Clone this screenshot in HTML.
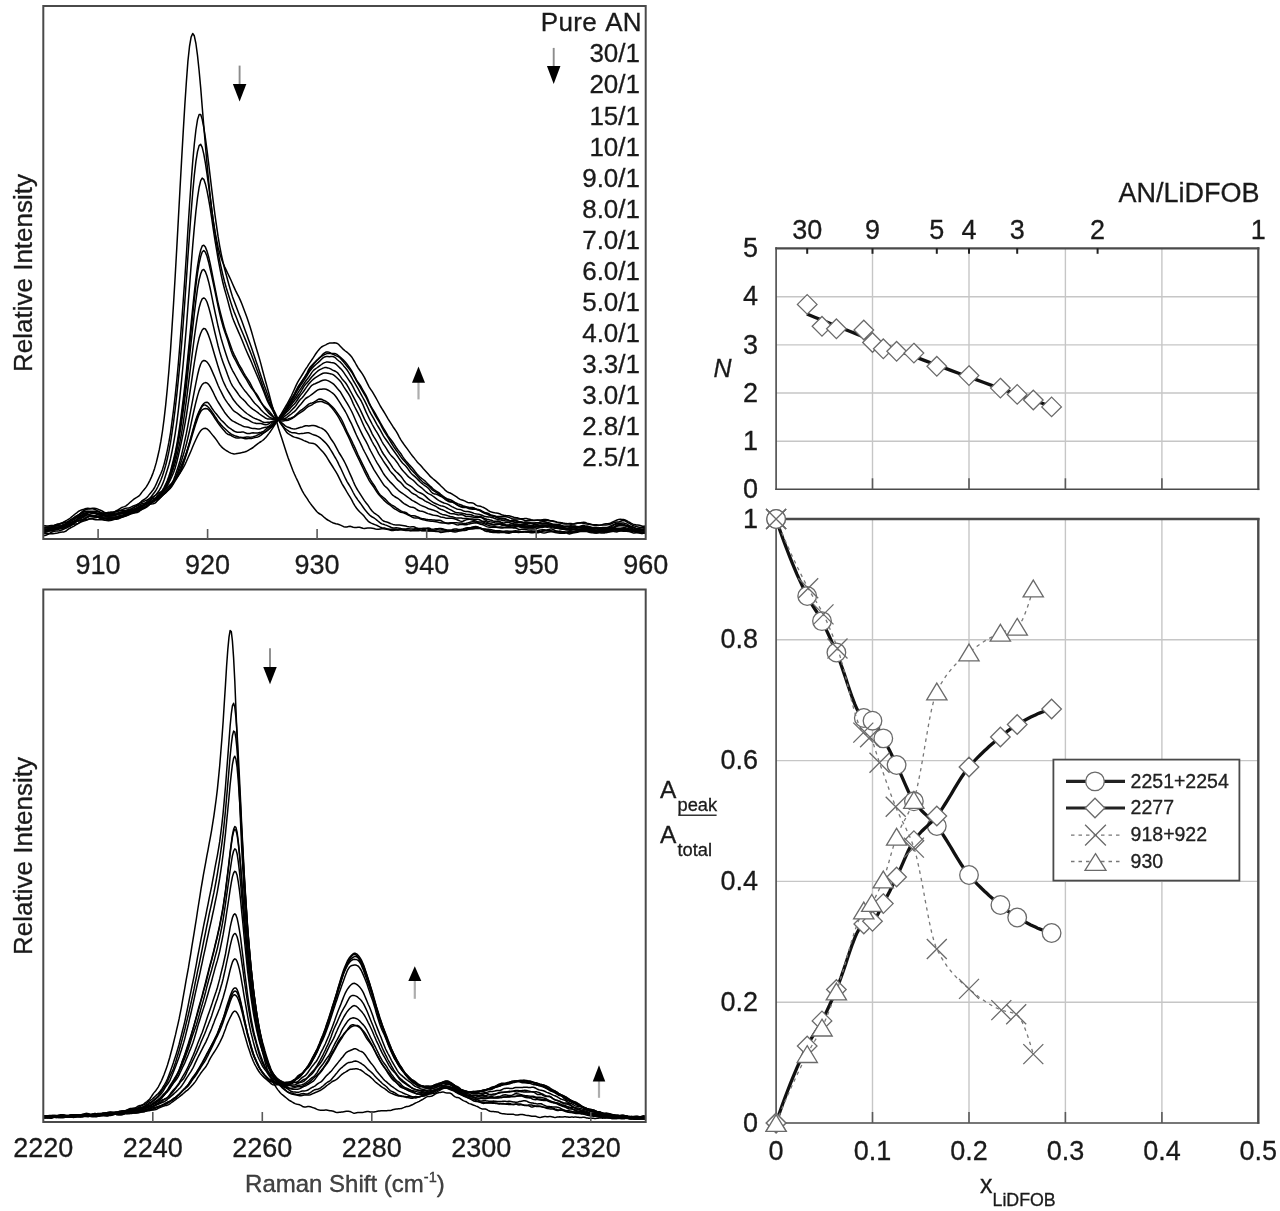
<!DOCTYPE html>
<html lang="en"><head><meta charset="utf-8"><title>Raman spectra of AN/LiDFOB mixtures</title>
<style>html,body{margin:0;padding:0;background:#fff}text{stroke:#1a1a1a;stroke-width:0.3px}svg{display:block}</style></head>
<body>
<svg width="1280" height="1211" viewBox="0 0 1280 1211" font-family="Liberation Sans, Arial, sans-serif">
<rect width="1280" height="1211" fill="#fff"/>
<g id="tl">
<g fill="none" stroke="#000" stroke-width="1.5" stroke-linejoin="round">
<path d="M43.3,531.2 L44.9,530.8 L46.5,530.3 L48.1,529.5 L49.7,528.9 L51.2,528.4 L52.8,528.2 L54.4,528.1 L56.0,528.0 L57.6,527.7 L59.2,527.1 L60.8,526.0 L62.4,524.9 L64.0,524.2 L65.6,523.6 L67.1,522.6 L68.7,521.2 L70.3,519.9 L71.9,518.8 L73.5,517.9 L75.1,516.9 L76.7,515.9 L78.3,514.8 L79.9,513.9 L81.4,513.0 L83.0,512.3 L84.6,511.8 L86.2,511.4 L87.8,511.2 L89.4,511.5 L91.0,511.7 L92.6,512.0 L94.2,512.2 L95.8,512.7 L97.3,513.3 L98.9,513.8 L100.5,513.8 L102.1,513.6 L103.7,513.6 L105.3,513.8 L106.9,513.8 L108.5,513.5 L110.1,513.3 L111.6,513.0 L113.2,512.4 L114.8,511.6 L116.4,510.6 L118.0,509.8 L119.6,508.8 L121.2,507.8 L122.8,507.1 L124.4,506.6 L126.0,505.9 L127.5,504.7 L129.1,503.2 L130.7,501.8 L132.3,500.5 L133.9,499.2 L135.5,498.1 L137.1,497.2 L138.7,496.2 L140.3,494.5 L141.8,492.4 L143.4,490.4 L145.0,488.6 L146.6,486.4 L148.2,483.7 L149.8,480.6 L151.4,477.1 L153.0,473.1 L154.6,468.4 L156.2,462.9 L157.7,456.8 L159.3,449.7 L160.9,441.2 L162.5,431.0 L164.1,418.8 L165.7,404.8 L167.3,388.8 L168.9,370.8 L170.5,350.4 L172.0,327.6 L173.6,302.8 L175.2,276.0 L176.8,247.6 L178.4,218.4 L180.0,189.0 L181.6,160.1 L183.2,132.1 L184.8,105.5 L186.4,81.5 L187.9,61.4 L189.5,46.5 L191.1,37.1 L192.7,33.5 L194.3,35.8 L195.9,43.5 L197.5,55.3 L199.1,70.5 L200.7,87.9 L202.2,106.8 L203.8,126.1 L205.4,145.2 L207.0,163.6 L208.6,180.8 L210.2,196.3 L211.8,209.9 L213.4,221.5 L215.0,231.4 L216.6,239.9 L218.1,247.2 L219.7,253.3 L221.3,258.4 L222.9,262.7 L224.5,266.5 L226.1,269.9 L227.7,273.3 L229.3,276.6 L230.9,280.0 L232.4,283.5 L234.0,287.1 L235.6,290.6 L237.2,293.8 L238.8,296.9 L240.4,300.4 L242.0,304.3 L243.6,308.5 L245.2,312.8 L246.8,317.0 L248.3,321.4 L249.9,326.2 L251.5,331.5 L253.1,337.1 L254.7,342.8 L256.3,348.2 L257.9,353.5 L259.5,358.9 L261.1,364.6 L262.6,370.5 L264.2,376.4 L265.8,382.2 L267.4,387.9 L269.0,393.7 L270.6,399.9 L272.2,405.9 L273.8,411.5 L275.4,417.1 L277.0,422.8 L278.5,428.3 L280.1,433.3 L281.7,438.1 L283.3,442.9 L284.9,448.0 L286.5,453.0 L288.1,457.8 L289.7,462.1 L291.3,466.2 L292.8,470.2 L294.4,474.0 L296.0,477.5 L297.6,480.8 L299.2,484.4 L300.8,487.9 L302.4,491.1 L304.0,493.8 L305.6,496.3 L307.2,498.7 L308.7,501.1 L310.3,503.4 L311.9,505.5 L313.5,507.5 L315.1,509.5 L316.7,511.5 L318.3,513.0 L319.9,514.0 L321.5,514.9 L323.0,516.2 L324.6,517.7 L326.2,519.0 L327.8,520.0 L329.4,520.9 L331.0,521.9 L332.6,522.7 L334.2,523.2 L335.8,523.7 L337.4,524.1 L338.9,524.5 L340.5,525.1 L342.1,525.9 L343.7,526.7 L345.3,527.1 L346.9,526.9 L348.5,526.5 L350.1,526.3 L351.7,526.7 L353.2,527.2 L354.8,527.5 L356.4,527.4 L358.0,527.2 L359.6,527.2 L361.2,527.7 L362.8,528.3 L364.4,528.5 L366.0,528.3 L367.6,528.1 L369.1,528.1 L370.7,528.1 L372.3,528.3 L373.9,528.5 L375.5,529.0 L377.1,529.3 L378.7,529.3 L380.3,529.0 L381.9,528.8 L383.4,528.8 L385.0,529.1 L386.6,529.3 L388.2,529.6 L389.8,530.0 L391.4,530.4 L393.0,530.4 L394.6,530.3 L396.2,530.1 L397.8,530.0 L399.3,529.8 L400.9,529.7 L402.5,529.9 L404.1,530.3 L405.7,530.4 L407.3,530.5 L408.9,530.6 L410.5,530.6 L412.1,530.2 L413.7,529.6 L415.2,529.1 L416.8,528.8 L418.4,529.1 L420.0,529.9 L421.6,530.7 L423.2,530.7 L424.8,530.4 L426.4,530.5 L428.0,530.9 L429.5,531.1 L431.1,531.0 L432.7,531.0 L434.3,531.2 L435.9,531.4 L437.5,531.4 L439.1,531.1 L440.7,530.9 L442.3,531.0 L443.9,531.1 L445.4,531.1 L447.0,531.0 L448.6,530.9 L450.2,530.9 L451.8,531.4 L453.4,531.8 L455.0,532.0 L456.6,531.8 L458.2,531.3 L459.7,530.8 L461.3,530.3 L462.9,530.2 L464.5,530.2 L466.1,529.8 L467.7,529.2 L469.3,528.9 L470.9,528.9 L472.5,528.9 L474.1,528.7 L475.6,528.6 L477.2,528.6 L478.8,528.4 L480.4,528.3 L482.0,529.0 L483.6,530.0 L485.2,531.0 L486.8,531.4 L488.4,531.5 L489.9,531.5 L491.5,531.5 L493.1,531.6 L494.7,531.8 L496.3,532.2 L497.9,532.5 L499.5,532.4 L501.1,532.0 L502.7,531.8 L504.3,532.1 L505.8,532.4 L507.4,532.5 L509.0,532.1 L510.6,531.7 L512.2,531.7 L513.8,531.9 L515.4,532.2 L517.0,532.1 L518.6,532.0 L520.1,531.9 L521.7,531.7 L523.3,531.6 L524.9,531.6 L526.5,531.9 L528.1,532.1 L529.7,532.4 L531.3,532.7 L532.9,532.7 L534.5,532.5 L536.0,532.2 L537.6,532.1 L539.2,532.1 L540.8,532.3 L542.4,532.7 L544.0,532.9 L545.6,532.7 L547.2,532.2 L548.8,532.0 L550.3,531.8 L551.9,531.8 L553.5,532.0 L555.1,532.4 L556.7,532.8 L558.3,533.1 L559.9,533.3 L561.5,533.3 L563.1,533.3 L564.7,533.2 L566.2,532.7 L567.8,532.0 L569.4,531.8 L571.0,532.2 L572.6,532.5 L574.2,532.0 L575.8,531.1 L577.4,530.5 L579.0,530.3 L580.5,530.3 L582.1,530.3 L583.7,530.3 L585.3,530.4 L586.9,530.6 L588.5,530.9 L590.1,531.3 L591.7,531.9 L593.3,532.6 L594.9,533.1 L596.4,533.0 L598.0,532.5 L599.6,532.0 L601.2,531.8 L602.8,531.7 L604.4,531.9 L606.0,532.4 L607.6,532.4 L609.2,531.9 L610.7,531.3 L612.3,531.1 L613.9,531.4 L615.5,531.8 L617.1,531.9 L618.7,531.3 L620.3,530.5 L621.9,530.2 L623.5,530.4 L625.1,530.6 L626.6,530.7 L628.2,531.0 L629.8,531.6 L631.4,532.3 L633.0,532.9 L634.6,532.9 L636.2,532.8 L637.8,532.7 L639.4,532.7 L640.9,532.6 L642.5,532.3 L644.1,532.2 L645.7,532.4"/>
<path d="M43.3,533.4 L44.9,533.4 L46.5,533.6 L48.1,533.6 L49.7,533.1 L51.2,532.4 L52.8,531.7 L54.4,531.2 L56.0,531.1 L57.6,531.0 L59.2,530.8 L60.8,530.4 L62.4,529.8 L64.0,529.0 L65.6,528.3 L67.1,527.7 L68.7,526.9 L70.3,526.0 L71.9,525.0 L73.5,523.8 L75.1,522.6 L76.7,521.6 L78.3,520.6 L79.9,519.5 L81.4,518.2 L83.0,516.9 L84.6,515.8 L86.2,515.1 L87.8,514.6 L89.4,514.2 L91.0,513.8 L92.6,513.4 L94.2,513.2 L95.8,513.1 L97.3,513.4 L98.9,513.8 L100.5,514.4 L102.1,514.7 L103.7,514.9 L105.3,515.1 L106.9,515.5 L108.5,515.9 L110.1,516.1 L111.6,515.8 L113.2,515.5 L114.8,515.2 L116.4,514.9 L118.0,514.4 L119.6,514.0 L121.2,513.7 L122.8,513.3 L124.4,512.3 L126.0,511.3 L127.5,510.5 L129.1,509.9 L130.7,509.2 L132.3,508.3 L133.9,507.4 L135.5,506.4 L137.1,505.4 L138.7,504.1 L140.3,502.5 L141.8,501.0 L143.4,500.0 L145.0,499.0 L146.6,497.7 L148.2,495.9 L149.8,493.9 L151.4,492.0 L153.0,490.0 L154.6,487.5 L156.2,484.2 L157.7,480.6 L159.3,477.0 L160.9,473.5 L162.5,469.4 L164.1,464.1 L165.7,457.6 L167.3,450.3 L168.9,442.2 L170.5,432.8 L172.0,421.7 L173.6,409.4 L175.2,395.7 L176.8,380.2 L178.4,362.8 L180.0,343.5 L181.6,322.9 L183.2,301.3 L184.8,278.7 L186.4,254.8 L187.9,230.1 L189.5,205.5 L191.1,182.5 L192.7,161.9 L194.3,144.2 L195.9,130.0 L197.5,119.8 L199.1,114.6 L200.7,114.5 L202.2,119.3 L203.8,127.6 L205.4,138.2 L207.0,150.1 L208.6,163.0 L210.2,176.5 L211.8,189.9 L213.4,202.8 L215.0,215.0 L216.6,226.3 L218.1,236.7 L219.7,246.1 L221.3,254.3 L222.9,261.6 L224.5,268.2 L226.1,274.3 L227.7,280.3 L229.3,286.0 L230.9,291.5 L232.4,296.4 L234.0,300.8 L235.6,305.1 L237.2,309.3 L238.8,313.4 L240.4,317.4 L242.0,321.6 L243.6,326.0 L245.2,330.5 L246.8,334.8 L248.3,339.0 L249.9,343.3 L251.5,347.8 L253.1,352.5 L254.7,357.2 L256.3,361.9 L257.9,366.6 L259.5,371.4 L261.1,376.2 L262.6,380.8 L264.2,385.3 L265.8,389.6 L267.4,393.9 L269.0,398.3 L270.6,402.6 L272.2,406.6 L273.8,410.1 L275.4,413.4 L277.0,416.8 L278.5,420.1 L280.1,422.9 L281.7,425.1 L283.3,427.4 L284.9,429.8 L286.5,432.1 L288.1,433.7 L289.7,434.6 L291.3,435.6 L292.8,436.5 L294.4,437.1 L296.0,437.6 L297.6,438.0 L299.2,438.5 L300.8,439.1 L302.4,439.8 L304.0,440.6 L305.6,441.2 L307.2,441.9 L308.7,442.7 L310.3,443.1 L311.9,443.3 L313.5,443.5 L315.1,444.1 L316.7,445.4 L318.3,447.0 L319.9,448.8 L321.5,450.5 L323.0,452.1 L324.6,454.0 L326.2,456.2 L327.8,458.8 L329.4,461.5 L331.0,464.0 L332.6,466.5 L334.2,469.1 L335.8,471.6 L337.4,474.3 L338.9,477.3 L340.5,480.6 L342.1,483.8 L343.7,486.5 L345.3,489.2 L346.9,492.0 L348.5,494.7 L350.1,497.2 L351.7,499.8 L353.2,502.8 L354.8,505.6 L356.4,508.0 L358.0,509.9 L359.6,511.8 L361.2,513.3 L362.8,514.8 L364.4,516.6 L366.0,518.7 L367.6,520.6 L369.1,522.0 L370.7,522.9 L372.3,523.6 L373.9,524.3 L375.5,524.9 L377.1,525.5 L378.7,526.3 L380.3,527.2 L381.9,527.8 L383.4,528.0 L385.0,528.1 L386.6,528.6 L388.2,529.1 L389.8,529.3 L391.4,529.3 L393.0,529.2 L394.6,529.2 L396.2,529.6 L397.8,530.0 L399.3,529.8 L400.9,529.5 L402.5,529.5 L404.1,529.6 L405.7,529.7 L407.3,529.9 L408.9,530.3 L410.5,530.7 L412.1,530.7 L413.7,530.7 L415.2,530.8 L416.8,530.8 L418.4,530.7 L420.0,530.4 L421.6,530.3 L423.2,530.4 L424.8,530.7 L426.4,530.8 L428.0,530.8 L429.5,530.7 L431.1,530.7 L432.7,530.9 L434.3,531.0 L435.9,531.0 L437.5,531.3 L439.1,531.9 L440.7,532.5 L442.3,532.3 L443.9,532.0 L445.4,531.8 L447.0,531.6 L448.6,531.4 L450.2,531.1 L451.8,531.1 L453.4,531.1 L455.0,530.7 L456.6,530.4 L458.2,530.4 L459.7,530.7 L461.3,530.7 L462.9,530.6 L464.5,530.5 L466.1,530.2 L467.7,529.6 L469.3,529.0 L470.9,528.3 L472.5,527.8 L474.1,527.8 L475.6,527.9 L477.2,528.0 L478.8,528.0 L480.4,528.3 L482.0,528.9 L483.6,529.3 L485.2,529.5 L486.8,530.0 L488.4,531.1 L489.9,532.0 L491.5,532.3 L493.1,532.4 L494.7,532.5 L496.3,532.6 L497.9,532.4 L499.5,532.3 L501.1,532.4 L502.7,532.6 L504.3,532.5 L505.8,532.7 L507.4,533.0 L509.0,533.2 L510.6,532.8 L512.2,532.2 L513.8,531.9 L515.4,532.0 L517.0,532.3 L518.6,532.5 L520.1,532.3 L521.7,532.0 L523.3,531.8 L524.9,531.8 L526.5,531.9 L528.1,531.9 L529.7,531.7 L531.3,531.6 L532.9,531.7 L534.5,532.1 L536.0,532.6 L537.6,532.8 L539.2,532.4 L540.8,531.6 L542.4,530.7 L544.0,530.3 L545.6,530.4 L547.2,530.6 L548.8,530.7 L550.3,530.7 L551.9,530.9 L553.5,531.2 L555.1,531.6 L556.7,531.9 L558.3,532.0 L559.9,532.1 L561.5,532.0 L563.1,531.8 L564.7,532.0 L566.2,532.7 L567.8,533.6 L569.4,533.9 L571.0,533.6 L572.6,533.0 L574.2,532.7 L575.8,532.4 L577.4,532.2 L579.0,531.8 L580.5,531.5 L582.1,531.4 L583.7,531.4 L585.3,531.3 L586.9,531.5 L588.5,532.1 L590.1,532.6 L591.7,532.8 L593.3,532.7 L594.9,532.8 L596.4,532.8 L598.0,532.6 L599.6,532.7 L601.2,532.9 L602.8,533.0 L604.4,532.9 L606.0,532.6 L607.6,532.0 L609.2,531.5 L610.7,531.1 L612.3,530.4 L613.9,529.6 L615.5,529.0 L617.1,528.9 L618.7,529.1 L620.3,529.1 L621.9,528.9 L623.5,528.7 L625.1,528.8 L626.6,529.2 L628.2,529.7 L629.8,530.0 L631.4,530.2 L633.0,530.4 L634.6,530.8 L636.2,531.4 L637.8,532.0 L639.4,532.8 L640.9,533.4 L642.5,533.4 L644.1,533.0 L645.7,532.6"/>
<path d="M43.3,535.6 L44.9,535.5 L46.5,535.0 L48.1,534.2 L49.7,533.8 L51.2,533.7 L52.8,533.7 L54.4,533.5 L56.0,533.2 L57.6,532.9 L59.2,532.5 L60.8,532.2 L62.4,532.0 L64.0,531.9 L65.6,531.3 L67.1,530.1 L68.7,528.9 L70.3,528.0 L71.9,527.2 L73.5,526.3 L75.1,525.3 L76.7,524.3 L78.3,523.3 L79.9,522.2 L81.4,521.1 L83.0,520.2 L84.6,519.7 L86.2,519.6 L87.8,519.5 L89.4,519.0 L91.0,518.8 L92.6,519.0 L94.2,519.5 L95.8,519.7 L97.3,519.7 L98.9,519.7 L100.5,519.8 L102.1,519.8 L103.7,519.8 L105.3,520.2 L106.9,520.6 L108.5,520.8 L110.1,520.6 L111.6,520.2 L113.2,519.7 L114.8,519.3 L116.4,519.2 L118.0,519.0 L119.6,518.3 L121.2,517.3 L122.8,516.5 L124.4,516.1 L126.0,515.2 L127.5,514.1 L129.1,512.9 L130.7,512.2 L132.3,511.7 L133.9,511.2 L135.5,510.5 L137.1,509.4 L138.7,508.1 L140.3,506.9 L141.8,506.1 L143.4,505.2 L145.0,503.7 L146.6,502.0 L148.2,500.3 L149.8,498.5 L151.4,496.4 L153.0,494.3 L154.6,492.2 L156.2,489.9 L157.7,487.0 L159.3,483.7 L160.9,480.0 L162.5,475.8 L164.1,470.8 L165.7,465.2 L167.3,458.8 L168.9,451.4 L170.5,442.8 L172.0,432.9 L173.6,421.6 L175.2,408.9 L176.8,394.6 L178.4,379.1 L180.0,362.4 L181.6,344.1 L183.2,323.7 L184.8,301.9 L186.4,279.3 L187.9,256.7 L189.5,234.3 L191.1,212.7 L192.7,192.7 L194.3,175.4 L195.9,161.6 L197.5,151.6 L199.1,145.6 L200.7,144.3 L202.2,147.4 L203.8,154.1 L205.4,163.2 L207.0,173.8 L208.6,185.3 L210.2,197.5 L211.8,210.0 L213.4,222.1 L215.0,233.1 L216.6,243.3 L218.1,252.4 L219.7,260.6 L221.3,268.1 L222.9,275.1 L224.5,281.5 L226.1,287.3 L227.7,292.5 L229.3,297.5 L230.9,302.6 L232.4,307.3 L234.0,311.6 L235.6,315.5 L237.2,319.6 L238.8,323.9 L240.4,327.8 L242.0,331.5 L243.6,335.3 L245.2,339.1 L246.8,343.0 L248.3,346.9 L249.9,350.9 L251.5,355.0 L253.1,359.2 L254.7,363.6 L256.3,367.9 L257.9,372.2 L259.5,376.7 L261.1,381.3 L262.6,385.7 L264.2,390.0 L265.8,394.2 L267.4,398.2 L269.0,401.8 L270.6,405.1 L272.2,408.3 L273.8,411.9 L275.4,415.1 L277.0,417.6 L278.5,419.5 L280.1,421.8 L281.7,424.3 L283.3,426.6 L284.9,428.3 L286.5,429.6 L288.1,430.7 L289.7,431.8 L291.3,432.4 L292.8,432.7 L294.4,432.8 L296.0,433.1 L297.6,433.5 L299.2,433.7 L300.8,433.6 L302.4,433.4 L304.0,433.2 L305.6,432.9 L307.2,432.7 L308.7,432.8 L310.3,433.4 L311.9,434.1 L313.5,434.7 L315.1,435.2 L316.7,435.8 L318.3,436.6 L319.9,437.6 L321.5,439.0 L323.0,440.4 L324.6,441.9 L326.2,443.5 L327.8,445.5 L329.4,447.8 L331.0,450.3 L332.6,453.0 L334.2,455.8 L335.8,458.5 L337.4,461.4 L338.9,464.6 L340.5,467.8 L342.1,471.3 L343.7,474.7 L345.3,478.2 L346.9,481.3 L348.5,484.0 L350.1,486.6 L351.7,489.5 L353.2,492.5 L354.8,495.3 L356.4,497.8 L358.0,500.1 L359.6,502.2 L361.2,504.4 L362.8,506.7 L364.4,509.0 L366.0,511.1 L367.6,512.9 L369.1,514.6 L370.7,516.0 L372.3,517.0 L373.9,517.9 L375.5,519.0 L377.1,520.3 L378.7,521.7 L380.3,523.0 L381.9,523.9 L383.4,524.3 L385.0,524.9 L386.6,525.4 L388.2,526.1 L389.8,526.8 L391.4,527.5 L393.0,528.0 L394.6,528.0 L396.2,527.8 L397.8,527.9 L399.3,528.2 L400.9,528.6 L402.5,528.9 L404.1,529.1 L405.7,528.9 L407.3,528.7 L408.9,528.8 L410.5,529.0 L412.1,529.1 L413.7,528.9 L415.2,528.8 L416.8,529.1 L418.4,529.8 L420.0,530.3 L421.6,530.2 L423.2,529.5 L424.8,529.3 L426.4,529.5 L428.0,529.7 L429.5,529.7 L431.1,529.8 L432.7,530.1 L434.3,530.2 L435.9,529.8 L437.5,529.3 L439.1,529.1 L440.7,529.1 L442.3,529.4 L443.9,529.8 L445.4,530.3 L447.0,530.9 L448.6,531.1 L450.2,531.0 L451.8,530.7 L453.4,530.7 L455.0,530.6 L456.6,530.3 L458.2,529.9 L459.7,529.8 L461.3,529.8 L462.9,529.5 L464.5,529.0 L466.1,528.6 L467.7,528.6 L469.3,528.6 L470.9,528.4 L472.5,528.2 L474.1,528.0 L475.6,527.7 L477.2,527.5 L478.8,527.6 L480.4,528.1 L482.0,528.7 L483.6,529.0 L485.2,529.3 L486.8,529.8 L488.4,530.4 L489.9,530.8 L491.5,531.3 L493.1,531.8 L494.7,531.8 L496.3,531.6 L497.9,531.7 L499.5,532.1 L501.1,532.0 L502.7,531.6 L504.3,531.2 L505.8,531.0 L507.4,531.0 L509.0,531.2 L510.6,531.3 L512.2,531.2 L513.8,530.9 L515.4,530.8 L517.0,530.9 L518.6,531.1 L520.1,531.4 L521.7,531.7 L523.3,531.9 L524.9,531.8 L526.5,531.7 L528.1,531.5 L529.7,531.4 L531.3,531.3 L532.9,531.3 L534.5,531.3 L536.0,531.1 L537.6,530.8 L539.2,530.3 L540.8,530.0 L542.4,529.8 L544.0,529.8 L545.6,529.9 L547.2,529.8 L548.8,529.4 L550.3,529.0 L551.9,529.1 L553.5,529.6 L555.1,530.5 L556.7,531.1 L558.3,531.2 L559.9,531.1 L561.5,531.4 L563.1,531.9 L564.7,532.1 L566.2,532.2 L567.8,532.5 L569.4,532.8 L571.0,532.5 L572.6,531.9 L574.2,531.3 L575.8,530.8 L577.4,530.2 L579.0,529.7 L580.5,529.5 L582.1,529.5 L583.7,529.8 L585.3,530.3 L586.9,530.6 L588.5,530.6 L590.1,530.6 L591.7,531.0 L593.3,531.5 L594.9,531.7 L596.4,531.4 L598.0,531.0 L599.6,530.9 L601.2,531.3 L602.8,531.6 L604.4,531.7 L606.0,531.5 L607.6,531.5 L609.2,531.7 L610.7,531.7 L612.3,531.5 L613.9,531.0 L615.5,530.9 L617.1,531.0 L618.7,531.1 L620.3,531.1 L621.9,531.1 L623.5,531.2 L625.1,531.3 L626.6,531.3 L628.2,531.4 L629.8,531.5 L631.4,531.3 L633.0,531.2 L634.6,531.2 L636.2,531.4 L637.8,531.7 L639.4,532.1 L640.9,532.3 L642.5,532.4 L644.1,532.4 L645.7,532.6"/>
<path d="M43.3,529.4 L44.9,529.6 L46.5,529.7 L48.1,529.4 L49.7,528.8 L51.2,527.9 L52.8,527.3 L54.4,527.1 L56.0,527.2 L57.6,527.2 L59.2,526.7 L60.8,526.1 L62.4,525.7 L64.0,525.1 L65.6,524.1 L67.1,522.9 L68.7,521.9 L70.3,521.1 L71.9,520.3 L73.5,519.4 L75.1,518.3 L76.7,517.1 L78.3,515.7 L79.9,514.2 L81.4,512.9 L83.0,512.1 L84.6,511.8 L86.2,511.6 L87.8,511.4 L89.4,511.4 L91.0,511.8 L92.6,512.4 L94.2,513.2 L95.8,513.8 L97.3,514.5 L98.9,515.0 L100.5,515.0 L102.1,515.1 L103.7,515.5 L105.3,516.1 L106.9,516.7 L108.5,517.2 L110.1,517.4 L111.6,517.3 L113.2,517.2 L114.8,517.1 L116.4,516.7 L118.0,516.1 L119.6,515.8 L121.2,515.5 L122.8,515.1 L124.4,514.4 L126.0,513.7 L127.5,513.1 L129.1,512.7 L130.7,512.1 L132.3,511.4 L133.9,510.8 L135.5,510.4 L137.1,509.8 L138.7,508.9 L140.3,507.8 L141.8,506.6 L143.4,505.6 L145.0,504.8 L146.6,503.8 L148.2,502.5 L149.8,500.8 L151.4,499.0 L153.0,497.4 L154.6,496.0 L156.2,494.5 L157.7,492.5 L159.3,490.2 L160.9,487.5 L162.5,484.2 L164.1,480.0 L165.7,475.1 L167.3,470.1 L168.9,464.8 L170.5,458.7 L172.0,451.5 L173.6,443.1 L175.2,433.6 L176.8,422.6 L178.4,409.9 L180.0,395.7 L181.6,380.1 L183.2,363.5 L184.8,345.5 L186.4,326.6 L187.9,306.8 L189.5,286.5 L191.1,265.9 L192.7,245.9 L194.3,227.6 L195.9,211.4 L197.5,197.8 L199.1,187.5 L200.7,180.7 L202.2,178.1 L203.8,179.3 L205.4,183.9 L207.0,190.7 L208.6,199.0 L210.2,208.4 L211.8,218.9 L213.4,229.9 L215.0,240.5 L216.6,250.0 L218.1,258.8 L219.7,267.3 L221.3,275.5 L222.9,282.8 L224.5,289.0 L226.1,294.6 L227.7,300.4 L229.3,306.5 L230.9,312.3 L232.4,317.3 L234.0,321.4 L235.6,325.2 L237.2,328.9 L238.8,332.6 L240.4,336.3 L242.0,340.0 L243.6,344.0 L245.2,348.0 L246.8,351.7 L248.3,355.1 L249.9,358.6 L251.5,362.3 L253.1,366.2 L254.7,370.0 L256.3,373.7 L257.9,377.5 L259.5,381.3 L261.1,385.0 L262.6,388.8 L264.2,392.8 L265.8,396.9 L267.4,400.9 L269.0,404.1 L270.6,406.9 L272.2,409.7 L273.8,412.6 L275.4,415.4 L277.0,417.8 L278.5,419.9 L280.1,421.5 L281.7,422.7 L283.3,424.1 L284.9,425.6 L286.5,426.6 L288.1,427.2 L289.7,427.8 L291.3,428.5 L292.8,428.8 L294.4,428.9 L296.0,428.7 L297.6,428.3 L299.2,427.7 L300.8,427.3 L302.4,426.9 L304.0,426.3 L305.6,425.7 L307.2,425.7 L308.7,425.9 L310.3,425.7 L311.9,425.6 L313.5,425.5 L315.1,425.8 L316.7,426.3 L318.3,427.0 L319.9,427.6 L321.5,428.1 L323.0,429.0 L324.6,430.1 L326.2,431.6 L327.8,433.7 L329.4,436.4 L331.0,439.0 L332.6,441.3 L334.2,443.7 L335.8,446.6 L337.4,449.7 L338.9,452.5 L340.5,455.0 L342.1,457.6 L343.7,460.4 L345.3,463.5 L346.9,466.9 L348.5,470.5 L350.1,474.1 L351.7,477.6 L353.2,481.3 L354.8,484.9 L356.4,488.0 L358.0,490.7 L359.6,493.2 L361.2,495.7 L362.8,498.2 L364.4,500.6 L366.0,502.7 L367.6,504.7 L369.1,506.9 L370.7,509.3 L372.3,511.3 L373.9,512.8 L375.5,513.9 L377.1,515.0 L378.7,516.2 L380.3,517.9 L381.9,519.7 L383.4,521.0 L385.0,521.5 L386.6,521.9 L388.2,522.5 L389.8,523.2 L391.4,523.9 L393.0,524.4 L394.6,524.8 L396.2,525.1 L397.8,525.1 L399.3,525.1 L400.9,525.2 L402.5,525.4 L404.1,525.7 L405.7,526.1 L407.3,526.5 L408.9,526.8 L410.5,526.9 L412.1,526.8 L413.7,526.8 L415.2,527.3 L416.8,528.1 L418.4,528.5 L420.0,528.6 L421.6,528.4 L423.2,528.3 L424.8,528.3 L426.4,528.2 L428.0,528.0 L429.5,528.3 L431.1,528.9 L432.7,529.2 L434.3,529.0 L435.9,528.7 L437.5,528.7 L439.1,528.6 L440.7,528.5 L442.3,528.8 L443.9,529.2 L445.4,529.6 L447.0,529.9 L448.6,530.1 L450.2,530.1 L451.8,529.7 L453.4,529.2 L455.0,528.9 L456.6,529.1 L458.2,529.4 L459.7,529.5 L461.3,529.3 L462.9,529.0 L464.5,528.5 L466.1,528.1 L467.7,527.8 L469.3,527.7 L470.9,527.5 L472.5,527.1 L474.1,526.7 L475.6,526.5 L477.2,526.7 L478.8,527.4 L480.4,528.3 L482.0,529.0 L483.6,529.3 L485.2,529.2 L486.8,529.2 L488.4,529.3 L489.9,529.5 L491.5,529.8 L493.1,530.2 L494.7,530.6 L496.3,530.8 L497.9,530.8 L499.5,530.7 L501.1,531.0 L502.7,531.4 L504.3,531.9 L505.8,532.1 L507.4,532.0 L509.0,531.9 L510.6,531.8 L512.2,531.9 L513.8,531.9 L515.4,531.9 L517.0,531.9 L518.6,532.1 L520.1,532.1 L521.7,532.0 L523.3,531.8 L524.9,531.6 L526.5,531.3 L528.1,531.1 L529.7,531.0 L531.3,531.0 L532.9,531.2 L534.5,531.3 L536.0,531.2 L537.6,531.3 L539.2,531.6 L540.8,531.7 L542.4,531.3 L544.0,530.9 L545.6,530.8 L547.2,530.7 L548.8,530.6 L550.3,530.8 L551.9,531.3 L553.5,531.6 L555.1,531.6 L556.7,531.5 L558.3,531.8 L559.9,532.0 L561.5,531.9 L563.1,531.9 L564.7,532.1 L566.2,532.2 L567.8,532.1 L569.4,531.8 L571.0,531.8 L572.6,531.9 L574.2,531.9 L575.8,531.7 L577.4,531.4 L579.0,531.2 L580.5,531.0 L582.1,530.6 L583.7,530.4 L585.3,530.4 L586.9,530.9 L588.5,531.4 L590.1,531.6 L591.7,531.6 L593.3,531.8 L594.9,532.2 L596.4,532.7 L598.0,532.6 L599.6,532.2 L601.2,531.9 L602.8,531.9 L604.4,531.9 L606.0,531.6 L607.6,530.9 L609.2,530.1 L610.7,529.3 L612.3,528.8 L613.9,528.1 L615.5,527.1 L617.1,526.1 L618.7,525.7 L620.3,525.7 L621.9,525.7 L623.5,525.6 L625.1,525.7 L626.6,526.0 L628.2,526.6 L629.8,527.6 L631.4,528.7 L633.0,529.8 L634.6,530.8 L636.2,531.5 L637.8,532.1 L639.4,532.5 L640.9,532.8 L642.5,532.9 L644.1,532.8 L645.7,532.7"/>
<path d="M43.3,532.4 L44.9,532.2 L46.5,532.0 L48.1,531.5 L49.7,530.8 L51.2,530.2 L52.8,530.0 L54.4,529.8 L56.0,529.5 L57.6,529.4 L59.2,529.1 L60.8,528.7 L62.4,528.2 L64.0,527.6 L65.6,527.0 L67.1,526.4 L68.7,525.7 L70.3,524.5 L71.9,523.0 L73.5,521.7 L75.1,520.7 L76.7,519.8 L78.3,518.8 L79.9,517.9 L81.4,517.1 L83.0,516.5 L84.6,515.9 L86.2,515.2 L87.8,514.8 L89.4,514.9 L91.0,515.5 L92.6,516.1 L94.2,516.4 L95.8,516.4 L97.3,516.8 L98.9,517.6 L100.5,518.5 L102.1,519.3 L103.7,519.9 L105.3,520.2 L106.9,520.2 L108.5,520.0 L110.1,519.6 L111.6,519.2 L113.2,519.0 L114.8,518.8 L116.4,518.3 L118.0,518.0 L119.6,517.8 L121.2,517.5 L122.8,517.0 L124.4,516.5 L126.0,516.1 L127.5,515.4 L129.1,514.6 L130.7,514.0 L132.3,513.6 L133.9,513.1 L135.5,512.2 L137.1,511.3 L138.7,510.7 L140.3,510.2 L141.8,509.5 L143.4,508.9 L145.0,508.0 L146.6,507.1 L148.2,505.8 L149.8,504.1 L151.4,502.3 L153.0,500.7 L154.6,499.4 L156.2,498.3 L157.7,496.9 L159.3,495.0 L160.9,492.7 L162.5,490.2 L164.1,487.3 L165.7,484.2 L167.3,480.5 L168.9,476.2 L170.5,471.2 L172.0,465.5 L173.6,459.3 L175.2,452.5 L176.8,444.5 L178.4,435.0 L180.0,424.1 L181.6,412.2 L183.2,399.6 L184.8,385.9 L186.4,371.4 L187.9,356.0 L189.5,340.0 L191.1,323.8 L192.7,308.0 L194.3,292.9 L195.9,278.9 L197.5,266.6 L199.1,256.8 L200.7,249.9 L202.2,246.0 L203.8,245.2 L205.4,247.1 L207.0,251.1 L208.6,256.7 L210.2,263.7 L211.8,271.6 L213.4,279.8 L215.0,287.9 L216.6,295.9 L218.1,303.3 L219.7,309.9 L221.3,316.1 L222.9,322.3 L224.5,328.1 L226.1,333.1 L227.7,337.5 L229.3,342.0 L230.9,346.6 L232.4,350.8 L234.0,354.4 L235.6,357.6 L237.2,360.9 L238.8,364.1 L240.4,366.8 L242.0,369.5 L243.6,372.5 L245.2,375.3 L246.8,377.8 L248.3,380.1 L249.9,382.7 L251.5,385.8 L253.1,389.0 L254.7,391.6 L256.3,393.7 L257.9,396.1 L259.5,399.1 L261.1,402.1 L262.6,404.5 L264.2,406.3 L265.8,408.0 L267.4,409.5 L269.0,411.1 L270.6,413.0 L272.2,415.0 L273.8,417.0 L275.4,418.3 L277.0,419.1 L278.5,419.8 L280.1,420.6 L281.7,421.1 L283.3,421.0 L284.9,420.6 L286.5,420.5 L288.1,420.3 L289.7,419.6 L291.3,418.8 L292.8,418.0 L294.4,416.9 L296.0,415.6 L297.6,414.3 L299.2,413.3 L300.8,412.3 L302.4,411.4 L304.0,410.2 L305.6,408.7 L307.2,407.3 L308.7,406.2 L310.3,405.6 L311.9,404.8 L313.5,403.7 L315.1,402.8 L316.7,402.1 L318.3,401.7 L319.9,401.4 L321.5,401.5 L323.0,402.0 L324.6,402.7 L326.2,403.3 L327.8,404.0 L329.4,405.2 L331.0,406.9 L332.6,408.9 L334.2,410.9 L335.8,413.1 L337.4,415.4 L338.9,418.0 L340.5,420.9 L342.1,423.9 L343.7,427.0 L345.3,430.3 L346.9,433.6 L348.5,437.0 L350.1,440.5 L351.7,444.1 L353.2,447.7 L354.8,451.0 L356.4,454.3 L358.0,457.7 L359.6,461.0 L361.2,464.3 L362.8,467.7 L364.4,471.2 L366.0,474.4 L367.6,477.5 L369.1,480.3 L370.7,482.8 L372.3,485.0 L373.9,487.3 L375.5,489.9 L377.1,492.4 L378.7,494.5 L380.3,496.2 L381.9,497.9 L383.4,499.6 L385.0,501.2 L386.6,502.6 L388.2,503.8 L389.8,505.0 L391.4,506.2 L393.0,507.6 L394.6,508.8 L396.2,509.7 L397.8,510.7 L399.3,511.5 L400.9,512.2 L402.5,512.6 L404.1,513.0 L405.7,513.7 L407.3,514.5 L408.9,515.3 L410.5,516.2 L412.1,517.1 L413.7,517.8 L415.2,518.0 L416.8,517.9 L418.4,518.1 L420.0,518.7 L421.6,519.3 L423.2,519.8 L424.8,520.1 L426.4,520.5 L428.0,520.8 L429.5,521.0 L431.1,521.2 L432.7,521.3 L434.3,521.5 L435.9,521.8 L437.5,522.1 L439.1,522.4 L440.7,522.7 L442.3,523.0 L443.9,523.0 L445.4,523.1 L447.0,523.5 L448.6,523.7 L450.2,523.5 L451.8,523.1 L453.4,523.4 L455.0,524.1 L456.6,524.8 L458.2,524.9 L459.7,524.6 L461.3,524.4 L462.9,524.6 L464.5,524.8 L466.1,524.7 L467.7,524.4 L469.3,523.9 L470.9,523.5 L472.5,523.2 L474.1,522.9 L475.6,522.8 L477.2,523.0 L478.8,523.6 L480.4,524.2 L482.0,524.5 L483.6,525.0 L485.2,525.8 L486.8,526.6 L488.4,527.1 L489.9,527.2 L491.5,527.2 L493.1,527.2 L494.7,527.2 L496.3,527.3 L497.9,527.5 L499.5,527.8 L501.1,528.0 L502.7,527.9 L504.3,527.8 L505.8,527.8 L507.4,527.7 L509.0,527.7 L510.6,527.7 L512.2,527.8 L513.8,527.9 L515.4,528.1 L517.0,528.6 L518.6,529.2 L520.1,529.4 L521.7,529.2 L523.3,529.3 L524.9,529.3 L526.5,529.2 L528.1,528.9 L529.7,528.9 L531.3,529.0 L532.9,529.1 L534.5,529.1 L536.0,528.7 L537.6,528.2 L539.2,527.7 L540.8,527.5 L542.4,527.4 L544.0,527.1 L545.6,527.1 L547.2,527.2 L548.8,527.1 L550.3,526.8 L551.9,526.7 L553.5,527.0 L555.1,527.6 L556.7,528.1 L558.3,528.3 L559.9,528.5 L561.5,528.7 L563.1,529.2 L564.7,529.6 L566.2,529.6 L567.8,529.3 L569.4,529.2 L571.0,529.4 L572.6,529.5 L574.2,529.4 L575.8,529.3 L577.4,529.4 L579.0,529.7 L580.5,529.8 L582.1,529.8 L583.7,529.7 L585.3,529.5 L586.9,529.5 L588.5,529.7 L590.1,530.0 L591.7,530.3 L593.3,530.4 L594.9,530.3 L596.4,530.0 L598.0,530.1 L599.6,530.5 L601.2,530.5 L602.8,529.9 L604.4,529.4 L606.0,529.2 L607.6,529.2 L609.2,529.1 L610.7,529.0 L612.3,529.0 L613.9,529.1 L615.5,529.3 L617.1,529.4 L618.7,529.5 L620.3,529.6 L621.9,529.7 L623.5,529.5 L625.1,529.4 L626.6,529.7 L628.2,530.1 L629.8,530.0 L631.4,529.9 L633.0,530.0 L634.6,530.5 L636.2,531.0 L637.8,531.2 L639.4,531.0 L640.9,530.5 L642.5,530.0 L644.1,530.0 L645.7,530.4"/>
<path d="M43.3,529.5 L44.9,529.3 L46.5,529.0 L48.1,529.0 L49.7,529.2 L51.2,529.0 L52.8,528.3 L54.4,527.6 L56.0,527.6 L57.6,528.0 L59.2,528.1 L60.8,527.8 L62.4,527.0 L64.0,526.2 L65.6,525.6 L67.1,525.0 L68.7,524.3 L70.3,523.8 L71.9,523.3 L73.5,522.5 L75.1,521.3 L76.7,520.2 L78.3,519.2 L79.9,518.4 L81.4,517.7 L83.0,517.3 L84.6,517.1 L86.2,517.0 L87.8,516.7 L89.4,516.3 L91.0,515.8 L92.6,515.4 L94.2,515.5 L95.8,515.7 L97.3,516.1 L98.9,516.6 L100.5,517.2 L102.1,517.8 L103.7,518.3 L105.3,518.4 L106.9,518.5 L108.5,518.6 L110.1,518.7 L111.6,518.6 L113.2,518.2 L114.8,517.6 L116.4,516.9 L118.0,516.5 L119.6,516.5 L121.2,516.6 L122.8,516.3 L124.4,515.6 L126.0,514.8 L127.5,514.1 L129.1,513.4 L130.7,512.8 L132.3,512.2 L133.9,511.7 L135.5,511.2 L137.1,510.6 L138.7,509.7 L140.3,508.9 L141.8,508.4 L143.4,507.9 L145.0,507.3 L146.6,506.5 L148.2,505.4 L149.8,504.0 L151.4,502.9 L153.0,502.0 L154.6,500.8 L156.2,499.2 L157.7,497.5 L159.3,496.0 L160.9,494.3 L162.5,492.0 L164.1,489.0 L165.7,485.7 L167.3,482.3 L168.9,478.2 L170.5,473.2 L172.0,467.5 L173.6,461.6 L175.2,455.2 L176.8,447.5 L178.4,438.4 L180.0,428.3 L181.6,417.4 L183.2,405.3 L184.8,392.1 L186.4,377.7 L187.9,362.5 L189.5,346.7 L191.1,330.7 L192.7,314.8 L194.3,299.6 L195.9,285.6 L197.5,273.5 L199.1,263.7 L200.7,256.5 L202.2,252.0 L203.8,250.5 L205.4,252.2 L207.0,256.3 L208.6,262.2 L210.2,269.0 L211.8,276.3 L213.4,283.8 L215.0,291.4 L216.6,299.0 L218.1,306.4 L219.7,313.5 L221.3,320.0 L222.9,325.9 L224.5,330.9 L226.1,335.5 L227.7,340.1 L229.3,345.2 L230.9,350.2 L232.4,354.3 L234.0,357.6 L235.6,360.5 L237.2,363.6 L238.8,366.7 L240.4,369.7 L242.0,372.4 L243.6,375.0 L245.2,377.5 L246.8,380.1 L248.3,382.9 L249.9,385.6 L251.5,388.0 L253.1,390.1 L254.7,392.4 L256.3,395.1 L257.9,397.8 L259.5,400.3 L261.1,402.6 L262.6,404.9 L264.2,407.3 L265.8,409.5 L267.4,411.5 L269.0,413.4 L270.6,414.9 L272.2,416.3 L273.8,417.5 L275.4,418.3 L277.0,418.9 L278.5,419.4 L280.1,419.8 L281.7,419.8 L283.3,419.4 L284.9,419.2 L286.5,419.2 L288.1,419.0 L289.7,418.5 L291.3,418.0 L292.8,417.3 L294.4,416.3 L296.0,414.8 L297.6,413.2 L299.2,411.7 L300.8,410.4 L302.4,409.3 L304.0,408.1 L305.6,406.7 L307.2,405.3 L308.7,404.1 L310.3,403.3 L311.9,402.9 L313.5,402.4 L315.1,401.5 L316.7,400.3 L318.3,399.3 L319.9,398.9 L321.5,399.3 L323.0,400.0 L324.6,400.7 L326.2,401.5 L327.8,402.6 L329.4,404.1 L331.0,405.6 L332.6,407.1 L334.2,408.7 L335.8,410.9 L337.4,413.2 L338.9,415.4 L340.5,417.7 L342.1,420.5 L343.7,424.0 L345.3,427.8 L346.9,431.4 L348.5,434.6 L350.1,437.7 L351.7,440.8 L353.2,444.1 L354.8,447.4 L356.4,451.0 L358.0,454.7 L359.6,458.1 L361.2,461.4 L362.8,464.6 L364.4,467.9 L366.0,471.1 L367.6,474.2 L369.1,477.3 L370.7,480.2 L372.3,482.7 L373.9,485.0 L375.5,487.5 L377.1,490.3 L378.7,493.0 L380.3,495.0 L381.9,496.3 L383.4,497.5 L385.0,498.9 L386.6,500.5 L388.2,502.2 L389.8,503.7 L391.4,504.8 L393.0,505.6 L394.6,506.6 L396.2,507.8 L397.8,508.9 L399.3,509.9 L400.9,510.9 L402.5,511.7 L404.1,512.1 L405.7,512.5 L407.3,513.5 L408.9,514.8 L410.5,515.5 L412.1,515.7 L413.7,515.7 L415.2,516.0 L416.8,516.6 L418.4,517.3 L420.0,518.0 L421.6,518.4 L423.2,518.7 L424.8,519.0 L426.4,519.4 L428.0,519.6 L429.5,519.7 L431.1,519.7 L432.7,519.9 L434.3,520.0 L435.9,520.2 L437.5,520.3 L439.1,520.3 L440.7,520.5 L442.3,521.3 L443.9,522.3 L445.4,523.0 L447.0,523.1 L448.6,522.9 L450.2,522.8 L451.8,522.7 L453.4,522.7 L455.0,522.7 L456.6,522.8 L458.2,523.0 L459.7,523.1 L461.3,523.1 L462.9,523.3 L464.5,523.4 L466.1,523.3 L467.7,522.9 L469.3,522.5 L470.9,522.1 L472.5,521.8 L474.1,521.7 L475.6,521.9 L477.2,522.4 L478.8,522.9 L480.4,523.0 L482.0,523.1 L483.6,523.4 L485.2,524.1 L486.8,524.7 L488.4,525.2 L489.9,525.7 L491.5,526.1 L493.1,526.3 L494.7,526.6 L496.3,526.9 L497.9,527.2 L499.5,527.1 L501.1,527.0 L502.7,527.2 L504.3,527.2 L505.8,527.1 L507.4,526.9 L509.0,526.8 L510.6,527.1 L512.2,527.3 L513.8,527.5 L515.4,527.2 L517.0,526.7 L518.6,526.4 L520.1,526.5 L521.7,527.1 L523.3,527.8 L524.9,528.1 L526.5,528.1 L528.1,527.9 L529.7,527.7 L531.3,527.5 L532.9,527.3 L534.5,527.1 L536.0,527.1 L537.6,527.1 L539.2,527.0 L540.8,526.6 L542.4,526.1 L544.0,525.7 L545.6,525.6 L547.2,525.8 L548.8,525.9 L550.3,525.9 L551.9,526.0 L553.5,526.5 L555.1,527.1 L556.7,527.6 L558.3,528.1 L559.9,528.7 L561.5,529.0 L563.1,529.0 L564.7,529.2 L566.2,529.4 L567.8,529.4 L569.4,528.9 L571.0,528.3 L572.6,527.8 L574.2,527.7 L575.8,527.9 L577.4,527.8 L579.0,527.3 L580.5,526.8 L582.1,526.5 L583.7,526.6 L585.3,527.1 L586.9,528.0 L588.5,529.0 L590.1,529.4 L591.7,529.2 L593.3,528.4 L594.9,527.7 L596.4,527.5 L598.0,528.1 L599.6,528.9 L601.2,529.5 L602.8,529.7 L604.4,529.7 L606.0,529.7 L607.6,529.7 L609.2,529.5 L610.7,529.0 L612.3,528.7 L613.9,529.0 L615.5,529.6 L617.1,529.8 L618.7,529.4 L620.3,529.0 L621.9,528.9 L623.5,529.0 L625.1,529.1 L626.6,529.2 L628.2,529.3 L629.8,529.4 L631.4,529.5 L633.0,529.4 L634.6,529.3 L636.2,529.2 L637.8,529.3 L639.4,529.5 L640.9,529.5 L642.5,529.3 L644.1,529.1 L645.7,529.0"/>
<path d="M43.3,530.9 L44.9,530.9 L46.5,530.6 L48.1,530.6 L49.7,530.8 L51.2,530.9 L52.8,530.5 L54.4,529.8 L56.0,529.0 L57.6,528.5 L59.2,528.3 L60.8,528.5 L62.4,528.4 L64.0,527.8 L65.6,527.2 L67.1,526.7 L68.7,526.3 L70.3,525.6 L71.9,524.8 L73.5,524.2 L75.1,523.9 L76.7,523.8 L78.3,523.4 L79.9,522.6 L81.4,521.8 L83.0,521.2 L84.6,520.8 L86.2,520.3 L87.8,519.5 L89.4,518.8 L91.0,518.4 L92.6,518.2 L94.2,518.1 L95.8,517.8 L97.3,517.3 L98.9,517.1 L100.5,517.1 L102.1,517.5 L103.7,517.9 L105.3,518.1 L106.9,518.3 L108.5,518.6 L110.1,519.0 L111.6,519.2 L113.2,519.1 L114.8,518.7 L116.4,518.2 L118.0,517.7 L119.6,517.5 L121.2,517.1 L122.8,516.4 L124.4,515.6 L126.0,514.8 L127.5,514.1 L129.1,513.6 L130.7,513.0 L132.3,512.3 L133.9,511.9 L135.5,511.6 L137.1,511.0 L138.7,510.0 L140.3,508.9 L141.8,508.1 L143.4,507.5 L145.0,506.9 L146.6,506.1 L148.2,505.3 L149.8,504.3 L151.4,503.1 L153.0,501.9 L154.6,500.7 L156.2,499.5 L157.7,498.0 L159.3,496.3 L160.9,494.3 L162.5,492.1 L164.1,489.8 L165.7,487.2 L167.3,483.9 L168.9,480.1 L170.5,475.7 L172.0,470.7 L173.6,464.7 L175.2,457.8 L176.8,450.3 L178.4,442.0 L180.0,432.7 L181.6,422.2 L183.2,410.8 L184.8,399.0 L186.4,386.1 L187.9,372.0 L189.5,357.2 L191.1,342.5 L192.7,328.2 L194.3,314.0 L195.9,300.6 L197.5,288.9 L199.1,280.0 L200.7,273.7 L202.2,270.1 L203.8,269.5 L205.4,271.8 L207.0,276.0 L208.6,281.7 L210.2,288.5 L211.8,296.4 L213.4,304.3 L215.0,312.0 L216.6,319.3 L218.1,326.3 L219.7,332.9 L221.3,339.0 L222.9,344.4 L224.5,349.5 L226.1,354.5 L227.7,359.2 L229.3,363.4 L230.9,367.1 L232.4,370.3 L234.0,373.2 L235.6,376.0 L237.2,378.9 L238.8,381.8 L240.4,384.5 L242.0,386.9 L243.6,389.1 L245.2,391.2 L246.8,393.1 L248.3,395.0 L249.9,396.9 L251.5,399.1 L253.1,401.3 L254.7,403.2 L256.3,404.8 L257.9,406.3 L259.5,408.0 L261.1,409.9 L262.6,411.5 L264.2,413.0 L265.8,414.3 L267.4,415.7 L269.0,416.8 L270.6,417.7 L272.2,418.3 L273.8,418.7 L275.4,419.0 L277.0,419.0 L278.5,419.0 L280.1,418.9 L281.7,419.1 L283.3,419.0 L284.9,418.5 L286.5,417.6 L288.1,416.4 L289.7,415.2 L291.3,414.0 L292.8,412.7 L294.4,411.6 L296.0,410.0 L297.6,408.0 L299.2,406.0 L300.8,404.3 L302.4,402.3 L304.0,400.2 L305.6,398.5 L307.2,397.5 L308.7,396.6 L310.3,395.5 L311.9,394.3 L313.5,393.1 L315.1,391.8 L316.7,390.6 L318.3,389.7 L319.9,389.3 L321.5,389.2 L323.0,389.0 L324.6,389.0 L326.2,389.3 L327.8,390.0 L329.4,390.9 L331.0,392.0 L332.6,393.1 L334.2,394.5 L335.8,396.5 L337.4,398.8 L338.9,401.1 L340.5,403.6 L342.1,406.3 L343.7,408.9 L345.3,411.5 L346.9,414.5 L348.5,417.9 L350.1,421.1 L351.7,424.2 L353.2,427.6 L354.8,431.4 L356.4,435.0 L358.0,438.3 L359.6,441.5 L361.2,444.9 L362.8,448.3 L364.4,451.5 L366.0,454.5 L367.6,457.6 L369.1,460.6 L370.7,463.7 L372.3,466.6 L373.9,469.6 L375.5,472.2 L377.1,474.7 L378.7,477.1 L380.3,479.6 L381.9,482.1 L383.4,484.4 L385.0,486.2 L386.6,487.6 L388.2,489.3 L389.8,491.4 L391.4,493.7 L393.0,495.4 L394.6,496.5 L396.2,497.5 L397.8,498.4 L399.3,499.5 L400.9,500.9 L402.5,502.4 L404.1,503.6 L405.7,504.5 L407.3,505.4 L408.9,506.4 L410.5,507.0 L412.1,507.3 L413.7,507.6 L415.2,508.3 L416.8,509.5 L418.4,510.5 L420.0,511.0 L421.6,511.2 L423.2,511.6 L424.8,512.2 L426.4,513.0 L428.0,513.6 L429.5,514.0 L431.1,514.5 L432.7,515.0 L434.3,515.3 L435.9,515.4 L437.5,515.8 L439.1,516.4 L440.7,517.0 L442.3,517.2 L443.9,517.4 L445.4,518.0 L447.0,518.3 L448.6,518.3 L450.2,518.3 L451.8,518.3 L453.4,518.6 L455.0,519.0 L456.6,519.5 L458.2,520.2 L459.7,520.9 L461.3,521.4 L462.9,521.2 L464.5,520.5 L466.1,519.9 L467.7,519.4 L469.3,519.2 L470.9,519.1 L472.5,519.1 L474.1,519.2 L475.6,519.2 L477.2,519.3 L478.8,519.5 L480.4,520.2 L482.0,521.2 L483.6,522.2 L485.2,522.9 L486.8,523.3 L488.4,523.5 L489.9,523.7 L491.5,524.2 L493.1,524.8 L494.7,525.0 L496.3,524.7 L497.9,524.4 L499.5,524.2 L501.1,524.3 L502.7,524.7 L504.3,525.1 L505.8,525.4 L507.4,525.5 L509.0,525.5 L510.6,525.6 L512.2,525.5 L513.8,525.5 L515.4,525.6 L517.0,525.9 L518.6,526.2 L520.1,526.6 L521.7,526.8 L523.3,526.8 L524.9,526.5 L526.5,526.2 L528.1,525.9 L529.7,526.0 L531.3,526.2 L532.9,526.4 L534.5,526.3 L536.0,526.1 L537.6,525.9 L539.2,525.7 L540.8,525.4 L542.4,525.1 L544.0,524.9 L545.6,525.0 L547.2,525.0 L548.8,524.7 L550.3,524.3 L551.9,524.4 L553.5,525.1 L555.1,525.8 L556.7,526.2 L558.3,526.5 L559.9,527.0 L561.5,527.5 L563.1,527.7 L564.7,527.9 L566.2,528.1 L567.8,528.2 L569.4,527.8 L571.0,527.2 L572.6,526.9 L574.2,526.8 L575.8,527.0 L577.4,527.2 L579.0,527.4 L580.5,527.4 L582.1,527.2 L583.7,526.8 L585.3,526.4 L586.9,526.3 L588.5,526.5 L590.1,527.0 L591.7,527.3 L593.3,527.4 L594.9,527.5 L596.4,527.7 L598.0,528.0 L599.6,528.2 L601.2,528.2 L602.8,528.1 L604.4,527.9 L606.0,527.8 L607.6,527.8 L609.2,527.8 L610.7,527.5 L612.3,527.3 L613.9,527.0 L615.5,526.5 L617.1,525.9 L618.7,525.5 L620.3,525.2 L621.9,524.9 L623.5,524.9 L625.1,525.3 L626.6,525.7 L628.2,526.2 L629.8,526.5 L631.4,526.8 L633.0,527.2 L634.6,527.9 L636.2,528.5 L637.8,528.7 L639.4,528.8 L640.9,529.1 L642.5,529.4 L644.1,529.3 L645.7,529.0"/>
<path d="M43.3,529.0 L44.9,529.4 L46.5,529.5 L48.1,529.2 L49.7,528.8 L51.2,528.5 L52.8,528.3 L54.4,528.2 L56.0,528.6 L57.6,528.7 L59.2,528.2 L60.8,527.2 L62.4,526.4 L64.0,525.8 L65.6,525.4 L67.1,525.1 L68.7,524.9 L70.3,524.6 L71.9,523.9 L73.5,522.8 L75.1,521.9 L76.7,521.3 L78.3,521.0 L79.9,520.7 L81.4,520.1 L83.0,519.5 L84.6,518.9 L86.2,518.1 L87.8,517.0 L89.4,516.2 L91.0,516.2 L92.6,516.6 L94.2,517.0 L95.8,516.9 L97.3,516.7 L98.9,516.4 L100.5,516.4 L102.1,516.7 L103.7,517.0 L105.3,517.1 L106.9,517.1 L108.5,517.1 L110.1,517.1 L111.6,517.1 L113.2,517.1 L114.8,517.0 L116.4,516.9 L118.0,516.7 L119.6,516.4 L121.2,516.0 L122.8,515.3 L124.4,514.4 L126.0,513.5 L127.5,512.7 L129.1,512.2 L130.7,511.8 L132.3,511.4 L133.9,510.8 L135.5,510.1 L137.1,509.4 L138.7,509.0 L140.3,508.7 L141.8,508.4 L143.4,507.8 L145.0,506.8 L146.6,505.6 L148.2,504.5 L149.8,503.5 L151.4,502.3 L153.0,501.1 L154.6,499.9 L156.2,498.8 L157.7,497.5 L159.3,495.9 L160.9,494.0 L162.5,492.0 L164.1,489.6 L165.7,487.1 L167.3,484.3 L168.9,480.9 L170.5,477.0 L172.0,472.6 L173.6,468.0 L175.2,462.7 L176.8,456.3 L178.4,449.3 L180.0,441.6 L181.6,433.0 L183.2,423.1 L184.8,412.0 L186.4,400.4 L187.9,388.2 L189.5,375.6 L191.1,362.8 L192.7,350.1 L194.3,337.8 L195.9,326.3 L197.5,316.1 L199.1,307.9 L200.7,302.2 L202.2,298.9 L203.8,297.9 L205.4,299.0 L207.0,302.0 L208.6,306.9 L210.2,312.7 L211.8,319.3 L213.4,326.2 L215.0,333.0 L216.6,339.7 L218.1,346.0 L219.7,351.9 L221.3,357.2 L222.9,361.9 L224.5,366.3 L226.1,370.6 L227.7,375.1 L229.3,379.3 L230.9,383.0 L232.4,385.9 L234.0,388.1 L235.6,390.3 L237.2,392.5 L238.8,394.9 L240.4,397.0 L242.0,398.5 L243.6,399.9 L245.2,401.6 L246.8,403.5 L248.3,405.2 L249.9,406.7 L251.5,408.1 L253.1,409.4 L254.7,410.4 L256.3,411.5 L257.9,412.7 L259.5,414.0 L261.1,415.1 L262.6,416.1 L264.2,417.2 L265.8,418.3 L267.4,418.9 L269.0,419.1 L270.6,419.1 L272.2,419.3 L273.8,419.5 L275.4,419.8 L277.0,419.9 L278.5,419.8 L280.1,419.4 L281.7,418.6 L283.3,417.4 L284.9,416.1 L286.5,415.0 L288.1,413.7 L289.7,412.2 L291.3,410.5 L292.8,408.9 L294.4,407.4 L296.0,405.5 L297.6,403.1 L299.2,400.8 L300.8,399.1 L302.4,397.4 L304.0,395.5 L305.6,393.3 L307.2,391.3 L308.7,389.2 L310.3,387.1 L311.9,385.3 L313.5,384.3 L315.1,383.7 L316.7,383.0 L318.3,382.3 L319.9,381.5 L321.5,380.8 L323.0,380.2 L324.6,379.9 L326.2,380.1 L327.8,380.6 L329.4,381.4 L331.0,382.4 L332.6,383.4 L334.2,384.7 L335.8,386.6 L337.4,388.5 L338.9,390.2 L340.5,392.1 L342.1,394.8 L343.7,397.6 L345.3,400.3 L346.9,402.9 L348.5,405.7 L350.1,408.5 L351.7,411.5 L353.2,414.8 L354.8,418.5 L356.4,422.2 L358.0,425.7 L359.6,429.0 L361.2,432.4 L362.8,435.7 L364.4,438.6 L366.0,441.4 L367.6,444.5 L369.1,447.8 L370.7,451.0 L372.3,454.0 L373.9,457.0 L375.5,460.0 L377.1,462.8 L378.7,465.3 L380.3,468.0 L381.9,470.8 L383.4,473.5 L385.0,475.7 L386.6,477.7 L388.2,479.8 L389.8,481.6 L391.4,483.1 L393.0,484.7 L394.6,486.5 L396.2,488.2 L397.8,489.8 L399.3,491.2 L400.9,492.3 L402.5,493.4 L404.1,494.5 L405.7,495.7 L407.3,496.8 L408.9,498.0 L410.5,499.2 L412.1,500.4 L413.7,501.2 L415.2,502.0 L416.8,502.9 L418.4,503.9 L420.0,504.8 L421.6,505.6 L423.2,506.3 L424.8,506.9 L426.4,507.7 L428.0,508.5 L429.5,509.1 L431.1,509.5 L432.7,509.9 L434.3,510.5 L435.9,511.1 L437.5,511.8 L439.1,512.9 L440.7,513.8 L442.3,514.4 L443.9,514.7 L445.4,515.0 L447.0,515.4 L448.6,516.1 L450.2,516.5 L451.8,516.8 L453.4,517.1 L455.0,517.6 L456.6,518.1 L458.2,518.1 L459.7,518.0 L461.3,518.1 L462.9,518.4 L464.5,518.6 L466.1,518.6 L467.7,518.7 L469.3,519.1 L470.9,519.6 L472.5,520.1 L474.1,520.4 L475.6,520.9 L477.2,521.5 L478.8,521.9 L480.4,522.1 L482.0,521.7 L483.6,521.2 L485.2,521.3 L486.8,522.1 L488.4,523.2 L489.9,523.8 L491.5,524.1 L493.1,524.4 L494.7,524.4 L496.3,524.2 L497.9,524.0 L499.5,524.3 L501.1,524.9 L502.7,525.2 L504.3,525.3 L505.8,525.5 L507.4,525.9 L509.0,526.4 L510.6,526.7 L512.2,526.9 L513.8,526.8 L515.4,526.3 L517.0,526.0 L518.6,526.3 L520.1,527.0 L521.7,527.4 L523.3,527.3 L524.9,527.1 L526.5,527.2 L528.1,527.2 L529.7,527.3 L531.3,527.7 L532.9,527.9 L534.5,527.6 L536.0,526.9 L537.6,526.4 L539.2,526.5 L540.8,526.8 L542.4,526.8 L544.0,526.5 L545.6,526.1 L547.2,526.1 L548.8,526.4 L550.3,527.1 L551.9,527.8 L553.5,528.1 L555.1,528.2 L556.7,528.3 L558.3,528.5 L559.9,528.6 L561.5,528.5 L563.1,528.7 L564.7,529.2 L566.2,529.7 L567.8,530.0 L569.4,530.2 L571.0,530.2 L572.6,529.9 L574.2,529.5 L575.8,529.4 L577.4,529.4 L579.0,529.3 L580.5,529.1 L582.1,528.7 L583.7,528.4 L585.3,528.2 L586.9,528.7 L588.5,529.5 L590.1,530.3 L591.7,530.7 L593.3,530.9 L594.9,531.2 L596.4,531.4 L598.0,531.3 L599.6,531.0 L601.2,530.7 L602.8,530.7 L604.4,530.8 L606.0,530.9 L607.6,531.1 L609.2,531.1 L610.7,530.9 L612.3,530.4 L613.9,529.9 L615.5,529.5 L617.1,529.4 L618.7,529.5 L620.3,529.9 L621.9,530.1 L623.5,530.2 L625.1,530.0 L626.6,529.7 L628.2,529.7 L629.8,530.0 L631.4,530.6 L633.0,531.3 L634.6,531.9 L636.2,532.3 L637.8,532.5 L639.4,532.5 L640.9,532.4 L642.5,532.5 L644.1,532.6 L645.7,532.5"/>
<path d="M43.3,527.7 L44.9,527.6 L46.5,527.3 L48.1,527.1 L49.7,526.9 L51.2,526.8 L52.8,526.3 L54.4,525.5 L56.0,524.8 L57.6,524.3 L59.2,524.1 L60.8,523.9 L62.4,523.4 L64.0,522.8 L65.6,522.6 L67.1,522.3 L68.7,521.8 L70.3,521.1 L71.9,520.2 L73.5,519.1 L75.1,517.9 L76.7,517.2 L78.3,517.0 L79.9,516.8 L81.4,516.0 L83.0,514.9 L84.6,513.7 L86.2,512.9 L87.8,512.6 L89.4,512.3 L91.0,512.3 L92.6,512.7 L94.2,513.1 L95.8,513.4 L97.3,513.2 L98.9,513.0 L100.5,513.2 L102.1,513.9 L103.7,514.8 L105.3,515.2 L106.9,515.2 L108.5,515.2 L110.1,515.4 L111.6,515.3 L113.2,515.0 L114.8,514.6 L116.4,514.0 L118.0,513.4 L119.6,512.7 L121.2,512.4 L122.8,512.3 L124.4,512.1 L126.0,511.8 L127.5,511.5 L129.1,511.0 L130.7,510.3 L132.3,509.9 L133.9,509.7 L135.5,509.2 L137.1,508.0 L138.7,506.8 L140.3,506.1 L141.8,505.9 L143.4,505.5 L145.0,504.7 L146.6,503.6 L148.2,502.7 L149.8,502.0 L151.4,501.3 L153.0,500.3 L154.6,499.0 L156.2,497.3 L157.7,495.6 L159.3,494.2 L160.9,493.0 L162.5,491.9 L164.1,490.7 L165.7,488.7 L167.3,485.9 L168.9,482.6 L170.5,479.4 L172.0,476.2 L173.6,472.5 L175.2,467.9 L176.8,462.1 L178.4,455.5 L180.0,448.4 L181.6,441.0 L183.2,433.3 L184.8,424.9 L186.4,415.5 L187.9,405.5 L189.5,395.3 L191.1,384.6 L192.7,373.7 L194.3,363.0 L195.9,353.3 L197.5,344.9 L199.1,338.1 L200.7,333.2 L202.2,330.0 L203.8,328.4 L205.4,329.0 L207.0,331.6 L208.6,335.4 L210.2,340.0 L211.8,345.3 L213.4,350.8 L215.0,356.2 L216.6,361.5 L218.1,366.6 L219.7,371.6 L221.3,376.2 L222.9,380.5 L224.5,384.2 L226.1,387.5 L227.7,390.3 L229.3,393.0 L230.9,395.6 L232.4,398.2 L234.0,400.5 L235.6,402.5 L237.2,404.4 L238.8,406.1 L240.4,407.7 L242.0,409.3 L243.6,410.8 L245.2,412.2 L246.8,413.5 L248.3,414.5 L249.9,415.6 L251.5,416.7 L253.1,417.6 L254.7,418.4 L256.3,419.0 L257.9,419.6 L259.5,420.3 L261.1,421.0 L262.6,422.0 L264.2,422.5 L265.8,422.5 L267.4,422.3 L269.0,422.2 L270.6,422.0 L272.2,421.5 L273.8,421.2 L275.4,421.0 L277.0,420.6 L278.5,419.9 L280.1,418.9 L281.7,417.4 L283.3,415.6 L284.9,413.9 L286.5,412.3 L288.1,410.7 L289.7,409.0 L291.3,407.1 L292.8,405.5 L294.4,404.0 L296.0,402.1 L297.6,399.5 L299.2,397.0 L300.8,394.9 L302.4,392.9 L304.0,390.7 L305.6,388.4 L307.2,386.1 L308.7,384.0 L310.3,382.2 L311.9,380.5 L313.5,379.1 L315.1,377.9 L316.7,376.8 L318.3,375.8 L319.9,374.9 L321.5,374.0 L323.0,373.3 L324.6,372.9 L326.2,372.9 L327.8,373.2 L329.4,373.6 L331.0,373.9 L332.6,374.4 L334.2,375.4 L335.8,376.8 L337.4,378.3 L338.9,379.7 L340.5,381.4 L342.1,383.9 L343.7,386.6 L345.3,389.1 L346.9,391.5 L348.5,393.9 L350.1,396.7 L351.7,400.0 L353.2,403.6 L354.8,407.0 L356.4,410.1 L358.0,413.2 L359.6,416.3 L361.2,419.8 L362.8,423.5 L364.4,427.0 L366.0,430.1 L367.6,432.8 L369.1,435.7 L370.7,438.9 L372.3,442.0 L373.9,444.8 L375.5,447.4 L377.1,450.5 L378.7,453.6 L380.3,456.2 L381.9,458.6 L383.4,461.1 L385.0,463.5 L386.6,465.7 L388.2,468.0 L389.8,470.6 L391.4,472.6 L393.0,474.2 L394.6,476.0 L396.2,478.3 L397.8,480.2 L399.3,481.4 L400.9,482.7 L402.5,484.5 L404.1,486.5 L405.7,487.9 L407.3,489.0 L408.9,490.1 L410.5,491.7 L412.1,493.2 L413.7,494.0 L415.2,494.6 L416.8,495.7 L418.4,497.1 L420.0,498.0 L421.6,498.7 L423.2,499.6 L424.8,500.8 L426.4,501.7 L428.0,502.4 L429.5,503.2 L431.1,504.1 L432.7,504.9 L434.3,505.6 L435.9,506.4 L437.5,507.5 L439.1,508.5 L440.7,509.2 L442.3,509.7 L443.9,510.4 L445.4,511.2 L447.0,512.0 L448.6,512.8 L450.2,513.5 L451.8,513.7 L453.4,513.8 L455.0,514.1 L456.6,514.6 L458.2,514.9 L459.7,514.8 L461.3,514.5 L462.9,514.9 L464.5,515.8 L466.1,516.5 L467.7,516.6 L469.3,516.6 L470.9,516.7 L472.5,516.9 L474.1,517.2 L475.6,517.3 L477.2,517.2 L478.8,517.2 L480.4,517.3 L482.0,517.8 L483.6,518.8 L485.2,519.9 L486.8,520.9 L488.4,521.6 L489.9,521.8 L491.5,521.9 L493.1,522.2 L494.7,522.7 L496.3,523.0 L497.9,523.1 L499.5,523.1 L501.1,523.3 L502.7,523.7 L504.3,524.3 L505.8,524.8 L507.4,525.1 L509.0,524.7 L510.6,524.1 L512.2,524.0 L513.8,524.2 L515.4,524.4 L517.0,524.8 L518.6,525.3 L520.1,525.7 L521.7,525.7 L523.3,525.7 L524.9,525.8 L526.5,526.0 L528.1,526.2 L529.7,526.6 L531.3,527.1 L532.9,527.2 L534.5,526.8 L536.0,526.2 L537.6,525.9 L539.2,525.8 L540.8,525.7 L542.4,525.7 L544.0,526.0 L545.6,526.2 L547.2,525.9 L548.8,525.3 L550.3,525.1 L551.9,525.9 L553.5,526.9 L555.1,527.7 L556.7,527.8 L558.3,527.7 L559.9,527.8 L561.5,528.3 L563.1,528.6 L564.7,528.9 L566.2,529.2 L567.8,529.4 L569.4,529.0 L571.0,528.3 L572.6,528.0 L574.2,528.1 L575.8,528.3 L577.4,528.0 L579.0,527.7 L580.5,527.6 L582.1,527.7 L583.7,527.8 L585.3,527.7 L586.9,527.8 L588.5,528.1 L590.1,528.5 L591.7,528.8 L593.3,529.2 L594.9,530.0 L596.4,530.8 L598.0,531.3 L599.6,531.3 L601.2,530.9 L602.8,530.3 L604.4,530.0 L606.0,530.3 L607.6,530.6 L609.2,530.6 L610.7,530.2 L612.3,529.7 L613.9,529.0 L615.5,528.5 L617.1,528.3 L618.7,528.2 L620.3,528.2 L621.9,528.0 L623.5,527.8 L625.1,527.8 L626.6,528.1 L628.2,528.6 L629.8,529.0 L631.4,529.6 L633.0,530.6 L634.6,531.3 L636.2,531.5 L637.8,531.5 L639.4,531.9 L640.9,532.4 L642.5,532.7 L644.1,532.6 L645.7,532.8"/>
<path d="M43.3,532.0 L44.9,531.7 L46.5,531.5 L48.1,531.1 L49.7,530.5 L51.2,529.9 L52.8,529.7 L54.4,529.7 L56.0,529.4 L57.6,528.9 L59.2,528.2 L60.8,527.7 L62.4,527.3 L64.0,526.4 L65.6,524.8 L67.1,523.1 L68.7,521.8 L70.3,520.8 L71.9,519.7 L73.5,518.3 L75.1,517.0 L76.7,516.0 L78.3,515.3 L79.9,514.7 L81.4,514.1 L83.0,513.6 L84.6,513.5 L86.2,513.8 L87.8,514.4 L89.4,515.0 L91.0,515.6 L92.6,515.8 L94.2,515.8 L95.8,516.2 L97.3,516.9 L98.9,517.7 L100.5,518.1 L102.1,518.2 L103.7,518.4 L105.3,518.9 L106.9,519.4 L108.5,519.5 L110.1,519.1 L111.6,518.8 L113.2,518.8 L114.8,518.8 L116.4,518.5 L118.0,517.9 L119.6,517.4 L121.2,517.1 L122.8,516.7 L124.4,516.1 L126.0,515.6 L127.5,515.2 L129.1,514.5 L130.7,513.5 L132.3,512.8 L133.9,512.6 L135.5,512.7 L137.1,512.5 L138.7,511.8 L140.3,510.5 L141.8,509.2 L143.4,508.1 L145.0,507.2 L146.6,506.3 L148.2,505.2 L149.8,504.3 L151.4,503.9 L153.0,503.8 L154.6,503.3 L156.2,502.1 L157.7,500.5 L159.3,498.9 L160.9,497.2 L162.5,495.5 L164.1,494.2 L165.7,492.8 L167.3,490.8 L168.9,488.3 L170.5,485.8 L172.0,483.1 L173.6,479.7 L175.2,475.5 L176.8,470.8 L178.4,465.9 L180.0,460.7 L181.6,454.7 L183.2,447.9 L184.8,440.7 L186.4,433.2 L187.9,425.3 L189.5,416.9 L191.1,408.4 L192.7,399.9 L194.3,391.4 L195.9,383.1 L197.5,375.3 L199.1,368.7 L200.7,364.0 L202.2,361.4 L203.8,360.5 L205.4,360.8 L207.0,362.0 L208.6,364.1 L210.2,366.9 L211.8,370.4 L213.4,374.1 L215.0,377.8 L216.6,381.7 L218.1,385.5 L219.7,389.0 L221.3,392.2 L222.9,395.3 L224.5,398.3 L226.1,400.9 L227.7,403.1 L229.3,405.2 L230.9,407.4 L232.4,409.4 L234.0,411.1 L235.6,412.2 L237.2,413.1 L238.8,414.3 L240.4,415.6 L242.0,416.9 L243.6,417.8 L245.2,418.5 L246.8,419.2 L248.3,419.9 L249.9,420.8 L251.5,421.9 L253.1,422.6 L254.7,423.1 L256.3,423.5 L257.9,423.5 L259.5,423.4 L261.1,423.5 L262.6,424.0 L264.2,424.5 L265.8,424.7 L267.4,424.5 L269.0,423.6 L270.6,422.5 L272.2,421.7 L273.8,421.3 L275.4,420.9 L277.0,420.1 L278.5,419.0 L280.1,417.9 L281.7,416.9 L283.3,415.5 L284.9,413.5 L286.5,411.1 L288.1,408.9 L289.7,406.9 L291.3,404.8 L292.8,402.8 L294.4,400.8 L296.0,398.8 L297.6,396.5 L299.2,394.3 L300.8,391.9 L302.4,389.0 L304.0,386.3 L305.6,384.2 L307.2,382.6 L308.7,380.9 L310.3,378.8 L311.9,376.7 L313.5,375.1 L315.1,373.5 L316.7,372.0 L318.3,370.7 L319.9,369.7 L321.5,368.9 L323.0,368.1 L324.6,367.6 L326.2,367.6 L327.8,367.9 L329.4,368.4 L331.0,369.2 L332.6,370.1 L334.2,370.8 L335.8,371.5 L337.4,372.6 L338.9,374.4 L340.5,376.6 L342.1,378.9 L343.7,380.7 L345.3,382.5 L346.9,384.8 L348.5,387.7 L350.1,390.7 L351.7,393.5 L353.2,396.4 L354.8,399.4 L356.4,402.3 L358.0,405.3 L359.6,408.5 L361.2,411.9 L362.8,415.4 L364.4,418.9 L366.0,422.0 L367.6,424.6 L369.1,427.4 L370.7,430.7 L372.3,434.1 L373.9,436.9 L375.5,439.4 L377.1,442.1 L378.7,445.2 L380.3,448.4 L381.9,451.5 L383.4,454.0 L385.0,456.3 L386.6,458.6 L388.2,460.9 L389.8,463.2 L391.4,465.7 L393.0,468.1 L394.6,470.1 L396.2,471.7 L397.8,473.1 L399.3,474.6 L400.9,476.2 L402.5,478.4 L404.1,480.8 L405.7,482.8 L407.3,484.2 L408.9,485.1 L410.5,486.0 L412.1,487.2 L413.7,488.5 L415.2,489.9 L416.8,491.1 L418.4,492.1 L420.0,492.8 L421.6,493.5 L423.2,494.4 L424.8,495.6 L426.4,497.1 L428.0,498.6 L429.5,499.9 L431.1,501.0 L432.7,502.1 L434.3,503.0 L435.9,503.7 L437.5,504.4 L439.1,505.1 L440.7,505.7 L442.3,506.0 L443.9,506.4 L445.4,507.1 L447.0,508.0 L448.6,508.9 L450.2,509.6 L451.8,510.4 L453.4,511.3 L455.0,512.2 L456.6,512.7 L458.2,512.8 L459.7,512.9 L461.3,513.1 L462.9,513.4 L464.5,513.8 L466.1,514.2 L467.7,514.5 L469.3,514.6 L470.9,514.7 L472.5,515.3 L474.1,515.9 L475.6,516.3 L477.2,516.3 L478.8,516.4 L480.4,516.5 L482.0,517.2 L483.6,518.0 L485.2,518.8 L486.8,519.3 L488.4,519.6 L489.9,519.9 L491.5,520.3 L493.1,520.9 L494.7,521.2 L496.3,521.2 L497.9,521.1 L499.5,521.5 L501.1,522.2 L502.7,522.8 L504.3,522.9 L505.8,522.6 L507.4,522.3 L509.0,522.5 L510.6,522.9 L512.2,523.5 L513.8,523.8 L515.4,523.9 L517.0,524.0 L518.6,524.2 L520.1,524.3 L521.7,524.2 L523.3,524.1 L524.9,524.2 L526.5,524.6 L528.1,525.0 L529.7,525.3 L531.3,525.5 L532.9,525.6 L534.5,525.9 L536.0,526.2 L537.6,526.2 L539.2,525.7 L540.8,525.3 L542.4,525.3 L544.0,525.5 L545.6,525.7 L547.2,525.6 L548.8,525.5 L550.3,525.4 L551.9,525.5 L553.5,526.1 L555.1,527.0 L556.7,527.4 L558.3,527.4 L559.9,527.4 L561.5,527.3 L563.1,527.5 L564.7,528.0 L566.2,528.4 L567.8,528.5 L569.4,528.2 L571.0,528.0 L572.6,527.8 L574.2,527.7 L575.8,527.7 L577.4,527.4 L579.0,527.0 L580.5,526.6 L582.1,526.6 L583.7,527.0 L585.3,527.4 L586.9,527.3 L588.5,527.1 L590.1,527.3 L591.7,528.0 L593.3,528.5 L594.9,528.4 L596.4,528.3 L598.0,528.6 L599.6,529.0 L601.2,529.2 L602.8,529.2 L604.4,529.4 L606.0,529.4 L607.6,528.9 L609.2,528.3 L610.7,528.0 L612.3,527.8 L613.9,527.1 L615.5,526.0 L617.1,525.0 L618.7,524.7 L620.3,524.7 L621.9,525.0 L623.5,525.4 L625.1,525.9 L626.6,526.4 L628.2,527.0 L629.8,527.4 L631.4,528.0 L633.0,528.9 L634.6,529.5 L636.2,529.9 L637.8,530.2 L639.4,530.5 L640.9,530.6 L642.5,530.5 L644.1,530.7 L645.7,531.3"/>
<path d="M43.3,528.4 L44.9,527.9 L46.5,527.6 L48.1,527.4 L49.7,527.2 L51.2,527.1 L52.8,526.9 L54.4,526.5 L56.0,525.9 L57.6,525.6 L59.2,525.8 L60.8,526.0 L62.4,526.1 L64.0,525.9 L65.6,525.6 L67.1,524.9 L68.7,524.0 L70.3,523.1 L71.9,522.5 L73.5,522.2 L75.1,521.9 L76.7,521.4 L78.3,520.8 L79.9,520.2 L81.4,519.7 L83.0,519.1 L84.6,518.5 L86.2,517.7 L87.8,517.0 L89.4,516.6 L91.0,516.5 L92.6,516.4 L94.2,516.2 L95.8,516.2 L97.3,516.2 L98.9,516.0 L100.5,515.7 L102.1,515.5 L103.7,515.6 L105.3,516.0 L106.9,516.4 L108.5,516.5 L110.1,516.1 L111.6,515.8 L113.2,515.5 L114.8,515.2 L116.4,514.7 L118.0,514.3 L119.6,514.1 L121.2,513.9 L122.8,513.4 L124.4,512.6 L126.0,512.2 L127.5,512.3 L129.1,512.2 L130.7,511.5 L132.3,510.3 L133.9,509.4 L135.5,508.7 L137.1,508.2 L138.7,507.8 L140.3,507.4 L141.8,506.9 L143.4,506.0 L145.0,504.9 L146.6,503.9 L148.2,503.0 L149.8,502.2 L151.4,501.5 L153.0,500.9 L154.6,500.2 L156.2,499.5 L157.7,498.9 L159.3,498.2 L160.9,497.0 L162.5,495.3 L164.1,493.5 L165.7,491.9 L167.3,490.3 L168.9,488.8 L170.5,487.1 L172.0,484.8 L173.6,481.9 L175.2,478.4 L176.8,474.4 L178.4,469.9 L180.0,465.1 L181.6,460.4 L183.2,455.3 L184.8,449.9 L186.4,444.0 L187.9,437.8 L189.5,431.0 L191.1,423.6 L192.7,416.1 L194.3,409.0 L195.9,402.2 L197.5,396.1 L199.1,390.9 L200.7,387.1 L202.2,384.5 L203.8,383.1 L205.4,382.6 L207.0,383.0 L208.6,384.4 L210.2,386.7 L211.8,389.6 L213.4,392.7 L215.0,396.1 L216.6,399.3 L218.1,402.0 L219.7,404.5 L221.3,407.1 L222.9,409.7 L224.5,412.2 L226.1,414.3 L227.7,416.2 L229.3,418.0 L230.9,419.7 L232.4,420.9 L234.0,421.7 L235.6,422.5 L237.2,423.3 L238.8,424.2 L240.4,424.9 L242.0,425.7 L243.6,426.4 L245.2,426.8 L246.8,426.9 L248.3,427.2 L249.9,427.8 L251.5,428.3 L253.1,428.5 L254.7,428.6 L256.3,428.8 L257.9,429.0 L259.5,428.9 L261.1,428.5 L262.6,427.9 L264.2,427.5 L265.8,427.2 L267.4,426.9 L269.0,426.1 L270.6,424.8 L272.2,423.3 L273.8,421.9 L275.4,420.8 L277.0,419.9 L278.5,418.8 L280.1,417.4 L281.7,415.7 L283.3,413.8 L284.9,411.5 L286.5,409.2 L288.1,407.2 L289.7,405.1 L291.3,402.8 L292.8,400.6 L294.4,398.5 L296.0,396.0 L297.6,393.3 L299.2,390.9 L300.8,388.6 L302.4,386.2 L304.0,383.6 L305.6,381.3 L307.2,379.2 L308.7,377.2 L310.3,374.9 L311.9,372.4 L313.5,370.4 L315.1,369.1 L316.7,368.0 L318.3,366.8 L319.9,365.6 L321.5,364.5 L323.0,363.4 L324.6,362.6 L326.2,362.1 L327.8,362.1 L329.4,362.3 L331.0,362.6 L332.6,362.7 L334.2,363.1 L335.8,364.0 L337.4,365.5 L338.9,367.0 L340.5,368.6 L342.1,370.3 L343.7,372.4 L345.3,374.8 L346.9,377.2 L348.5,379.6 L350.1,382.0 L351.7,384.3 L353.2,387.1 L354.8,390.3 L356.4,393.4 L358.0,396.0 L359.6,398.4 L361.2,401.0 L362.8,404.3 L364.4,408.1 L366.0,411.9 L367.6,415.3 L369.1,418.4 L370.7,421.4 L372.3,424.5 L373.9,427.4 L375.5,430.2 L377.1,432.7 L378.7,435.4 L380.3,438.4 L381.9,441.5 L383.4,444.1 L385.0,446.4 L386.6,448.9 L388.2,451.5 L389.8,453.9 L391.4,455.9 L393.0,457.4 L394.6,459.1 L396.2,461.2 L397.8,463.4 L399.3,465.8 L400.9,468.2 L402.5,470.2 L404.1,472.0 L405.7,473.7 L407.3,475.6 L408.9,477.1 L410.5,478.4 L412.1,479.5 L413.7,480.7 L415.2,482.2 L416.8,484.0 L418.4,485.5 L420.0,486.7 L421.6,487.8 L423.2,489.2 L424.8,490.8 L426.4,492.2 L428.0,493.3 L429.5,494.1 L431.1,494.9 L432.7,496.0 L434.3,497.1 L435.9,498.3 L437.5,499.6 L439.1,500.7 L440.7,501.5 L442.3,502.3 L443.9,503.0 L445.4,503.4 L447.0,503.9 L448.6,504.7 L450.2,505.7 L451.8,506.6 L453.4,507.3 L455.0,508.1 L456.6,508.9 L458.2,509.2 L459.7,509.4 L461.3,509.9 L462.9,510.7 L464.5,511.2 L466.1,511.5 L467.7,511.6 L469.3,511.8 L470.9,512.2 L472.5,512.7 L474.1,513.4 L475.6,513.8 L477.2,514.1 L478.8,514.3 L480.4,514.7 L482.0,515.3 L483.6,516.0 L485.2,516.6 L486.8,516.8 L488.4,517.0 L489.9,517.1 L491.5,517.4 L493.1,517.8 L494.7,518.5 L496.3,519.0 L497.9,519.4 L499.5,519.8 L501.1,520.1 L502.7,520.5 L504.3,520.7 L505.8,520.9 L507.4,520.9 L509.0,521.0 L510.6,521.2 L512.2,521.6 L513.8,522.0 L515.4,522.4 L517.0,522.4 L518.6,522.2 L520.1,522.1 L521.7,522.4 L523.3,522.9 L524.9,523.2 L526.5,523.3 L528.1,523.4 L529.7,523.5 L531.3,523.6 L532.9,524.0 L534.5,524.5 L536.0,524.7 L537.6,524.3 L539.2,523.9 L540.8,523.6 L542.4,523.7 L544.0,523.7 L545.6,523.7 L547.2,523.7 L548.8,523.9 L550.3,524.2 L551.9,524.8 L553.5,525.1 L555.1,525.0 L556.7,524.6 L558.3,524.5 L559.9,524.8 L561.5,525.4 L563.1,526.0 L564.7,526.3 L566.2,526.3 L567.8,526.2 L569.4,526.0 L571.0,525.7 L572.6,525.9 L574.2,526.3 L575.8,526.8 L577.4,527.1 L579.0,527.4 L580.5,527.5 L582.1,527.3 L583.7,527.1 L585.3,527.1 L586.9,527.3 L588.5,527.6 L590.1,528.0 L591.7,528.2 L593.3,528.3 L594.9,528.3 L596.4,528.1 L598.0,527.9 L599.6,527.8 L601.2,527.7 L602.8,527.6 L604.4,527.6 L606.0,527.6 L607.6,527.3 L609.2,526.7 L610.7,525.9 L612.3,525.1 L613.9,524.4 L615.5,523.7 L617.1,523.3 L618.7,523.2 L620.3,523.5 L621.9,524.0 L623.5,524.5 L625.1,525.0 L626.6,525.4 L628.2,525.7 L629.8,526.2 L631.4,526.6 L633.0,527.2 L634.6,527.9 L636.2,528.6 L637.8,529.1 L639.4,529.4 L640.9,529.4 L642.5,529.3 L644.1,529.1 L645.7,528.9"/>
<path d="M43.3,530.0 L44.9,529.8 L46.5,529.3 L48.1,528.7 L49.7,528.3 L51.2,528.1 L52.8,528.0 L54.4,527.6 L56.0,527.1 L57.6,526.9 L59.2,527.1 L60.8,527.2 L62.4,526.8 L64.0,525.7 L65.6,524.7 L67.1,524.0 L68.7,523.6 L70.3,522.9 L71.9,522.0 L73.5,521.3 L75.1,520.5 L76.7,519.3 L78.3,517.9 L79.9,516.8 L81.4,515.9 L83.0,515.3 L84.6,514.6 L86.2,513.8 L87.8,513.0 L89.4,512.4 L91.0,512.2 L92.6,512.5 L94.2,512.9 L95.8,513.3 L97.3,513.5 L98.9,513.7 L100.5,513.8 L102.1,514.2 L103.7,514.6 L105.3,514.9 L106.9,515.0 L108.5,514.8 L110.1,514.6 L111.6,514.4 L113.2,514.4 L114.8,514.5 L116.4,514.4 L118.0,514.0 L119.6,513.5 L121.2,513.1 L122.8,513.0 L124.4,513.2 L126.0,513.3 L127.5,512.7 L129.1,511.6 L130.7,510.6 L132.3,509.8 L133.9,509.5 L135.5,509.1 L137.1,508.6 L138.7,507.9 L140.3,507.0 L141.8,506.2 L143.4,505.4 L145.0,504.7 L146.6,503.9 L148.2,503.1 L149.8,502.5 L151.4,502.0 L153.0,501.5 L154.6,501.0 L156.2,500.1 L157.7,499.1 L159.3,498.0 L160.9,496.8 L162.5,495.4 L164.1,494.0 L165.7,492.6 L167.3,491.1 L168.9,489.6 L170.5,488.1 L172.0,486.2 L173.6,483.6 L175.2,480.9 L176.8,478.3 L178.4,475.7 L180.0,472.4 L181.6,468.1 L183.2,463.2 L184.8,458.0 L186.4,453.1 L187.9,448.2 L189.5,442.8 L191.1,436.9 L192.7,430.8 L194.3,424.9 L195.9,419.5 L197.5,415.0 L199.1,411.3 L200.7,408.1 L202.2,405.4 L203.8,403.5 L205.4,402.4 L207.0,402.2 L208.6,403.2 L210.2,405.4 L211.8,408.0 L213.4,410.4 L215.0,412.4 L216.6,414.2 L218.1,416.2 L219.7,418.3 L221.3,420.2 L222.9,421.6 L224.5,423.2 L226.1,425.0 L227.7,426.6 L229.3,427.8 L230.9,428.8 L232.4,430.0 L234.0,431.0 L235.6,431.8 L237.2,432.2 L238.8,432.3 L240.4,432.2 L242.0,432.0 L243.6,432.1 L245.2,432.7 L246.8,433.4 L248.3,433.6 L249.9,433.4 L251.5,433.0 L253.1,432.8 L254.7,432.9 L256.3,433.0 L257.9,432.9 L259.5,432.6 L261.1,432.3 L262.6,431.8 L264.2,430.9 L265.8,429.4 L267.4,428.0 L269.0,427.0 L270.6,426.2 L272.2,425.3 L273.8,423.8 L275.4,422.2 L277.0,420.8 L278.5,419.4 L280.1,417.5 L281.7,415.1 L283.3,412.9 L284.9,410.9 L286.5,408.9 L288.1,406.7 L289.7,404.4 L291.3,401.9 L292.8,399.0 L294.4,395.8 L296.0,392.7 L297.6,390.0 L299.2,387.6 L300.8,385.2 L302.4,382.8 L304.0,380.4 L305.6,377.8 L307.2,375.3 L308.7,372.7 L310.3,370.4 L311.9,368.5 L313.5,366.8 L315.1,365.2 L316.7,363.8 L318.3,362.4 L319.9,360.9 L321.5,359.3 L323.0,357.9 L324.6,356.9 L326.2,356.6 L327.8,356.6 L329.4,356.7 L331.0,356.6 L332.6,356.6 L334.2,357.0 L335.8,358.2 L337.4,359.7 L338.9,361.0 L340.5,362.2 L342.1,363.9 L343.7,365.9 L345.3,367.8 L346.9,369.8 L348.5,372.1 L350.1,374.8 L351.7,377.7 L353.2,380.5 L354.8,383.2 L356.4,385.8 L358.0,388.6 L359.6,391.6 L361.2,394.6 L362.8,397.5 L364.4,400.4 L366.0,403.7 L367.6,407.0 L369.1,410.3 L370.7,413.3 L372.3,416.1 L373.9,418.8 L375.5,421.8 L377.1,424.8 L378.7,427.5 L380.3,430.2 L381.9,433.1 L383.4,435.8 L385.0,438.3 L386.6,440.5 L388.2,442.8 L389.8,445.1 L391.4,447.5 L393.0,449.8 L394.6,452.0 L396.2,454.2 L397.8,456.5 L399.3,458.8 L400.9,461.1 L402.5,463.0 L404.1,464.5 L405.7,466.0 L407.3,467.9 L408.9,470.3 L410.5,472.5 L412.1,474.2 L413.7,475.6 L415.2,476.9 L416.8,478.5 L418.4,480.1 L420.0,481.7 L421.6,483.2 L423.2,484.5 L424.8,485.7 L426.4,486.7 L428.0,487.9 L429.5,489.6 L431.1,491.7 L432.7,493.2 L434.3,493.9 L435.9,494.1 L437.5,494.7 L439.1,495.5 L440.7,496.3 L442.3,497.2 L443.9,498.3 L445.4,499.6 L447.0,500.7 L448.6,501.5 L450.2,501.9 L451.8,502.1 L453.4,502.6 L455.0,503.5 L456.6,504.6 L458.2,505.6 L459.7,506.1 L461.3,506.4 L462.9,506.6 L464.5,506.7 L466.1,507.0 L467.7,507.6 L469.3,508.2 L470.9,508.3 L472.5,508.2 L474.1,508.5 L475.6,509.1 L477.2,509.5 L478.8,509.6 L480.4,510.1 L482.0,511.1 L483.6,512.0 L485.2,512.7 L486.8,513.4 L488.4,514.4 L489.9,515.2 L491.5,515.5 L493.1,515.6 L494.7,515.9 L496.3,516.4 L497.9,516.6 L499.5,516.6 L501.1,516.5 L502.7,516.6 L504.3,516.6 L505.8,516.8 L507.4,517.1 L509.0,517.5 L510.6,518.1 L512.2,518.8 L513.8,519.1 L515.4,519.1 L517.0,519.0 L518.6,518.9 L520.1,518.9 L521.7,519.2 L523.3,519.9 L524.9,520.7 L526.5,520.8 L528.1,520.4 L529.7,520.3 L531.3,520.4 L532.9,520.6 L534.5,520.5 L536.0,520.2 L537.6,520.1 L539.2,520.4 L540.8,520.8 L542.4,520.8 L544.0,520.4 L545.6,520.3 L547.2,520.6 L548.8,520.8 L550.3,520.9 L551.9,520.8 L553.5,520.9 L555.1,521.4 L556.7,522.2 L558.3,522.6 L559.9,522.6 L561.5,522.8 L563.1,523.1 L564.7,523.3 L566.2,523.4 L567.8,523.7 L569.4,524.0 L571.0,524.2 L572.6,524.0 L574.2,523.7 L575.8,523.3 L577.4,523.1 L579.0,522.9 L580.5,522.9 L582.1,523.1 L583.7,523.4 L585.3,523.7 L586.9,523.9 L588.5,524.2 L590.1,524.4 L591.7,524.8 L593.3,524.8 L594.9,524.7 L596.4,524.7 L598.0,525.0 L599.6,525.3 L601.2,525.1 L602.8,524.5 L604.4,523.9 L606.0,523.7 L607.6,523.7 L609.2,523.6 L610.7,523.0 L612.3,522.2 L613.9,521.4 L615.5,520.7 L617.1,520.0 L618.7,519.4 L620.3,519.2 L621.9,519.4 L623.5,519.6 L625.1,520.0 L626.6,520.6 L628.2,521.6 L629.8,522.5 L631.4,523.4 L633.0,524.1 L634.6,524.6 L636.2,525.0 L637.8,525.1 L639.4,525.3 L640.9,525.8 L642.5,526.3 L644.1,526.2 L645.7,525.9"/>
<path d="M43.3,525.9 L44.9,525.8 L46.5,526.1 L48.1,526.1 L49.7,525.8 L51.2,525.6 L52.8,525.4 L54.4,525.2 L56.0,524.7 L57.6,524.3 L59.2,523.9 L60.8,523.2 L62.4,522.7 L64.0,522.3 L65.6,522.2 L67.1,522.0 L68.7,521.4 L70.3,520.8 L71.9,520.3 L73.5,519.6 L75.1,518.6 L76.7,517.3 L78.3,516.2 L79.9,515.6 L81.4,515.1 L83.0,514.5 L84.6,513.6 L86.2,512.8 L87.8,512.1 L89.4,511.6 L91.0,511.2 L92.6,511.2 L94.2,511.2 L95.8,511.2 L97.3,511.4 L98.9,511.9 L100.5,512.6 L102.1,513.0 L103.7,513.1 L105.3,513.1 L106.9,513.3 L108.5,513.6 L110.1,513.8 L111.6,513.6 L113.2,513.1 L114.8,512.2 L116.4,511.2 L118.0,510.4 L119.6,510.3 L121.2,510.5 L122.8,510.6 L124.4,510.5 L126.0,510.2 L127.5,509.8 L129.1,509.3 L130.7,509.0 L132.3,508.4 L133.9,507.5 L135.5,506.7 L137.1,506.0 L138.7,505.3 L140.3,504.5 L141.8,503.8 L143.4,503.4 L145.0,503.0 L146.6,502.6 L148.2,501.8 L149.8,500.6 L151.4,499.5 L153.0,498.7 L154.6,498.2 L156.2,497.7 L157.7,496.9 L159.3,495.7 L160.9,494.5 L162.5,493.5 L164.1,492.3 L165.7,490.8 L167.3,489.3 L168.9,487.9 L170.5,486.2 L172.0,484.2 L173.6,481.8 L175.2,479.4 L176.8,476.5 L178.4,472.8 L180.0,468.8 L181.6,464.9 L183.2,461.1 L184.8,457.2 L186.4,452.8 L187.9,447.9 L189.5,442.6 L191.1,437.1 L192.7,431.6 L194.3,426.3 L195.9,421.1 L197.5,416.5 L199.1,412.4 L200.7,408.9 L202.2,406.3 L203.8,405.0 L205.4,405.1 L207.0,406.0 L208.6,407.5 L210.2,409.4 L211.8,411.6 L213.4,414.0 L215.0,416.5 L216.6,418.8 L218.1,421.1 L219.7,423.1 L221.3,425.0 L222.9,426.7 L224.5,428.3 L226.1,429.7 L227.7,431.2 L229.3,432.7 L230.9,433.9 L232.4,434.7 L234.0,435.4 L235.6,436.1 L237.2,436.5 L238.8,436.9 L240.4,437.2 L242.0,437.5 L243.6,437.6 L245.2,437.3 L246.8,437.1 L248.3,437.1 L249.9,437.2 L251.5,437.1 L253.1,436.7 L254.7,436.2 L256.3,435.6 L257.9,434.8 L259.5,434.0 L261.1,433.4 L262.6,433.0 L264.2,432.5 L265.8,431.6 L267.4,430.5 L269.0,429.0 L270.6,427.1 L272.2,425.0 L273.8,423.6 L275.4,422.4 L277.0,420.8 L278.5,418.6 L280.1,416.3 L281.7,414.4 L283.3,412.6 L284.9,410.6 L286.5,408.0 L288.1,404.9 L289.7,402.0 L291.3,399.5 L292.8,397.1 L294.4,394.7 L296.0,392.1 L297.6,389.4 L299.2,386.5 L300.8,383.6 L302.4,380.7 L304.0,378.1 L305.6,375.8 L307.2,373.6 L308.7,371.2 L310.3,368.9 L311.9,366.6 L313.5,364.5 L315.1,362.6 L316.7,360.8 L318.3,359.2 L319.9,357.6 L321.5,356.4 L323.0,355.4 L324.6,354.6 L326.2,353.9 L327.8,353.4 L329.4,353.4 L331.0,353.6 L332.6,354.1 L334.2,354.8 L335.8,355.6 L337.4,356.2 L338.9,357.0 L340.5,358.4 L342.1,360.2 L343.7,362.1 L345.3,364.1 L346.9,366.0 L348.5,368.0 L350.1,370.0 L351.7,372.2 L353.2,374.9 L354.8,377.7 L356.4,380.6 L358.0,383.4 L359.6,386.2 L361.2,389.0 L362.8,391.7 L364.4,394.4 L366.0,397.2 L367.6,400.4 L369.1,403.7 L370.7,406.7 L372.3,409.7 L373.9,412.8 L375.5,415.8 L377.1,418.6 L378.7,421.2 L380.3,424.0 L381.9,427.1 L383.4,430.0 L385.0,432.7 L386.6,435.1 L388.2,437.6 L389.8,440.3 L391.4,443.0 L393.0,445.6 L394.6,448.1 L396.2,450.3 L397.8,452.4 L399.3,454.6 L400.9,456.9 L402.5,459.0 L404.1,460.8 L405.7,462.6 L407.3,464.5 L408.9,466.5 L410.5,468.7 L412.1,470.6 L413.7,472.3 L415.2,473.8 L416.8,475.5 L418.4,477.4 L420.0,479.2 L421.6,480.8 L423.2,482.3 L424.8,483.4 L426.4,484.3 L428.0,485.3 L429.5,486.8 L431.1,488.6 L432.7,490.2 L434.3,491.2 L435.9,492.1 L437.5,493.2 L439.1,494.4 L440.7,495.5 L442.3,496.4 L443.9,497.2 L445.4,498.2 L447.0,499.4 L448.6,500.6 L450.2,501.3 L451.8,501.7 L453.4,502.4 L455.0,503.3 L456.6,504.3 L458.2,505.3 L459.7,506.3 L461.3,507.1 L462.9,507.4 L464.5,507.4 L466.1,507.6 L467.7,508.1 L469.3,508.7 L470.9,509.1 L472.5,509.2 L474.1,509.2 L475.6,509.2 L477.2,509.6 L478.8,510.1 L480.4,510.8 L482.0,511.8 L483.6,512.8 L485.2,513.6 L486.8,514.1 L488.4,514.7 L489.9,515.3 L491.5,515.8 L493.1,516.2 L494.7,516.6 L496.3,517.2 L497.9,517.8 L499.5,518.4 L501.1,518.9 L502.7,519.0 L504.3,519.0 L505.8,519.4 L507.4,519.9 L509.0,520.4 L510.6,520.9 L512.2,521.4 L513.8,521.8 L515.4,521.9 L517.0,521.8 L518.6,521.8 L520.1,521.9 L521.7,522.1 L523.3,522.5 L524.9,522.8 L526.5,523.1 L528.1,523.1 L529.7,523.1 L531.3,523.2 L532.9,523.3 L534.5,523.2 L536.0,522.9 L537.6,522.7 L539.2,522.5 L540.8,522.1 L542.4,521.6 L544.0,521.6 L545.6,522.0 L547.2,522.4 L548.8,522.7 L550.3,523.1 L551.9,523.9 L553.5,524.9 L555.1,525.6 L556.7,525.8 L558.3,525.8 L559.9,525.9 L561.5,526.3 L563.1,526.6 L564.7,526.7 L566.2,526.4 L567.8,526.2 L569.4,526.3 L571.0,526.5 L572.6,526.7 L574.2,526.9 L575.8,527.2 L577.4,527.6 L579.0,527.8 L580.5,527.8 L582.1,527.8 L583.7,528.1 L585.3,528.3 L586.9,528.6 L588.5,529.0 L590.1,529.3 L591.7,529.5 L593.3,529.7 L594.9,530.1 L596.4,530.0 L598.0,529.8 L599.6,529.6 L601.2,529.6 L602.8,529.6 L604.4,529.6 L606.0,529.5 L607.6,529.3 L609.2,529.1 L610.7,528.8 L612.3,528.8 L613.9,529.4 L615.5,530.2 L617.1,530.7 L618.7,530.6 L620.3,530.4 L621.9,530.5 L623.5,530.7 L625.1,530.7 L626.6,530.5 L628.2,530.3 L629.8,530.2 L631.4,530.1 L633.0,530.1 L634.6,530.4 L636.2,530.9 L637.8,531.3 L639.4,531.6 L640.9,531.9 L642.5,532.0 L644.1,531.8 L645.7,531.5"/>
<path d="M43.3,529.5 L44.9,529.7 L46.5,529.8 L48.1,529.5 L49.7,528.9 L51.2,528.6 L52.8,528.4 L54.4,528.2 L56.0,527.9 L57.6,527.7 L59.2,527.5 L60.8,527.2 L62.4,526.8 L64.0,526.1 L65.6,525.2 L67.1,524.0 L68.7,522.8 L70.3,521.5 L71.9,520.3 L73.5,519.3 L75.1,518.4 L76.7,517.3 L78.3,515.9 L79.9,514.1 L81.4,512.4 L83.0,511.0 L84.6,510.2 L86.2,509.5 L87.8,509.1 L89.4,508.9 L91.0,508.6 L92.6,508.3 L94.2,508.2 L95.8,508.4 L97.3,508.9 L98.9,509.6 L100.5,510.3 L102.1,511.0 L103.7,512.0 L105.3,512.7 L106.9,512.7 L108.5,512.4 L110.1,512.5 L111.6,512.9 L113.2,513.2 L114.8,513.2 L116.4,513.1 L118.0,512.9 L119.6,512.5 L121.2,511.9 L122.8,511.6 L124.4,511.6 L126.0,511.5 L127.5,511.1 L129.1,510.4 L130.7,509.9 L132.3,509.6 L133.9,509.1 L135.5,508.4 L137.1,507.6 L138.7,506.8 L140.3,506.0 L141.8,505.2 L143.4,504.6 L145.0,504.0 L146.6,503.6 L148.2,503.0 L149.8,502.2 L151.4,501.3 L153.0,500.5 L154.6,499.6 L156.2,498.6 L157.7,497.5 L159.3,496.7 L160.9,495.8 L162.5,494.6 L164.1,493.5 L165.7,492.3 L167.3,490.8 L168.9,489.0 L170.5,486.9 L172.0,484.8 L173.6,482.4 L175.2,479.9 L176.8,477.4 L178.4,474.9 L180.0,472.2 L181.6,468.6 L183.2,464.1 L184.8,459.4 L186.4,454.5 L187.9,449.5 L189.5,444.5 L191.1,439.2 L192.7,433.9 L194.3,428.5 L195.9,423.4 L197.5,418.7 L199.1,414.6 L200.7,411.6 L202.2,409.8 L203.8,408.9 L205.4,408.5 L207.0,408.7 L208.6,409.7 L210.2,411.4 L211.8,413.5 L213.4,415.9 L215.0,418.5 L216.6,420.8 L218.1,423.0 L219.7,425.2 L221.3,427.3 L222.9,429.2 L224.5,431.1 L226.1,433.0 L227.7,434.2 L229.3,434.7 L230.9,435.3 L232.4,436.3 L234.0,437.1 L235.6,437.7 L237.2,438.1 L238.8,438.1 L240.4,437.7 L242.0,437.7 L243.6,438.3 L245.2,438.8 L246.8,438.8 L248.3,438.6 L249.9,438.5 L251.5,438.5 L253.1,438.1 L254.7,437.6 L256.3,437.3 L257.9,436.9 L259.5,436.2 L261.1,435.1 L262.6,433.9 L264.2,432.7 L265.8,431.5 L267.4,430.4 L269.0,429.2 L270.6,428.0 L272.2,426.7 L273.8,425.1 L275.4,423.0 L277.0,420.8 L278.5,418.6 L280.1,416.3 L281.7,414.1 L283.3,412.1 L284.9,410.1 L286.5,407.5 L288.1,404.5 L289.7,401.6 L291.3,399.1 L292.8,396.7 L294.4,393.8 L296.0,390.6 L297.6,387.5 L299.2,385.0 L300.8,382.7 L302.4,380.5 L304.0,378.2 L305.6,375.6 L307.2,372.5 L308.7,369.4 L310.3,367.0 L311.9,365.2 L313.5,363.6 L315.1,361.9 L316.7,360.2 L318.3,358.8 L319.9,357.3 L321.5,355.7 L323.0,354.1 L324.6,352.8 L326.2,352.0 L327.8,351.9 L329.4,352.4 L331.0,353.2 L332.6,353.6 L334.2,353.6 L335.8,353.8 L337.4,354.7 L338.9,356.0 L340.5,357.4 L342.1,358.8 L343.7,360.4 L345.3,362.0 L346.9,363.9 L348.5,366.1 L350.1,368.4 L351.7,370.9 L353.2,373.7 L354.8,376.9 L356.4,379.9 L358.0,382.3 L359.6,384.5 L361.2,387.0 L362.8,389.9 L364.4,392.6 L366.0,395.4 L367.6,398.8 L369.1,402.5 L370.7,405.9 L372.3,408.7 L373.9,411.2 L375.5,413.9 L377.1,416.8 L378.7,419.7 L380.3,422.7 L381.9,425.4 L383.4,428.0 L385.0,430.7 L386.6,433.4 L388.2,436.1 L389.8,438.3 L391.4,440.3 L393.0,442.5 L394.6,444.9 L396.2,447.5 L397.8,449.7 L399.3,451.6 L400.9,453.7 L402.5,456.3 L404.1,458.7 L405.7,460.7 L407.3,462.5 L408.9,464.3 L410.5,466.0 L412.1,467.8 L413.7,469.7 L415.2,471.8 L416.8,473.7 L418.4,475.5 L420.0,477.1 L421.6,478.4 L423.2,479.5 L424.8,480.8 L426.4,482.5 L428.0,484.1 L429.5,485.5 L431.1,486.9 L432.7,488.5 L434.3,489.9 L435.9,490.9 L437.5,491.8 L439.1,492.9 L440.7,494.3 L442.3,495.6 L443.9,496.8 L445.4,497.8 L447.0,498.7 L448.6,499.2 L450.2,499.7 L451.8,500.5 L453.4,501.5 L455.0,502.5 L456.6,503.2 L458.2,503.9 L459.7,504.4 L461.3,505.0 L462.9,505.6 L464.5,506.1 L466.1,506.6 L467.7,507.1 L469.3,507.4 L470.9,507.4 L472.5,507.5 L474.1,508.0 L475.6,508.9 L477.2,509.6 L478.8,510.1 L480.4,510.7 L482.0,511.5 L483.6,512.4 L485.2,512.9 L486.8,513.0 L488.4,513.4 L489.9,514.4 L491.5,515.3 L493.1,515.8 L494.7,516.2 L496.3,517.0 L497.9,517.8 L499.5,518.0 L501.1,518.0 L502.7,518.2 L504.3,518.5 L505.8,519.0 L507.4,519.6 L509.0,520.5 L510.6,520.7 L512.2,520.2 L513.8,519.9 L515.4,520.2 L517.0,520.8 L518.6,521.4 L520.1,522.1 L521.7,522.5 L523.3,522.4 L524.9,522.1 L526.5,522.1 L528.1,522.3 L529.7,522.6 L531.3,522.9 L532.9,523.1 L534.5,522.9 L536.0,522.7 L537.6,522.7 L539.2,522.9 L540.8,523.1 L542.4,523.2 L544.0,523.0 L545.6,523.0 L547.2,523.5 L548.8,524.1 L550.3,524.5 L551.9,524.4 L553.5,524.3 L555.1,524.3 L556.7,524.5 L558.3,525.2 L559.9,525.8 L561.5,526.2 L563.1,526.3 L564.7,526.4 L566.2,526.5 L567.8,526.8 L569.4,527.0 L571.0,526.9 L572.6,526.4 L574.2,526.0 L575.8,526.1 L577.4,526.6 L579.0,526.8 L580.5,526.2 L582.1,525.6 L583.7,525.5 L585.3,525.9 L586.9,526.2 L588.5,526.6 L590.1,527.1 L591.7,527.7 L593.3,527.9 L594.9,527.9 L596.4,528.0 L598.0,528.4 L599.6,528.7 L601.2,528.7 L602.8,528.7 L604.4,528.7 L606.0,528.6 L607.6,528.3 L609.2,527.6 L610.7,526.9 L612.3,526.1 L613.9,525.2 L615.5,524.4 L617.1,523.9 L618.7,523.5 L620.3,523.2 L621.9,523.0 L623.5,523.1 L625.1,523.4 L626.6,523.9 L628.2,524.8 L629.8,525.9 L631.4,526.8 L633.0,527.5 L634.6,528.0 L636.2,528.8 L637.8,529.8 L639.4,530.4 L640.9,530.7 L642.5,530.7 L644.1,530.7 L645.7,531.0"/>
<path d="M43.3,528.2 L44.9,527.8 L46.5,527.5 L48.1,527.4 L49.7,527.3 L51.2,527.1 L52.8,526.7 L54.4,526.2 L56.0,525.4 L57.6,524.7 L59.2,524.1 L60.8,523.6 L62.4,522.9 L64.0,521.9 L65.6,521.0 L67.1,520.2 L68.7,519.2 L70.3,518.0 L71.9,516.7 L73.5,515.3 L75.1,514.0 L76.7,512.8 L78.3,511.5 L79.9,510.6 L81.4,510.0 L83.0,509.6 L84.6,509.0 L86.2,508.4 L87.8,508.3 L89.4,508.5 L91.0,508.7 L92.6,508.8 L94.2,509.2 L95.8,509.8 L97.3,510.7 L98.9,511.5 L100.5,512.4 L102.1,513.2 L103.7,513.5 L105.3,513.2 L106.9,512.8 L108.5,512.4 L110.1,512.3 L111.6,512.1 L113.2,511.9 L114.8,511.8 L116.4,511.7 L118.0,511.4 L119.6,510.8 L121.2,510.2 L122.8,509.4 L124.4,508.7 L126.0,508.2 L127.5,508.1 L129.1,507.9 L130.7,507.3 L132.3,506.4 L133.9,505.7 L135.5,505.1 L137.1,504.5 L138.7,503.7 L140.3,502.9 L141.8,502.2 L143.4,501.6 L145.0,500.9 L146.6,500.2 L148.2,499.3 L149.8,498.4 L151.4,497.5 L153.0,496.7 L154.6,495.8 L156.2,494.8 L157.7,493.7 L159.3,492.6 L160.9,491.8 L162.5,491.1 L164.1,490.3 L165.7,489.2 L167.3,487.7 L168.9,486.0 L170.5,484.4 L172.0,482.8 L173.6,481.0 L175.2,479.0 L176.8,477.1 L178.4,475.4 L180.0,473.2 L181.6,470.6 L183.2,467.9 L184.8,464.9 L186.4,461.5 L187.9,458.0 L189.5,454.4 L191.1,450.7 L192.7,446.8 L194.3,443.0 L195.9,439.5 L197.5,436.1 L199.1,433.1 L200.7,430.8 L202.2,429.3 L203.8,428.4 L205.4,428.3 L207.0,428.9 L208.6,430.3 L210.2,432.1 L211.8,434.1 L213.4,436.1 L215.0,438.0 L216.6,440.1 L218.1,442.4 L219.7,444.7 L221.3,446.6 L222.9,448.1 L224.5,449.4 L226.1,450.5 L227.7,451.4 L229.3,452.3 L230.9,453.1 L232.4,453.6 L234.0,453.9 L235.6,453.8 L237.2,453.5 L238.8,453.2 L240.4,452.9 L242.0,452.6 L243.6,452.2 L245.2,451.8 L246.8,451.2 L248.3,450.3 L249.9,449.4 L251.5,448.5 L253.1,447.5 L254.7,446.2 L256.3,444.9 L257.9,443.7 L259.5,442.5 L261.1,441.5 L262.6,440.5 L264.2,439.1 L265.8,437.4 L267.4,435.5 L269.0,433.4 L270.6,431.2 L272.2,428.8 L273.8,426.4 L275.4,423.9 L277.0,421.3 L278.5,418.6 L280.1,415.8 L281.7,413.1 L283.3,410.4 L284.9,407.7 L286.5,405.0 L288.1,402.1 L289.7,399.1 L291.3,396.0 L292.8,392.7 L294.4,389.2 L296.0,385.6 L297.6,382.4 L299.2,379.7 L300.8,377.1 L302.4,374.5 L304.0,371.8 L305.6,369.2 L307.2,366.8 L308.7,364.4 L310.3,362.1 L311.9,359.8 L313.5,357.4 L315.1,354.8 L316.7,352.5 L318.3,350.4 L319.9,348.5 L321.5,347.0 L323.0,346.1 L324.6,345.4 L326.2,344.6 L327.8,343.7 L329.4,343.1 L331.0,343.0 L332.6,342.9 L334.2,342.8 L335.8,343.0 L337.4,343.5 L338.9,344.7 L340.5,346.4 L342.1,348.1 L343.7,349.7 L345.3,351.0 L346.9,352.2 L348.5,353.5 L350.1,355.1 L351.7,356.9 L353.2,359.3 L354.8,362.0 L356.4,365.0 L358.0,367.7 L359.6,370.0 L361.2,372.2 L362.8,374.6 L364.4,377.4 L366.0,380.7 L367.6,383.9 L369.1,386.8 L370.7,389.3 L372.3,391.7 L373.9,394.4 L375.5,397.2 L377.1,400.0 L378.7,403.0 L380.3,406.0 L381.9,408.6 L383.4,411.0 L385.0,413.6 L386.6,416.3 L388.2,419.1 L389.8,421.7 L391.4,424.2 L393.0,426.7 L394.6,429.0 L396.2,431.4 L397.8,434.2 L399.3,437.1 L400.9,439.8 L402.5,442.3 L404.1,444.6 L405.7,446.8 L407.3,448.9 L408.9,451.1 L410.5,453.4 L412.1,455.5 L413.7,457.4 L415.2,459.4 L416.8,461.4 L418.4,463.2 L420.0,464.8 L421.6,466.6 L423.2,468.5 L424.8,470.2 L426.4,472.0 L428.0,473.8 L429.5,475.6 L431.1,477.1 L432.7,478.5 L434.3,479.8 L435.9,481.1 L437.5,482.6 L439.1,484.1 L440.7,485.8 L442.3,487.3 L443.9,488.8 L445.4,490.4 L447.0,491.6 L448.6,492.5 L450.2,493.0 L451.8,493.8 L453.4,494.9 L455.0,495.9 L456.6,496.9 L458.2,498.1 L459.7,499.1 L461.3,499.8 L462.9,500.3 L464.5,500.9 L466.1,501.7 L467.7,502.4 L469.3,502.8 L470.9,502.7 L472.5,502.9 L474.1,503.7 L475.6,504.9 L477.2,505.7 L478.8,505.9 L480.4,506.2 L482.0,506.9 L483.6,507.5 L485.2,508.3 L486.8,509.4 L488.4,510.6 L489.9,511.5 L491.5,512.0 L493.1,512.4 L494.7,512.8 L496.3,513.0 L497.9,513.2 L499.5,513.7 L501.1,514.5 L502.7,515.1 L504.3,515.4 L505.8,515.6 L507.4,515.7 L509.0,515.8 L510.6,516.2 L512.2,516.7 L513.8,517.2 L515.4,517.5 L517.0,517.7 L518.6,518.3 L520.1,518.7 L521.7,518.8 L523.3,518.7 L524.9,518.5 L526.5,518.5 L528.1,518.9 L529.7,519.3 L531.3,519.7 L532.9,520.0 L534.5,520.2 L536.0,520.3 L537.6,520.2 L539.2,520.1 L540.8,520.0 L542.4,519.8 L544.0,519.6 L545.6,519.6 L547.2,519.8 L548.8,520.1 L550.3,520.6 L551.9,521.1 L553.5,521.5 L555.1,521.8 L556.7,522.1 L558.3,522.6 L559.9,523.0 L561.5,523.3 L563.1,523.7 L564.7,524.0 L566.2,524.1 L567.8,523.8 L569.4,523.4 L571.0,523.5 L572.6,523.9 L574.2,524.0 L575.8,523.7 L577.4,523.3 L579.0,523.0 L580.5,522.7 L582.1,522.4 L583.7,522.3 L585.3,522.5 L586.9,523.1 L588.5,523.6 L590.1,523.9 L591.7,524.4 L593.3,525.0 L594.9,525.5 L596.4,525.6 L598.0,525.5 L599.6,525.3 L601.2,525.1 L602.8,524.9 L604.4,524.9 L606.0,525.0 L607.6,524.8 L609.2,524.5 L610.7,524.0 L612.3,523.3 L613.9,522.6 L615.5,522.2 L617.1,522.0 L618.7,521.9 L620.3,521.5 L621.9,520.8 L623.5,520.4 L625.1,520.8 L626.6,521.8 L628.2,522.8 L629.8,523.7 L631.4,524.7 L633.0,525.5 L634.6,526.1 L636.2,526.5 L637.8,526.9 L639.4,527.3 L640.9,527.6 L642.5,527.6 L644.1,527.6 L645.7,527.7"/>
</g>
<rect x="43.3" y="6.0" width="602.4" height="533.0" fill="none" stroke="#4a4a4a" stroke-width="2.0"/>
<line x1="98.1" y1="539.0" x2="98.1" y2="529.0" stroke="#5a5a5a" stroke-width="1.6"/>
<line x1="207.6" y1="539.0" x2="207.6" y2="529.0" stroke="#5a5a5a" stroke-width="1.6"/>
<line x1="317.1" y1="539.0" x2="317.1" y2="529.0" stroke="#5a5a5a" stroke-width="1.6"/>
<line x1="426.7" y1="539.0" x2="426.7" y2="529.0" stroke="#5a5a5a" stroke-width="1.6"/>
<line x1="536.2" y1="539.0" x2="536.2" y2="529.0" stroke="#5a5a5a" stroke-width="1.6"/>
<g font-size="27" fill="#1a1a1a" text-anchor="middle">
<text x="98.1" y="573.8">910</text>
<text x="207.6" y="573.8">920</text>
<text x="317.1" y="573.8">930</text>
<text x="426.7" y="573.8">940</text>
<text x="536.2" y="573.8">950</text>
<text x="645.7" y="573.8">960</text>
</g>
<g font-size="26" fill="#1a1a1a" text-anchor="end">
<text x="642" y="31.4" word-spacing="2" letter-spacing="0.35">Pure AN</text>
<text x="640" y="62.4">30/1</text>
<text x="640" y="93.4">20/1</text>
<text x="640" y="124.5">15/1</text>
<text x="640" y="155.6">10/1</text>
<text x="640" y="186.7">9.0/1</text>
<text x="640" y="217.7">8.0/1</text>
<text x="640" y="248.8">7.0/1</text>
<text x="640" y="279.9">6.0/1</text>
<text x="640" y="310.9">5.0/1</text>
<text x="640" y="342.0">4.0/1</text>
<text x="640" y="373.1">3.3/1</text>
<text x="640" y="404.1">3.0/1</text>
<text x="640" y="435.2">2.8/1</text>
<text x="640" y="466.3">2.5/1</text>
</g>
<line x1="553.7" y1="47.9" x2="553.7" y2="68" stroke="#8c8c8c" stroke-width="1.9"/><polygon points="546.95,66 560.45,66 553.7,84" fill="#000"/>
<line x1="239.6" y1="65.6" x2="239.6" y2="86" stroke="#8c8c8c" stroke-width="1.9"/><polygon points="232.85,84 246.35,84 239.6,101.6" fill="#000"/>
<line x1="418.5" y1="380.8" x2="418.5" y2="399.4" stroke="#adadad" stroke-width="2.2"/><polygon points="412.0,382.8 425.0,382.8 418.5,366.6" fill="#000"/>
<text transform="translate(32,273) rotate(-90)" font-size="26" fill="#1a1a1a" text-anchor="middle">Relative Intensity</text>
</g>
<g id="bl">
<g fill="none" stroke="#000" stroke-width="1.5" stroke-linejoin="round">
<path d="M43.3,1116.6 L44.5,1116.6 L45.6,1116.6 L46.8,1116.7 L47.9,1116.8 L49.1,1116.8 L50.3,1116.7 L51.4,1116.6 L52.6,1116.6 L53.7,1116.7 L54.9,1116.8 L56.1,1117.0 L57.2,1117.0 L58.4,1116.9 L59.5,1116.9 L60.7,1116.9 L61.9,1116.9 L63.0,1116.9 L64.2,1116.8 L65.3,1116.5 L66.5,1116.3 L67.7,1116.0 L68.8,1115.7 L70.0,1115.3 L71.1,1115.1 L72.3,1115.0 L73.5,1115.1 L74.6,1115.4 L75.8,1115.5 L77.0,1115.6 L78.1,1115.6 L79.3,1115.4 L80.4,1115.3 L81.6,1115.2 L82.8,1115.2 L83.9,1115.3 L85.1,1115.6 L86.2,1115.7 L87.4,1115.6 L88.6,1115.1 L89.7,1114.6 L90.9,1114.4 L92.0,1114.4 L93.2,1114.6 L94.4,1114.8 L95.5,1114.9 L96.7,1114.8 L97.8,1114.7 L99.0,1114.3 L100.2,1113.8 L101.3,1113.4 L102.5,1113.1 L103.6,1113.1 L104.8,1113.0 L106.0,1112.9 L107.1,1112.7 L108.3,1112.6 L109.4,1112.8 L110.6,1113.0 L111.8,1113.1 L112.9,1113.0 L114.1,1112.8 L115.2,1112.6 L116.4,1112.3 L117.6,1112.0 L118.7,1111.6 L119.9,1111.3 L121.0,1111.1 L122.2,1111.0 L123.4,1111.0 L124.5,1110.9 L125.7,1110.5 L126.8,1110.0 L128.0,1109.5 L129.2,1108.9 L130.3,1108.5 L131.5,1108.4 L132.7,1108.5 L133.8,1108.4 L135.0,1108.1 L136.1,1107.5 L137.3,1106.7 L138.5,1106.0 L139.6,1105.6 L140.8,1105.4 L141.9,1105.0 L143.1,1104.3 L144.3,1103.5 L145.4,1102.6 L146.6,1101.8 L147.7,1100.9 L148.9,1099.9 L150.1,1098.5 L151.2,1096.8 L152.4,1095.0 L153.5,1093.4 L154.7,1091.9 L155.9,1090.5 L157.0,1088.9 L158.2,1087.1 L159.3,1085.0 L160.5,1082.7 L161.7,1080.2 L162.8,1077.6 L164.0,1074.8 L165.1,1071.8 L166.3,1068.5 L167.5,1065.0 L168.6,1061.2 L169.8,1057.2 L170.9,1053.0 L172.1,1048.5 L173.3,1043.8 L174.4,1039.1 L175.6,1034.4 L176.7,1029.4 L177.9,1024.3 L179.1,1018.9 L180.2,1013.3 L181.4,1007.3 L182.5,1000.8 L183.7,994.1 L184.9,987.4 L186.0,980.8 L187.2,974.4 L188.4,967.9 L189.5,961.1 L190.7,954.0 L191.8,946.8 L193.0,939.6 L194.2,932.4 L195.3,925.3 L196.5,918.0 L197.6,910.5 L198.8,903.0 L200.0,895.6 L201.1,888.4 L202.3,881.5 L203.4,874.9 L204.6,868.3 L205.8,861.9 L206.9,855.7 L208.1,849.6 L209.2,843.4 L210.4,837.1 L211.6,830.4 L212.7,823.4 L213.9,815.9 L215.0,807.9 L216.2,799.0 L217.4,789.1 L218.5,778.1 L219.7,765.8 L220.8,752.3 L222.0,737.3 L223.2,720.8 L224.3,703.0 L225.5,684.4 L226.6,666.0 L227.8,649.6 L229.0,637.1 L230.1,630.6 L231.3,631.6 L232.4,640.9 L233.6,657.9 L234.8,681.0 L235.9,708.3 L237.1,737.6 L238.2,767.3 L239.4,796.0 L240.6,823.0 L241.7,848.0 L242.9,870.8 L244.0,891.7 L245.2,910.6 L246.4,927.7 L247.5,943.0 L248.7,956.6 L249.9,968.8 L251.0,979.8 L252.2,990.0 L253.3,999.4 L254.5,1008.2 L255.7,1016.4 L256.8,1023.9 L258.0,1030.8 L259.1,1037.0 L260.3,1042.6 L261.5,1047.6 L262.6,1052.3 L263.8,1056.9 L264.9,1061.3 L266.1,1065.6 L267.3,1069.4 L268.4,1072.6 L269.6,1075.4 L270.7,1077.8 L271.9,1079.9 L273.1,1082.1 L274.2,1084.2 L275.4,1086.1 L276.5,1087.9 L277.7,1089.6 L278.9,1091.1 L280.0,1092.4 L281.2,1093.7 L282.3,1094.7 L283.5,1095.6 L284.7,1096.6 L285.8,1097.5 L287.0,1098.5 L288.1,1099.4 L289.3,1100.3 L290.5,1101.0 L291.6,1101.7 L292.8,1102.3 L293.9,1103.0 L295.1,1103.6 L296.3,1104.0 L297.4,1104.3 L298.6,1104.5 L299.7,1104.8 L300.9,1105.4 L302.1,1106.1 L303.2,1106.8 L304.4,1107.1 L305.6,1107.1 L306.7,1106.8 L307.9,1106.6 L309.0,1106.6 L310.2,1106.8 L311.4,1107.1 L312.5,1107.5 L313.7,1107.9 L314.8,1108.3 L316.0,1108.8 L317.2,1109.4 L318.3,1109.8 L319.5,1110.1 L320.6,1110.3 L321.8,1110.3 L323.0,1110.3 L324.1,1110.2 L325.3,1110.1 L326.4,1110.1 L327.6,1110.3 L328.8,1110.5 L329.9,1110.7 L331.1,1110.8 L332.2,1111.0 L333.4,1111.3 L334.6,1111.8 L335.7,1112.2 L336.9,1112.4 L338.0,1112.4 L339.2,1112.3 L340.4,1112.2 L341.5,1112.0 L342.7,1111.9 L343.8,1111.7 L345.0,1111.5 L346.2,1111.3 L347.3,1111.2 L348.5,1111.2 L349.6,1111.4 L350.8,1111.8 L352.0,1112.4 L353.1,1112.9 L354.3,1113.2 L355.4,1113.1 L356.6,1112.8 L357.8,1112.6 L358.9,1112.6 L360.1,1112.6 L361.3,1112.5 L362.4,1112.4 L363.6,1112.2 L364.7,1111.9 L365.9,1111.7 L367.1,1111.5 L368.2,1111.5 L369.4,1111.7 L370.5,1111.9 L371.7,1112.0 L372.9,1112.0 L374.0,1111.9 L375.2,1111.7 L376.3,1111.5 L377.5,1111.2 L378.7,1111.0 L379.8,1110.9 L381.0,1110.8 L382.1,1110.7 L383.3,1110.7 L384.5,1110.8 L385.6,1110.7 L386.8,1110.7 L387.9,1110.6 L389.1,1110.5 L390.3,1110.4 L391.4,1110.2 L392.6,1109.8 L393.7,1109.5 L394.9,1109.2 L396.1,1109.1 L397.2,1109.0 L398.4,1108.8 L399.5,1108.7 L400.7,1108.6 L401.9,1108.4 L403.0,1107.9 L404.2,1107.4 L405.3,1106.9 L406.5,1106.6 L407.7,1106.4 L408.8,1106.2 L410.0,1105.8 L411.1,1105.3 L412.3,1104.8 L413.5,1104.1 L414.6,1103.5 L415.8,1102.9 L417.0,1102.4 L418.1,1101.9 L419.3,1101.4 L420.4,1100.7 L421.6,1100.0 L422.8,1099.3 L423.9,1098.6 L425.1,1097.9 L426.2,1097.1 L427.4,1096.6 L428.6,1096.4 L429.7,1096.4 L430.9,1096.3 L432.0,1096.0 L433.2,1095.4 L434.4,1094.6 L435.5,1093.9 L436.7,1093.3 L437.8,1092.9 L439.0,1092.6 L440.2,1092.4 L441.3,1092.2 L442.5,1092.0 L443.6,1092.1 L444.8,1092.5 L446.0,1092.8 L447.1,1093.0 L448.3,1093.0 L449.4,1093.1 L450.6,1093.3 L451.8,1094.0 L452.9,1095.1 L454.1,1096.1 L455.2,1096.9 L456.4,1097.4 L457.6,1097.5 L458.7,1097.7 L459.9,1098.3 L461.0,1099.2 L462.2,1100.0 L463.4,1100.6 L464.5,1101.1 L465.7,1101.5 L466.8,1102.2 L468.0,1103.0 L469.2,1103.6 L470.3,1103.9 L471.5,1104.3 L472.6,1104.8 L473.8,1105.2 L475.0,1105.6 L476.1,1106.1 L477.3,1106.5 L478.5,1107.1 L479.6,1107.8 L480.8,1108.4 L481.9,1108.9 L483.1,1109.1 L484.3,1109.1 L485.4,1109.1 L486.6,1109.4 L487.7,1110.1 L488.9,1110.8 L490.1,1111.3 L491.2,1111.4 L492.4,1111.4 L493.5,1111.5 L494.7,1111.7 L495.9,1111.8 L497.0,1111.9 L498.2,1112.1 L499.3,1112.7 L500.5,1113.2 L501.7,1113.5 L502.8,1113.7 L504.0,1113.8 L505.1,1113.9 L506.3,1114.1 L507.5,1114.2 L508.6,1114.2 L509.8,1114.2 L510.9,1114.2 L512.1,1114.2 L513.3,1114.3 L514.4,1114.6 L515.6,1114.9 L516.7,1115.1 L517.9,1115.0 L519.1,1114.7 L520.2,1114.5 L521.4,1114.4 L522.5,1114.5 L523.7,1114.8 L524.9,1115.1 L526.0,1115.3 L527.2,1115.4 L528.3,1115.6 L529.5,1115.8 L530.7,1116.0 L531.8,1116.2 L533.0,1116.2 L534.2,1116.2 L535.3,1116.3 L536.5,1116.6 L537.6,1117.0 L538.8,1117.3 L540.0,1117.5 L541.1,1117.3 L542.3,1117.0 L543.4,1116.7 L544.6,1116.6 L545.8,1116.6 L546.9,1116.7 L548.1,1116.7 L549.2,1116.6 L550.4,1116.5 L551.6,1116.7 L552.7,1116.9 L553.9,1117.2 L555.0,1117.4 L556.2,1117.3 L557.4,1117.1 L558.5,1116.9 L559.7,1116.8 L560.8,1116.9 L562.0,1117.0 L563.2,1116.9 L564.3,1116.8 L565.5,1116.8 L566.6,1116.9 L567.8,1117.1 L569.0,1117.3 L570.1,1117.2 L571.3,1117.1 L572.4,1117.1 L573.6,1117.2 L574.8,1117.1 L575.9,1117.1 L577.1,1117.2 L578.2,1117.2 L579.4,1117.4 L580.6,1117.5 L581.7,1117.4 L582.9,1117.3 L584.0,1117.3 L585.2,1117.5 L586.4,1117.9 L587.5,1118.1 L588.7,1118.3 L589.9,1118.3 L591.0,1118.2 L592.2,1118.2 L593.3,1118.3 L594.5,1118.4 L595.7,1118.4 L596.8,1118.3 L598.0,1118.2 L599.1,1118.0 L600.3,1118.0 L601.5,1118.1 L602.6,1118.2 L603.8,1118.1 L604.9,1117.9 L606.1,1117.6 L607.3,1117.6 L608.4,1117.7 L609.6,1117.9 L610.7,1118.1 L611.9,1118.4 L613.1,1118.5 L614.2,1118.6 L615.4,1118.6 L616.5,1118.5 L617.7,1118.3 L618.9,1118.0 L620.0,1117.9 L621.2,1117.9 L622.3,1118.1 L623.5,1118.3 L624.7,1118.4 L625.8,1118.2 L627.0,1117.9 L628.1,1117.8 L629.3,1117.9 L630.5,1118.2 L631.6,1118.4 L632.8,1118.4 L633.9,1118.2 L635.1,1118.0 L636.3,1118.0 L637.4,1118.1 L638.6,1118.4 L639.7,1118.7 L640.9,1118.7 L642.1,1118.5 L643.2,1118.1 L644.4,1117.6 L645.5,1117.4"/>
<path d="M43.3,1115.7 L44.5,1115.8 L45.6,1116.0 L46.8,1116.1 L47.9,1115.9 L49.1,1115.6 L50.3,1115.5 L51.4,1115.5 L52.6,1115.6 L53.7,1115.6 L54.9,1115.6 L56.1,1115.5 L57.2,1115.5 L58.4,1115.2 L59.5,1114.9 L60.7,1114.7 L61.9,1114.7 L63.0,1114.8 L64.2,1115.0 L65.3,1115.2 L66.5,1115.4 L67.7,1115.5 L68.8,1115.4 L70.0,1115.1 L71.1,1114.9 L72.3,1114.7 L73.5,1114.7 L74.6,1114.8 L75.8,1114.8 L77.0,1114.8 L78.1,1114.9 L79.3,1114.9 L80.4,1114.7 L81.6,1114.5 L82.8,1114.2 L83.9,1114.0 L85.1,1113.7 L86.2,1113.6 L87.4,1113.7 L88.6,1114.1 L89.7,1114.7 L90.9,1115.1 L92.0,1115.1 L93.2,1114.8 L94.4,1114.4 L95.5,1114.1 L96.7,1113.8 L97.8,1113.6 L99.0,1113.4 L100.2,1113.5 L101.3,1113.7 L102.5,1114.1 L103.6,1114.4 L104.8,1114.4 L106.0,1113.9 L107.1,1113.3 L108.3,1112.6 L109.4,1112.2 L110.6,1112.1 L111.8,1112.2 L112.9,1112.4 L114.1,1112.5 L115.2,1112.5 L116.4,1112.3 L117.6,1112.0 L118.7,1111.8 L119.9,1111.6 L121.0,1111.4 L122.2,1111.2 L123.4,1111.0 L124.5,1110.9 L125.7,1110.9 L126.8,1110.7 L128.0,1110.4 L129.2,1109.9 L130.3,1109.2 L131.5,1108.7 L132.7,1108.4 L133.8,1108.3 L135.0,1108.5 L136.1,1108.6 L137.3,1108.4 L138.5,1107.7 L139.6,1106.8 L140.8,1106.0 L141.9,1105.5 L143.1,1105.1 L144.3,1104.7 L145.4,1104.1 L146.6,1103.3 L147.7,1102.3 L148.9,1101.3 L150.1,1100.6 L151.2,1099.8 L152.4,1099.0 L153.5,1097.9 L154.7,1096.7 L155.9,1095.6 L157.0,1094.5 L158.2,1093.5 L159.3,1092.2 L160.5,1090.8 L161.7,1089.1 L162.8,1087.4 L164.0,1085.5 L165.1,1083.5 L166.3,1081.3 L167.5,1078.7 L168.6,1075.9 L169.8,1072.9 L170.9,1069.7 L172.1,1066.4 L173.3,1063.0 L174.4,1059.5 L175.6,1056.1 L176.7,1052.5 L177.9,1048.5 L179.1,1044.2 L180.2,1039.7 L181.4,1035.2 L182.5,1030.7 L183.7,1026.1 L184.9,1021.1 L186.0,1015.7 L187.2,1010.0 L188.4,1004.1 L189.5,998.3 L190.7,992.6 L191.8,987.0 L193.0,981.3 L194.2,975.6 L195.3,969.6 L196.5,963.4 L197.6,957.0 L198.8,950.8 L200.0,944.6 L201.1,938.6 L202.3,932.6 L203.4,926.8 L204.6,921.0 L205.8,915.3 L206.9,909.6 L208.1,903.8 L209.2,898.1 L210.4,892.3 L211.6,886.5 L212.7,880.4 L213.9,874.1 L215.0,867.6 L216.2,861.4 L217.4,855.3 L218.5,848.9 L219.7,841.7 L220.8,833.2 L222.0,823.4 L223.2,812.2 L224.3,799.9 L225.5,786.5 L226.6,772.0 L227.8,756.6 L229.0,741.0 L230.1,726.2 L231.3,713.9 L232.4,705.9 L233.6,703.3 L234.8,707.1 L235.9,717.3 L237.1,733.2 L238.2,753.6 L239.4,776.8 L240.6,801.1 L241.7,825.2 L242.9,848.2 L244.0,869.8 L245.2,889.9 L246.4,908.4 L247.5,925.3 L248.7,940.6 L249.9,954.5 L251.0,967.0 L252.2,978.3 L253.3,988.5 L254.5,997.9 L255.7,1006.7 L256.8,1014.7 L258.0,1021.8 L259.1,1028.3 L260.3,1034.1 L261.5,1039.5 L262.6,1044.4 L263.8,1049.0 L264.9,1053.1 L266.1,1056.9 L267.3,1060.5 L268.4,1063.7 L269.6,1066.6 L270.7,1069.5 L271.9,1072.4 L273.1,1075.1 L274.2,1077.5 L275.4,1079.4 L276.5,1081.1 L277.7,1082.7 L278.9,1084.2 L280.0,1085.6 L281.2,1086.8 L282.3,1087.9 L283.5,1088.9 L284.7,1089.8 L285.8,1090.7 L287.0,1091.6 L288.1,1092.4 L289.3,1093.1 L290.5,1093.6 L291.6,1094.0 L292.8,1094.3 L293.9,1094.5 L295.1,1094.7 L296.3,1094.9 L297.4,1095.3 L298.6,1095.6 L299.7,1095.7 L300.9,1095.7 L302.1,1095.5 L303.2,1095.2 L304.4,1095.0 L305.6,1094.9 L306.7,1095.0 L307.9,1095.0 L309.0,1095.1 L310.2,1094.8 L311.4,1094.3 L312.5,1093.7 L313.7,1093.3 L314.8,1092.8 L316.0,1092.3 L317.2,1091.8 L318.3,1091.3 L319.5,1090.7 L320.6,1090.2 L321.8,1089.5 L323.0,1088.6 L324.1,1087.8 L325.3,1086.9 L326.4,1085.9 L327.6,1085.0 L328.8,1084.1 L329.9,1083.3 L331.1,1082.5 L332.2,1081.7 L333.4,1081.0 L334.6,1080.5 L335.7,1079.9 L336.9,1079.1 L338.0,1078.2 L339.2,1077.0 L340.4,1075.8 L341.5,1074.7 L342.7,1073.8 L343.8,1073.0 L345.0,1072.4 L346.2,1071.7 L347.3,1071.0 L348.5,1070.2 L349.6,1069.6 L350.8,1069.3 L352.0,1069.3 L353.1,1069.1 L354.3,1068.9 L355.4,1068.7 L356.6,1068.7 L357.8,1069.0 L358.9,1069.4 L360.1,1069.8 L361.3,1070.3 L362.4,1071.1 L363.6,1072.0 L364.7,1073.0 L365.9,1073.8 L367.1,1074.6 L368.2,1075.4 L369.4,1076.2 L370.5,1077.1 L371.7,1078.2 L372.9,1079.3 L374.0,1080.5 L375.2,1081.7 L376.3,1082.7 L377.5,1083.6 L378.7,1084.5 L379.8,1085.4 L381.0,1086.4 L382.1,1087.2 L383.3,1087.9 L384.5,1088.5 L385.6,1089.3 L386.8,1090.3 L387.9,1091.3 L389.1,1092.2 L390.3,1092.9 L391.4,1093.4 L392.6,1093.8 L393.7,1094.3 L394.9,1094.8 L396.1,1095.3 L397.2,1095.6 L398.4,1095.9 L399.5,1096.1 L400.7,1096.3 L401.9,1096.4 L403.0,1096.6 L404.2,1096.8 L405.3,1097.1 L406.5,1097.4 L407.7,1097.6 L408.8,1097.8 L410.0,1098.0 L411.1,1098.2 L412.3,1098.2 L413.5,1097.9 L414.6,1097.3 L415.8,1097.0 L417.0,1096.9 L418.1,1097.0 L419.3,1096.9 L420.4,1096.6 L421.6,1096.0 L422.8,1095.3 L423.9,1094.7 L425.1,1094.4 L426.2,1094.1 L427.4,1093.9 L428.6,1093.6 L429.7,1093.3 L430.9,1092.9 L432.0,1092.3 L433.2,1091.6 L434.4,1091.0 L435.5,1090.4 L436.7,1090.0 L437.8,1089.5 L439.0,1088.9 L440.2,1088.4 L441.3,1088.0 L442.5,1087.7 L443.6,1087.5 L444.8,1087.6 L446.0,1087.9 L447.1,1088.3 L448.3,1088.5 L449.4,1088.6 L450.6,1088.7 L451.8,1089.0 L452.9,1089.3 L454.1,1089.6 L455.2,1090.0 L456.4,1090.4 L457.6,1091.1 L458.7,1091.9 L459.9,1092.7 L461.0,1093.5 L462.2,1094.2 L463.4,1094.9 L464.5,1095.6 L465.7,1096.3 L466.8,1097.0 L468.0,1097.4 L469.2,1097.7 L470.3,1098.0 L471.5,1098.4 L472.6,1098.9 L473.8,1099.4 L475.0,1100.1 L476.1,1100.7 L477.3,1101.2 L478.5,1101.5 L479.6,1101.9 L480.8,1102.5 L481.9,1103.0 L483.1,1103.4 L484.3,1103.3 L485.4,1103.1 L486.6,1102.9 L487.7,1102.9 L488.9,1102.9 L490.1,1103.0 L491.2,1103.1 L492.4,1103.2 L493.5,1103.2 L494.7,1103.3 L495.9,1103.5 L497.0,1103.6 L498.2,1103.8 L499.3,1103.9 L500.5,1103.8 L501.7,1103.7 L502.8,1103.6 L504.0,1103.6 L505.1,1103.9 L506.3,1104.2 L507.5,1104.3 L508.6,1104.4 L509.8,1104.4 L510.9,1104.5 L512.1,1104.6 L513.3,1104.5 L514.4,1104.2 L515.6,1104.1 L516.7,1104.3 L517.9,1104.7 L519.1,1104.9 L520.2,1104.8 L521.4,1104.7 L522.5,1104.7 L523.7,1104.9 L524.9,1105.2 L526.0,1105.3 L527.2,1105.4 L528.3,1105.6 L529.5,1106.1 L530.7,1106.7 L531.8,1107.0 L533.0,1106.9 L534.2,1106.5 L535.3,1106.1 L536.5,1105.9 L537.6,1105.9 L538.8,1106.0 L540.0,1106.2 L541.1,1106.5 L542.3,1106.9 L543.4,1107.3 L544.6,1107.6 L545.8,1108.0 L546.9,1108.4 L548.1,1108.6 L549.2,1108.8 L550.4,1108.9 L551.6,1108.9 L552.7,1109.0 L553.9,1109.3 L555.0,1109.8 L556.2,1110.2 L557.4,1110.5 L558.5,1110.4 L559.7,1110.1 L560.8,1110.0 L562.0,1110.2 L563.2,1110.6 L564.3,1111.1 L565.5,1111.4 L566.6,1111.7 L567.8,1111.9 L569.0,1112.2 L570.1,1112.3 L571.3,1112.3 L572.4,1112.3 L573.6,1112.1 L574.8,1112.0 L575.9,1111.9 L577.1,1112.0 L578.2,1112.3 L579.4,1112.8 L580.6,1113.2 L581.7,1113.4 L582.9,1113.5 L584.0,1113.4 L585.2,1113.4 L586.4,1113.5 L587.5,1113.7 L588.7,1114.0 L589.9,1114.4 L591.0,1114.8 L592.2,1115.2 L593.3,1115.5 L594.5,1115.8 L595.7,1116.0 L596.8,1116.2 L598.0,1116.3 L599.1,1116.3 L600.3,1116.1 L601.5,1115.8 L602.6,1115.7 L603.8,1115.8 L604.9,1116.0 L606.1,1116.4 L607.3,1116.9 L608.4,1117.1 L609.6,1117.0 L610.7,1116.7 L611.9,1116.4 L613.1,1116.3 L614.2,1116.4 L615.4,1116.6 L616.5,1116.8 L617.7,1117.0 L618.9,1117.5 L620.0,1117.9 L621.2,1118.0 L622.3,1117.7 L623.5,1117.1 L624.7,1116.5 L625.8,1116.2 L627.0,1116.3 L628.1,1116.4 L629.3,1116.5 L630.5,1116.7 L631.6,1116.9 L632.8,1117.1 L633.9,1117.3 L635.1,1117.5 L636.3,1117.6 L637.4,1117.8 L638.6,1117.8 L639.7,1117.6 L640.9,1117.4 L642.1,1117.4 L643.2,1117.5 L644.4,1117.6 L645.5,1117.7"/>
<path d="M43.3,1115.9 L44.5,1116.2 L45.6,1116.6 L46.8,1117.2 L47.9,1117.7 L49.1,1118.0 L50.3,1118.2 L51.4,1118.2 L52.6,1117.9 L53.7,1117.5 L54.9,1117.3 L56.1,1117.2 L57.2,1117.1 L58.4,1116.8 L59.5,1116.5 L60.7,1116.3 L61.9,1116.2 L63.0,1116.2 L64.2,1116.3 L65.3,1116.4 L66.5,1116.5 L67.7,1116.7 L68.8,1116.5 L70.0,1116.3 L71.1,1116.1 L72.3,1116.1 L73.5,1116.3 L74.6,1116.4 L75.8,1116.2 L77.0,1116.0 L78.1,1116.0 L79.3,1116.3 L80.4,1116.4 L81.6,1116.2 L82.8,1115.7 L83.9,1115.3 L85.1,1115.0 L86.2,1115.2 L87.4,1115.4 L88.6,1115.6 L89.7,1115.4 L90.9,1115.0 L92.0,1114.6 L93.2,1114.3 L94.4,1114.2 L95.5,1114.3 L96.7,1114.5 L97.8,1114.6 L99.0,1114.8 L100.2,1114.7 L101.3,1114.5 L102.5,1114.3 L103.6,1114.2 L104.8,1114.2 L106.0,1114.1 L107.1,1114.0 L108.3,1113.8 L109.4,1113.7 L110.6,1113.7 L111.8,1113.8 L112.9,1113.9 L114.1,1113.9 L115.2,1113.7 L116.4,1113.4 L117.6,1113.1 L118.7,1112.6 L119.9,1112.2 L121.0,1111.8 L122.2,1111.5 L123.4,1111.3 L124.5,1111.1 L125.7,1110.9 L126.8,1110.8 L128.0,1111.0 L129.2,1111.2 L130.3,1111.2 L131.5,1110.8 L132.7,1110.2 L133.8,1109.4 L135.0,1108.9 L136.1,1108.5 L137.3,1108.3 L138.5,1108.1 L139.6,1108.0 L140.8,1108.0 L141.9,1107.8 L143.1,1107.4 L144.3,1106.8 L145.4,1105.9 L146.6,1104.9 L147.7,1104.0 L148.9,1103.2 L150.1,1102.5 L151.2,1101.9 L152.4,1101.1 L153.5,1100.2 L154.7,1099.1 L155.9,1098.1 L157.0,1097.0 L158.2,1095.7 L159.3,1094.2 L160.5,1092.5 L161.7,1090.8 L162.8,1089.3 L164.0,1087.8 L165.1,1086.0 L166.3,1083.9 L167.5,1081.5 L168.6,1078.8 L169.8,1076.3 L170.9,1074.0 L172.1,1071.7 L173.3,1069.0 L174.4,1065.8 L175.6,1062.2 L176.7,1058.4 L177.9,1054.5 L179.1,1050.6 L180.2,1046.5 L181.4,1042.3 L182.5,1038.1 L183.7,1033.6 L184.9,1029.0 L186.0,1024.2 L187.2,1019.4 L188.4,1014.5 L189.5,1009.6 L190.7,1004.5 L191.8,999.3 L193.0,993.8 L194.2,988.2 L195.3,982.4 L196.5,976.8 L197.6,971.2 L198.8,965.8 L200.0,960.2 L201.1,954.5 L202.3,948.7 L203.4,942.8 L204.6,937.0 L205.8,931.2 L206.9,925.5 L208.1,919.8 L209.2,914.2 L210.4,908.8 L211.6,903.5 L212.7,898.2 L213.9,892.7 L215.0,886.8 L216.2,880.5 L217.4,873.7 L218.5,866.7 L219.7,859.3 L220.8,851.3 L222.0,842.6 L223.2,833.0 L224.3,822.3 L225.5,810.4 L226.6,797.6 L227.8,783.9 L229.0,769.9 L230.1,756.5 L231.3,744.7 L232.4,735.8 L233.6,731.1 L234.8,731.8 L235.9,738.2 L237.1,750.2 L238.2,766.6 L239.4,786.2 L240.6,807.7 L241.7,829.9 L242.9,851.8 L244.0,872.6 L245.2,892.0 L246.4,909.9 L247.5,926.4 L248.7,941.5 L249.9,955.2 L251.0,967.4 L252.2,978.2 L253.3,988.1 L254.5,997.5 L255.7,1006.2 L256.8,1014.1 L258.0,1021.3 L259.1,1027.9 L260.3,1034.0 L261.5,1039.8 L262.6,1045.1 L263.8,1049.6 L264.9,1053.7 L266.1,1057.4 L267.3,1060.9 L268.4,1064.3 L269.6,1067.4 L270.7,1070.3 L271.9,1072.8 L273.1,1074.9 L274.2,1076.7 L275.4,1078.2 L276.5,1079.6 L277.7,1081.1 L278.9,1082.7 L280.0,1084.3 L281.2,1085.8 L282.3,1087.1 L283.5,1088.3 L284.7,1089.4 L285.8,1090.4 L287.0,1091.3 L288.1,1092.0 L289.3,1092.5 L290.5,1092.8 L291.6,1093.0 L292.8,1093.2 L293.9,1093.6 L295.1,1094.0 L296.3,1094.4 L297.4,1094.5 L298.6,1094.5 L299.7,1094.3 L300.9,1094.0 L302.1,1093.7 L303.2,1093.6 L304.4,1093.7 L305.6,1094.0 L306.7,1094.0 L307.9,1093.8 L309.0,1093.3 L310.2,1092.6 L311.4,1091.8 L312.5,1091.0 L313.7,1090.3 L314.8,1089.7 L316.0,1089.4 L317.2,1089.2 L318.3,1089.0 L319.5,1088.5 L320.6,1087.8 L321.8,1086.9 L323.0,1086.0 L324.1,1085.0 L325.3,1083.9 L326.4,1083.0 L327.6,1082.2 L328.8,1081.5 L329.9,1080.8 L331.1,1079.8 L332.2,1078.5 L333.4,1077.1 L334.6,1075.7 L335.7,1074.3 L336.9,1072.9 L338.0,1071.5 L339.2,1070.1 L340.4,1068.8 L341.5,1067.8 L342.7,1066.8 L343.8,1065.8 L345.0,1064.8 L346.2,1063.9 L347.3,1063.2 L348.5,1062.6 L349.6,1062.4 L350.8,1062.2 L352.0,1062.0 L353.1,1061.6 L354.3,1061.3 L355.4,1061.1 L356.6,1061.2 L357.8,1061.6 L358.9,1062.2 L360.1,1062.8 L361.3,1063.5 L362.4,1064.3 L363.6,1065.1 L364.7,1066.0 L365.9,1067.2 L367.1,1068.5 L368.2,1069.6 L369.4,1070.6 L370.5,1071.5 L371.7,1072.6 L372.9,1073.8 L374.0,1075.1 L375.2,1076.4 L376.3,1077.6 L377.5,1078.8 L378.7,1079.9 L379.8,1081.0 L381.0,1082.1 L382.1,1083.2 L383.3,1084.3 L384.5,1085.1 L385.6,1086.0 L386.8,1087.0 L387.9,1088.3 L389.1,1089.5 L390.3,1090.6 L391.4,1091.3 L392.6,1091.7 L393.7,1092.2 L394.9,1092.8 L396.1,1093.7 L397.2,1094.5 L398.4,1095.2 L399.5,1095.6 L400.7,1095.8 L401.9,1096.1 L403.0,1096.3 L404.2,1096.5 L405.3,1096.6 L406.5,1096.7 L407.7,1096.8 L408.8,1096.8 L410.0,1096.7 L411.1,1096.6 L412.3,1096.7 L413.5,1097.2 L414.6,1097.7 L415.8,1097.9 L417.0,1097.6 L418.1,1097.1 L419.3,1096.6 L420.4,1096.4 L421.6,1096.3 L422.8,1096.2 L423.9,1096.1 L425.1,1095.7 L426.2,1095.1 L427.4,1094.3 L428.6,1093.6 L429.7,1093.3 L430.9,1093.4 L432.0,1093.5 L433.2,1093.5 L434.4,1093.2 L435.5,1092.7 L436.7,1092.0 L437.8,1091.3 L439.0,1090.7 L440.2,1090.0 L441.3,1089.3 L442.5,1088.7 L443.6,1088.2 L444.8,1087.9 L446.0,1088.0 L447.1,1088.2 L448.3,1088.8 L449.4,1089.3 L450.6,1089.8 L451.8,1090.2 L452.9,1090.6 L454.1,1091.2 L455.2,1091.9 L456.4,1092.6 L457.6,1093.2 L458.7,1093.7 L459.9,1094.2 L461.0,1094.8 L462.2,1095.4 L463.4,1096.0 L464.5,1096.5 L465.7,1096.9 L466.8,1097.3 L468.0,1097.8 L469.2,1098.4 L470.3,1099.1 L471.5,1099.7 L472.6,1100.4 L473.8,1101.0 L475.0,1101.3 L476.1,1101.5 L477.3,1101.5 L478.5,1101.7 L479.6,1101.9 L480.8,1102.1 L481.9,1102.3 L483.1,1102.3 L484.3,1102.5 L485.4,1102.7 L486.6,1102.8 L487.7,1102.8 L488.9,1102.7 L490.1,1102.7 L491.2,1102.7 L492.4,1102.7 L493.5,1102.8 L494.7,1103.0 L495.9,1103.1 L497.0,1103.2 L498.2,1103.4 L499.3,1103.5 L500.5,1103.6 L501.7,1103.7 L502.8,1103.9 L504.0,1104.0 L505.1,1103.9 L506.3,1103.7 L507.5,1103.4 L508.6,1103.3 L509.8,1103.5 L510.9,1103.9 L512.1,1104.3 L513.3,1104.5 L514.4,1104.4 L515.6,1104.2 L516.7,1104.1 L517.9,1104.0 L519.1,1104.1 L520.2,1104.1 L521.4,1104.3 L522.5,1104.7 L523.7,1105.2 L524.9,1105.6 L526.0,1105.6 L527.2,1105.4 L528.3,1105.1 L529.5,1104.9 L530.7,1105.0 L531.8,1105.1 L533.0,1105.4 L534.2,1105.8 L535.3,1106.3 L536.5,1106.5 L537.6,1106.5 L538.8,1106.4 L540.0,1106.4 L541.1,1106.6 L542.3,1106.9 L543.4,1107.1 L544.6,1107.2 L545.8,1107.3 L546.9,1107.4 L548.1,1107.5 L549.2,1107.5 L550.4,1107.5 L551.6,1107.8 L552.7,1108.1 L553.9,1108.5 L555.0,1108.9 L556.2,1109.2 L557.4,1109.6 L558.5,1109.9 L559.7,1110.2 L560.8,1110.2 L562.0,1110.1 L563.2,1110.1 L564.3,1110.2 L565.5,1110.7 L566.6,1111.4 L567.8,1111.9 L569.0,1112.3 L570.1,1112.5 L571.3,1112.6 L572.4,1112.8 L573.6,1113.1 L574.8,1113.3 L575.9,1113.4 L577.1,1113.5 L578.2,1113.5 L579.4,1113.6 L580.6,1113.8 L581.7,1114.0 L582.9,1114.1 L584.0,1114.3 L585.2,1114.6 L586.4,1115.0 L587.5,1115.3 L588.7,1115.5 L589.9,1115.7 L591.0,1115.9 L592.2,1116.1 L593.3,1116.3 L594.5,1116.3 L595.7,1116.1 L596.8,1116.0 L598.0,1116.2 L599.1,1116.6 L600.3,1116.9 L601.5,1116.9 L602.6,1116.9 L603.8,1116.9 L604.9,1117.0 L606.1,1117.3 L607.3,1117.4 L608.4,1117.5 L609.6,1117.5 L610.7,1117.5 L611.9,1117.5 L613.1,1117.5 L614.2,1117.5 L615.4,1117.5 L616.5,1117.5 L617.7,1117.5 L618.9,1117.6 L620.0,1117.6 L621.2,1117.6 L622.3,1117.5 L623.5,1117.5 L624.7,1117.6 L625.8,1117.8 L627.0,1118.0 L628.1,1118.0 L629.3,1117.9 L630.5,1117.8 L631.6,1117.8 L632.8,1117.9 L633.9,1118.2 L635.1,1118.5 L636.3,1118.9 L637.4,1119.2 L638.6,1119.2 L639.7,1118.9 L640.9,1118.7 L642.1,1118.7 L643.2,1118.9 L644.4,1119.0 L645.5,1119.0"/>
<path d="M43.3,1117.2 L44.5,1117.1 L45.6,1117.0 L46.8,1117.0 L47.9,1117.1 L49.1,1117.0 L50.3,1116.8 L51.4,1116.8 L52.6,1116.9 L53.7,1117.1 L54.9,1117.3 L56.1,1117.4 L57.2,1117.2 L58.4,1117.0 L59.5,1116.9 L60.7,1116.9 L61.9,1116.8 L63.0,1116.8 L64.2,1116.8 L65.3,1116.8 L66.5,1116.7 L67.7,1116.6 L68.8,1116.3 L70.0,1116.0 L71.1,1115.9 L72.3,1116.1 L73.5,1116.1 L74.6,1116.0 L75.8,1116.0 L77.0,1116.0 L78.1,1116.2 L79.3,1116.3 L80.4,1116.4 L81.6,1116.2 L82.8,1116.0 L83.9,1115.8 L85.1,1115.7 L86.2,1115.6 L87.4,1115.5 L88.6,1115.3 L89.7,1115.2 L90.9,1115.2 L92.0,1115.4 L93.2,1115.4 L94.4,1115.5 L95.5,1115.6 L96.7,1115.7 L97.8,1115.7 L99.0,1115.7 L100.2,1115.5 L101.3,1115.3 L102.5,1114.9 L103.6,1114.5 L104.8,1114.0 L106.0,1113.7 L107.1,1113.5 L108.3,1113.5 L109.4,1113.7 L110.6,1113.8 L111.8,1113.8 L112.9,1113.7 L114.1,1113.4 L115.2,1113.1 L116.4,1112.9 L117.6,1112.8 L118.7,1112.8 L119.9,1112.8 L121.0,1112.7 L122.2,1112.4 L123.4,1112.0 L124.5,1111.5 L125.7,1111.2 L126.8,1111.2 L128.0,1111.3 L129.2,1111.4 L130.3,1111.6 L131.5,1111.6 L132.7,1111.4 L133.8,1110.9 L135.0,1110.2 L136.1,1109.3 L137.3,1108.7 L138.5,1108.2 L139.6,1107.9 L140.8,1107.5 L141.9,1107.1 L143.1,1106.7 L144.3,1106.3 L145.4,1105.8 L146.6,1105.3 L147.7,1104.7 L148.9,1104.3 L150.1,1103.7 L151.2,1103.0 L152.4,1102.0 L153.5,1100.8 L154.7,1099.8 L155.9,1098.9 L157.0,1098.0 L158.2,1096.9 L159.3,1095.8 L160.5,1094.5 L161.7,1093.1 L162.8,1091.6 L164.0,1089.7 L165.1,1087.7 L166.3,1085.9 L167.5,1084.4 L168.6,1082.7 L169.8,1080.6 L170.9,1078.0 L172.1,1075.2 L173.3,1072.3 L174.4,1069.4 L175.6,1066.5 L176.7,1063.5 L177.9,1060.2 L179.1,1056.9 L180.2,1053.5 L181.4,1050.0 L182.5,1046.3 L183.7,1042.4 L184.9,1038.1 L186.0,1033.6 L187.2,1028.8 L188.4,1024.0 L189.5,1019.1 L190.7,1014.2 L191.8,1009.3 L193.0,1004.1 L194.2,998.7 L195.3,993.4 L196.5,988.2 L197.6,983.1 L198.8,978.0 L200.0,972.8 L201.1,967.5 L202.3,962.1 L203.4,956.7 L204.6,951.3 L205.8,945.9 L206.9,940.5 L208.1,935.2 L209.2,929.9 L210.4,924.6 L211.6,919.3 L212.7,914.0 L213.9,908.6 L215.0,903.0 L216.2,897.3 L217.4,891.3 L218.5,885.0 L219.7,878.2 L220.8,870.8 L222.0,862.5 L223.2,853.5 L224.3,843.8 L225.5,833.2 L226.6,821.9 L227.8,809.8 L229.0,797.3 L230.1,785.0 L231.3,773.8 L232.4,764.6 L233.6,758.4 L234.8,756.2 L235.9,759.0 L237.1,767.2 L238.2,780.3 L239.4,797.0 L240.6,815.8 L241.7,835.6 L242.9,855.6 L244.0,875.1 L245.2,893.7 L246.4,911.1 L247.5,927.3 L248.7,942.1 L249.9,955.5 L251.0,967.5 L252.2,978.6 L253.3,988.8 L254.5,998.2 L255.7,1006.6 L256.8,1014.0 L258.0,1020.8 L259.1,1027.2 L260.3,1033.0 L261.5,1038.1 L262.6,1042.6 L263.8,1046.7 L264.9,1050.8 L266.1,1054.9 L267.3,1058.8 L268.4,1062.3 L269.6,1065.6 L270.7,1068.6 L271.9,1071.2 L273.1,1073.4 L274.2,1075.0 L275.4,1076.4 L276.5,1078.0 L277.7,1080.0 L278.9,1082.1 L280.0,1083.9 L281.2,1085.2 L282.3,1086.1 L283.5,1086.8 L284.7,1087.3 L285.8,1087.8 L287.0,1088.5 L288.1,1089.2 L289.3,1090.1 L290.5,1091.0 L291.6,1091.6 L292.8,1091.8 L293.9,1091.9 L295.1,1092.0 L296.3,1092.2 L297.4,1092.3 L298.6,1092.2 L299.7,1091.9 L300.9,1091.4 L302.1,1091.1 L303.2,1091.0 L304.4,1090.9 L305.6,1090.8 L306.7,1090.5 L307.9,1090.0 L309.0,1089.3 L310.2,1088.5 L311.4,1087.8 L312.5,1087.2 L313.7,1086.7 L314.8,1086.1 L316.0,1085.2 L317.2,1084.2 L318.3,1083.3 L319.5,1082.7 L320.6,1082.1 L321.8,1081.1 L323.0,1079.9 L324.1,1078.5 L325.3,1077.1 L326.4,1075.8 L327.6,1074.6 L328.8,1073.5 L329.9,1072.4 L331.1,1071.2 L332.2,1069.9 L333.4,1068.4 L334.6,1066.9 L335.7,1065.5 L336.9,1064.1 L338.0,1062.6 L339.2,1061.1 L340.4,1059.7 L341.5,1058.3 L342.7,1057.0 L343.8,1055.5 L345.0,1053.9 L346.2,1052.6 L347.3,1051.8 L348.5,1051.2 L349.6,1050.8 L350.8,1050.3 L352.0,1049.8 L353.1,1049.2 L354.3,1048.7 L355.4,1048.7 L356.6,1049.1 L357.8,1049.8 L358.9,1050.6 L360.1,1051.1 L361.3,1051.5 L362.4,1052.0 L363.6,1052.9 L364.7,1054.2 L365.9,1055.8 L367.1,1057.6 L368.2,1059.3 L369.4,1061.0 L370.5,1062.5 L371.7,1063.9 L372.9,1065.4 L374.0,1066.9 L375.2,1068.7 L376.3,1070.5 L377.5,1072.1 L378.7,1073.5 L379.8,1074.8 L381.0,1076.2 L382.1,1077.5 L383.3,1078.9 L384.5,1080.2 L385.6,1081.2 L386.8,1082.1 L387.9,1083.1 L389.1,1084.1 L390.3,1085.1 L391.4,1086.1 L392.6,1086.9 L393.7,1087.7 L394.9,1088.5 L396.1,1089.4 L397.2,1090.2 L398.4,1090.9 L399.5,1091.4 L400.7,1091.9 L401.9,1092.4 L403.0,1093.0 L404.2,1093.5 L405.3,1094.0 L406.5,1094.4 L407.7,1094.9 L408.8,1095.4 L410.0,1096.0 L411.1,1096.6 L412.3,1096.9 L413.5,1096.9 L414.6,1096.7 L415.8,1096.6 L417.0,1096.7 L418.1,1096.8 L419.3,1096.7 L420.4,1096.4 L421.6,1096.1 L422.8,1095.8 L423.9,1095.6 L425.1,1095.3 L426.2,1095.0 L427.4,1094.7 L428.6,1094.3 L429.7,1094.1 L430.9,1093.8 L432.0,1093.3 L433.2,1092.6 L434.4,1091.9 L435.5,1091.1 L436.7,1090.3 L437.8,1089.7 L439.0,1089.1 L440.2,1088.7 L441.3,1088.5 L442.5,1088.4 L443.6,1088.3 L444.8,1088.2 L446.0,1088.0 L447.1,1087.9 L448.3,1087.9 L449.4,1088.1 L450.6,1088.5 L451.8,1089.2 L452.9,1089.9 L454.1,1090.6 L455.2,1091.3 L456.4,1092.0 L457.6,1092.8 L458.7,1093.4 L459.9,1094.0 L461.0,1094.5 L462.2,1094.9 L463.4,1095.4 L464.5,1096.0 L465.7,1096.6 L466.8,1097.2 L468.0,1097.7 L469.2,1098.0 L470.3,1098.2 L471.5,1098.6 L472.6,1098.9 L473.8,1099.1 L475.0,1099.2 L476.1,1099.4 L477.3,1099.7 L478.5,1100.3 L479.6,1100.7 L480.8,1100.9 L481.9,1100.9 L483.1,1100.8 L484.3,1100.8 L485.4,1100.8 L486.6,1100.9 L487.7,1101.0 L488.9,1101.2 L490.1,1101.3 L491.2,1101.3 L492.4,1101.2 L493.5,1101.1 L494.7,1101.2 L495.9,1101.3 L497.0,1101.4 L498.2,1101.5 L499.3,1101.6 L500.5,1101.6 L501.7,1101.4 L502.8,1101.3 L504.0,1101.3 L505.1,1101.3 L506.3,1101.4 L507.5,1101.4 L508.6,1101.3 L509.8,1101.3 L510.9,1101.5 L512.1,1101.7 L513.3,1102.0 L514.4,1102.1 L515.6,1102.2 L516.7,1102.2 L517.9,1102.0 L519.1,1101.6 L520.2,1101.4 L521.4,1101.2 L522.5,1101.0 L523.7,1100.8 L524.9,1100.7 L526.0,1100.9 L527.2,1101.4 L528.3,1102.0 L529.5,1102.5 L530.7,1102.7 L531.8,1102.9 L533.0,1103.1 L534.2,1103.4 L535.3,1103.6 L536.5,1103.8 L537.6,1103.9 L538.8,1103.8 L540.0,1103.7 L541.1,1103.8 L542.3,1104.3 L543.4,1104.9 L544.6,1105.4 L545.8,1105.9 L546.9,1106.2 L548.1,1106.4 L549.2,1106.6 L550.4,1106.8 L551.6,1106.8 L552.7,1106.9 L553.9,1107.1 L555.0,1107.1 L556.2,1107.1 L557.4,1107.2 L558.5,1107.5 L559.7,1107.9 L560.8,1108.5 L562.0,1109.1 L563.2,1109.7 L564.3,1110.2 L565.5,1110.6 L566.6,1110.8 L567.8,1110.8 L569.0,1110.8 L570.1,1110.9 L571.3,1111.2 L572.4,1111.6 L573.6,1111.9 L574.8,1112.2 L575.9,1112.4 L577.1,1112.5 L578.2,1112.7 L579.4,1112.8 L580.6,1113.0 L581.7,1113.1 L582.9,1113.3 L584.0,1113.6 L585.2,1113.9 L586.4,1114.1 L587.5,1114.2 L588.7,1114.3 L589.9,1114.5 L591.0,1114.7 L592.2,1115.0 L593.3,1115.3 L594.5,1115.6 L595.7,1116.0 L596.8,1116.4 L598.0,1116.7 L599.1,1116.9 L600.3,1116.9 L601.5,1116.9 L602.6,1117.2 L603.8,1117.5 L604.9,1117.9 L606.1,1118.0 L607.3,1118.0 L608.4,1118.0 L609.6,1118.1 L610.7,1118.3 L611.9,1118.5 L613.1,1118.6 L614.2,1118.6 L615.4,1118.6 L616.5,1118.6 L617.7,1118.4 L618.9,1118.5 L620.0,1118.6 L621.2,1118.7 L622.3,1118.8 L623.5,1118.7 L624.7,1118.5 L625.8,1118.2 L627.0,1118.1 L628.1,1118.0 L629.3,1118.1 L630.5,1118.2 L631.6,1118.2 L632.8,1118.2 L633.9,1118.2 L635.1,1118.2 L636.3,1118.3 L637.4,1118.6 L638.6,1118.7 L639.7,1118.7 L640.9,1118.6 L642.1,1118.4 L643.2,1118.3 L644.4,1118.3 L645.5,1118.3"/>
<path d="M43.3,1117.6 L44.5,1117.6 L45.6,1117.7 L46.8,1117.6 L47.9,1117.4 L49.1,1117.0 L50.3,1116.7 L51.4,1116.6 L52.6,1116.7 L53.7,1117.0 L54.9,1117.3 L56.1,1117.4 L57.2,1117.5 L58.4,1117.5 L59.5,1117.4 L60.7,1117.3 L61.9,1117.3 L63.0,1117.2 L64.2,1117.0 L65.3,1116.8 L66.5,1116.6 L67.7,1116.5 L68.8,1116.6 L70.0,1116.9 L71.1,1117.1 L72.3,1117.3 L73.5,1117.2 L74.6,1116.9 L75.8,1116.5 L77.0,1116.2 L78.1,1116.1 L79.3,1116.2 L80.4,1116.3 L81.6,1116.2 L82.8,1116.1 L83.9,1116.0 L85.1,1116.0 L86.2,1116.2 L87.4,1116.4 L88.6,1116.5 L89.7,1116.3 L90.9,1115.9 L92.0,1115.5 L93.2,1115.2 L94.4,1115.3 L95.5,1115.5 L96.7,1115.6 L97.8,1115.7 L99.0,1115.6 L100.2,1115.5 L101.3,1115.4 L102.5,1115.3 L103.6,1115.2 L104.8,1115.3 L106.0,1115.3 L107.1,1115.3 L108.3,1115.1 L109.4,1114.7 L110.6,1114.2 L111.8,1113.7 L112.9,1113.4 L114.1,1113.5 L115.2,1113.6 L116.4,1113.8 L117.6,1113.9 L118.7,1113.9 L119.9,1113.8 L121.0,1113.9 L122.2,1114.0 L123.4,1114.0 L124.5,1113.8 L125.7,1113.4 L126.8,1113.0 L128.0,1112.7 L129.2,1112.4 L130.3,1112.0 L131.5,1111.7 L132.7,1111.3 L133.8,1111.0 L135.0,1110.8 L136.1,1110.5 L137.3,1110.3 L138.5,1110.2 L139.6,1110.2 L140.8,1110.1 L141.9,1109.8 L143.1,1109.3 L144.3,1108.8 L145.4,1108.3 L146.6,1107.8 L147.7,1107.2 L148.9,1106.4 L150.1,1105.7 L151.2,1105.1 L152.4,1104.8 L153.5,1104.4 L154.7,1103.9 L155.9,1103.1 L157.0,1102.1 L158.2,1101.2 L159.3,1100.2 L160.5,1099.1 L161.7,1097.9 L162.8,1096.6 L164.0,1095.2 L165.1,1093.8 L166.3,1092.3 L167.5,1090.6 L168.6,1088.9 L169.8,1087.3 L170.9,1085.8 L172.1,1084.3 L173.3,1082.5 L174.4,1080.4 L175.6,1078.0 L176.7,1075.5 L177.9,1073.0 L179.1,1070.3 L180.2,1067.3 L181.4,1064.1 L182.5,1060.7 L183.7,1057.4 L184.9,1054.2 L186.0,1050.8 L187.2,1047.1 L188.4,1043.4 L189.5,1039.8 L190.7,1036.2 L191.8,1032.7 L193.0,1029.0 L194.2,1025.0 L195.3,1020.7 L196.5,1016.1 L197.6,1011.6 L198.8,1007.3 L200.0,1003.3 L201.1,999.4 L202.3,995.3 L203.4,990.8 L204.6,986.2 L205.8,981.5 L206.9,977.0 L208.1,972.4 L209.2,967.9 L210.4,963.5 L211.6,959.1 L212.7,954.7 L213.9,950.1 L215.0,945.4 L216.2,940.5 L217.4,935.5 L218.5,930.5 L219.7,925.1 L220.8,919.2 L222.0,912.9 L223.2,906.1 L224.3,898.6 L225.5,890.5 L226.6,881.5 L227.8,871.9 L229.0,861.9 L230.1,852.1 L231.3,843.0 L232.4,835.1 L233.6,829.3 L234.8,826.5 L235.9,827.4 L237.1,832.3 L238.2,840.8 L239.4,852.3 L240.6,866.0 L241.7,881.1 L242.9,896.9 L244.0,912.5 L245.2,927.5 L246.4,941.6 L247.5,954.5 L248.7,966.3 L249.9,977.2 L251.0,987.2 L252.2,996.5 L253.3,1005.1 L254.5,1013.0 L255.7,1020.3 L256.8,1026.8 L258.0,1032.6 L259.1,1037.7 L260.3,1042.4 L261.5,1046.7 L262.6,1050.8 L263.8,1054.7 L264.9,1058.4 L266.1,1061.8 L267.3,1064.9 L268.4,1067.8 L269.6,1070.3 L270.7,1072.6 L271.9,1074.8 L273.1,1076.8 L274.2,1078.4 L275.4,1079.7 L276.5,1080.8 L277.7,1081.9 L278.9,1083.0 L280.0,1084.0 L281.2,1084.8 L282.3,1085.5 L283.5,1086.1 L284.7,1086.7 L285.8,1087.1 L287.0,1087.5 L288.1,1087.9 L289.3,1088.4 L290.5,1088.8 L291.6,1089.1 L292.8,1089.2 L293.9,1089.3 L295.1,1089.3 L296.3,1089.3 L297.4,1089.3 L298.6,1089.1 L299.7,1088.6 L300.9,1088.0 L302.1,1087.4 L303.2,1086.8 L304.4,1086.2 L305.6,1085.7 L306.7,1085.2 L307.9,1084.5 L309.0,1083.8 L310.2,1083.1 L311.4,1082.4 L312.5,1081.7 L313.7,1080.8 L314.8,1079.5 L316.0,1077.9 L317.2,1076.2 L318.3,1074.8 L319.5,1073.5 L320.6,1072.2 L321.8,1070.7 L323.0,1069.0 L324.1,1067.3 L325.3,1065.8 L326.4,1064.3 L327.6,1062.7 L328.8,1060.8 L329.9,1058.6 L331.1,1056.4 L332.2,1054.3 L333.4,1052.3 L334.6,1050.2 L335.7,1048.1 L336.9,1046.0 L338.0,1043.9 L339.2,1042.0 L340.4,1040.2 L341.5,1038.5 L342.7,1036.6 L343.8,1034.7 L345.0,1033.0 L346.2,1031.5 L347.3,1030.3 L348.5,1029.2 L349.6,1028.2 L350.8,1027.2 L352.0,1026.5 L353.1,1026.1 L354.3,1025.8 L355.4,1025.7 L356.6,1025.8 L357.8,1026.3 L358.9,1027.0 L360.1,1028.0 L361.3,1029.3 L362.4,1030.9 L363.6,1032.8 L364.7,1034.9 L365.9,1037.1 L367.1,1039.0 L368.2,1040.5 L369.4,1042.0 L370.5,1043.5 L371.7,1045.4 L372.9,1047.5 L374.0,1049.6 L375.2,1051.7 L376.3,1053.9 L377.5,1056.3 L378.7,1058.6 L379.8,1060.7 L381.0,1062.6 L382.1,1064.4 L383.3,1066.1 L384.5,1067.7 L385.6,1069.4 L386.8,1071.2 L387.9,1073.1 L389.1,1074.9 L390.3,1076.6 L391.4,1078.2 L392.6,1079.5 L393.7,1080.6 L394.9,1081.5 L396.1,1082.4 L397.2,1083.5 L398.4,1084.8 L399.5,1086.1 L400.7,1087.1 L401.9,1087.7 L403.0,1088.1 L404.2,1088.4 L405.3,1088.8 L406.5,1089.3 L407.7,1090.0 L408.8,1090.7 L410.0,1091.3 L411.1,1091.8 L412.3,1092.3 L413.5,1092.8 L414.6,1093.1 L415.8,1093.5 L417.0,1093.7 L418.1,1094.0 L419.3,1094.2 L420.4,1094.4 L421.6,1094.4 L422.8,1094.4 L423.9,1094.2 L425.1,1094.1 L426.2,1093.9 L427.4,1093.6 L428.6,1093.1 L429.7,1092.5 L430.9,1092.0 L432.0,1091.6 L433.2,1091.2 L434.4,1090.9 L435.5,1090.5 L436.7,1090.1 L437.8,1089.7 L439.0,1089.4 L440.2,1089.0 L441.3,1088.4 L442.5,1087.8 L443.6,1087.3 L444.8,1086.9 L446.0,1086.7 L447.1,1086.5 L448.3,1086.4 L449.4,1086.6 L450.6,1087.1 L451.8,1087.9 L452.9,1088.9 L454.1,1089.7 L455.2,1090.3 L456.4,1090.8 L457.6,1091.4 L458.7,1091.9 L459.9,1092.3 L461.0,1092.8 L462.2,1093.2 L463.4,1093.7 L464.5,1094.3 L465.7,1094.9 L466.8,1095.5 L468.0,1096.1 L469.2,1096.6 L470.3,1096.8 L471.5,1096.9 L472.6,1097.1 L473.8,1097.6 L475.0,1098.2 L476.1,1098.7 L477.3,1098.9 L478.5,1098.9 L479.6,1098.7 L480.8,1098.5 L481.9,1098.5 L483.1,1098.7 L484.3,1098.8 L485.4,1098.8 L486.6,1098.6 L487.7,1098.2 L488.9,1097.9 L490.1,1097.9 L491.2,1098.1 L492.4,1098.1 L493.5,1098.0 L494.7,1097.9 L495.9,1097.9 L497.0,1098.0 L498.2,1098.0 L499.3,1097.8 L500.5,1097.6 L501.7,1097.4 L502.8,1097.2 L504.0,1097.1 L505.1,1097.1 L506.3,1097.1 L507.5,1097.1 L508.6,1097.1 L509.8,1096.9 L510.9,1096.7 L512.1,1096.7 L513.3,1096.6 L514.4,1096.5 L515.6,1096.4 L516.7,1096.2 L517.9,1095.9 L519.1,1095.7 L520.2,1095.6 L521.4,1095.8 L522.5,1096.2 L523.7,1096.7 L524.9,1097.3 L526.0,1097.6 L527.2,1097.8 L528.3,1097.8 L529.5,1097.9 L530.7,1098.1 L531.8,1098.7 L533.0,1099.2 L534.2,1099.6 L535.3,1099.7 L536.5,1099.6 L537.6,1099.6 L538.8,1099.7 L540.0,1099.9 L541.1,1100.2 L542.3,1100.3 L543.4,1100.4 L544.6,1100.4 L545.8,1100.4 L546.9,1100.6 L548.1,1101.0 L549.2,1101.5 L550.4,1102.0 L551.6,1102.4 L552.7,1102.6 L553.9,1102.9 L555.0,1103.1 L556.2,1103.5 L557.4,1103.9 L558.5,1104.5 L559.7,1105.0 L560.8,1105.5 L562.0,1106.0 L563.2,1106.5 L564.3,1106.8 L565.5,1107.0 L566.6,1107.0 L567.8,1107.1 L569.0,1107.4 L570.1,1107.9 L571.3,1108.3 L572.4,1108.9 L573.6,1109.6 L574.8,1110.3 L575.9,1111.0 L577.1,1111.6 L578.2,1111.9 L579.4,1112.0 L580.6,1112.0 L581.7,1112.2 L582.9,1112.4 L584.0,1112.7 L585.2,1112.8 L586.4,1112.8 L587.5,1112.8 L588.7,1112.9 L589.9,1113.1 L591.0,1113.7 L592.2,1114.4 L593.3,1115.1 L594.5,1115.5 L595.7,1115.7 L596.8,1115.7 L598.0,1115.9 L599.1,1116.0 L600.3,1116.0 L601.5,1116.2 L602.6,1116.5 L603.8,1116.7 L604.9,1116.8 L606.1,1116.7 L607.3,1116.5 L608.4,1116.6 L609.6,1116.9 L610.7,1117.2 L611.9,1117.2 L613.1,1117.0 L614.2,1116.7 L615.4,1116.5 L616.5,1116.6 L617.7,1116.9 L618.9,1117.0 L620.0,1117.0 L621.2,1117.1 L622.3,1117.2 L623.5,1117.5 L624.7,1117.9 L625.8,1118.2 L627.0,1118.4 L628.1,1118.5 L629.3,1118.6 L630.5,1118.7 L631.6,1118.9 L632.8,1119.1 L633.9,1119.2 L635.1,1119.3 L636.3,1119.3 L637.4,1119.1 L638.6,1118.7 L639.7,1118.4 L640.9,1118.3 L642.1,1118.4 L643.2,1118.5 L644.4,1118.7 L645.5,1118.6"/>
<path d="M43.3,1116.2 L44.5,1116.0 L45.6,1116.1 L46.8,1116.3 L47.9,1116.8 L49.1,1117.1 L50.3,1117.0 L51.4,1116.9 L52.6,1116.7 L53.7,1116.7 L54.9,1116.7 L56.1,1116.8 L57.2,1116.8 L58.4,1116.6 L59.5,1116.3 L60.7,1116.1 L61.9,1115.9 L63.0,1115.8 L64.2,1115.9 L65.3,1115.9 L66.5,1115.9 L67.7,1115.8 L68.8,1115.7 L70.0,1115.8 L71.1,1116.2 L72.3,1116.6 L73.5,1116.8 L74.6,1116.8 L75.8,1116.5 L77.0,1116.3 L78.1,1116.2 L79.3,1116.1 L80.4,1116.2 L81.6,1116.3 L82.8,1116.3 L83.9,1116.3 L85.1,1116.0 L86.2,1115.7 L87.4,1115.2 L88.6,1114.9 L89.7,1114.7 L90.9,1114.8 L92.0,1115.0 L93.2,1115.3 L94.4,1115.6 L95.5,1115.8 L96.7,1115.7 L97.8,1115.3 L99.0,1114.8 L100.2,1114.4 L101.3,1114.1 L102.5,1114.0 L103.6,1113.9 L104.8,1113.8 L106.0,1113.7 L107.1,1113.5 L108.3,1113.4 L109.4,1113.2 L110.6,1113.2 L111.8,1113.3 L112.9,1113.7 L114.1,1114.1 L115.2,1114.3 L116.4,1114.1 L117.6,1113.6 L118.7,1113.1 L119.9,1112.9 L121.0,1112.9 L122.2,1112.9 L123.4,1112.9 L124.5,1112.8 L125.7,1112.5 L126.8,1112.2 L128.0,1111.9 L129.2,1111.6 L130.3,1111.2 L131.5,1110.8 L132.7,1110.3 L133.8,1109.9 L135.0,1109.6 L136.1,1109.4 L137.3,1109.2 L138.5,1109.1 L139.6,1109.0 L140.8,1108.8 L141.9,1108.4 L143.1,1108.1 L144.3,1107.9 L145.4,1107.8 L146.6,1107.5 L147.7,1107.3 L148.9,1106.8 L150.1,1106.1 L151.2,1105.2 L152.4,1104.2 L153.5,1103.1 L154.7,1102.1 L155.9,1101.2 L157.0,1100.3 L158.2,1099.5 L159.3,1098.6 L160.5,1097.6 L161.7,1096.4 L162.8,1095.1 L164.0,1093.8 L165.1,1092.8 L166.3,1091.6 L167.5,1090.0 L168.6,1088.0 L169.8,1086.0 L170.9,1084.1 L172.1,1082.3 L173.3,1080.5 L174.4,1078.5 L175.6,1076.7 L176.7,1074.8 L177.9,1072.6 L179.1,1070.1 L180.2,1067.2 L181.4,1064.1 L182.5,1061.0 L183.7,1057.9 L184.9,1054.9 L186.0,1051.8 L187.2,1048.6 L188.4,1045.2 L189.5,1041.6 L190.7,1037.7 L191.8,1033.4 L193.0,1029.0 L194.2,1024.8 L195.3,1020.9 L196.5,1017.1 L197.6,1013.2 L198.8,1009.1 L200.0,1004.7 L201.1,1000.4 L202.3,996.1 L203.4,991.9 L204.6,987.6 L205.8,983.2 L206.9,978.7 L208.1,974.1 L209.2,969.4 L210.4,964.9 L211.6,960.5 L212.7,956.1 L213.9,951.4 L215.0,946.5 L216.2,941.5 L217.4,936.7 L218.5,931.6 L219.7,926.3 L220.8,920.5 L222.0,914.2 L223.2,907.3 L224.3,899.7 L225.5,891.5 L226.6,882.7 L227.8,873.3 L229.0,863.5 L230.1,853.9 L231.3,844.8 L232.4,837.1 L233.6,831.7 L234.8,829.2 L235.9,830.2 L237.1,834.8 L238.2,842.8 L239.4,853.6 L240.6,866.7 L241.7,881.3 L242.9,896.6 L244.0,911.8 L245.2,926.4 L246.4,940.1 L247.5,953.1 L248.7,965.1 L249.9,975.9 L251.0,985.5 L252.2,994.1 L253.3,1002.1 L254.5,1009.8 L255.7,1017.2 L256.8,1024.3 L258.0,1030.6 L259.1,1036.1 L260.3,1040.9 L261.5,1045.4 L262.6,1049.5 L263.8,1053.3 L264.9,1056.7 L266.1,1059.8 L267.3,1062.7 L268.4,1065.3 L269.6,1067.7 L270.7,1069.9 L271.9,1072.0 L273.1,1073.9 L274.2,1075.8 L275.4,1077.4 L276.5,1078.9 L277.7,1080.3 L278.9,1081.6 L280.0,1082.9 L281.2,1084.2 L282.3,1085.2 L283.5,1085.9 L284.7,1086.3 L285.8,1086.6 L287.0,1087.0 L288.1,1087.5 L289.3,1088.0 L290.5,1088.3 L291.6,1088.2 L292.8,1087.9 L293.9,1087.6 L295.1,1087.2 L296.3,1086.9 L297.4,1086.7 L298.6,1086.7 L299.7,1086.8 L300.9,1086.8 L302.1,1086.5 L303.2,1085.8 L304.4,1085.1 L305.6,1084.4 L306.7,1083.7 L307.9,1083.0 L309.0,1082.3 L310.2,1081.3 L311.4,1080.3 L312.5,1079.2 L313.7,1078.0 L314.8,1076.9 L316.0,1076.0 L317.2,1075.0 L318.3,1073.9 L319.5,1072.7 L320.6,1071.2 L321.8,1069.7 L323.0,1068.2 L324.1,1066.6 L325.3,1064.9 L326.4,1063.0 L327.6,1061.1 L328.8,1058.9 L329.9,1056.7 L331.1,1054.5 L332.2,1052.5 L333.4,1050.6 L334.6,1048.7 L335.7,1046.7 L336.9,1044.4 L338.0,1042.1 L339.2,1040.1 L340.4,1038.3 L341.5,1036.9 L342.7,1035.4 L343.8,1033.8 L345.0,1032.4 L346.2,1031.0 L347.3,1029.6 L348.5,1028.0 L349.6,1026.6 L350.8,1025.4 L352.0,1024.8 L353.1,1024.8 L354.3,1025.1 L355.4,1025.3 L356.6,1025.4 L357.8,1025.6 L358.9,1026.1 L360.1,1027.2 L361.3,1028.6 L362.4,1029.9 L363.6,1031.3 L364.7,1032.7 L365.9,1034.4 L367.1,1036.4 L368.2,1038.5 L369.4,1040.5 L370.5,1042.3 L371.7,1044.3 L372.9,1046.5 L374.0,1049.0 L375.2,1051.5 L376.3,1053.9 L377.5,1055.9 L378.7,1057.9 L379.8,1060.0 L381.0,1062.1 L382.1,1064.0 L383.3,1065.7 L384.5,1067.4 L385.6,1068.9 L386.8,1070.5 L387.9,1071.9 L389.1,1073.4 L390.3,1074.9 L391.4,1076.5 L392.6,1077.9 L393.7,1079.3 L394.9,1080.6 L396.1,1081.9 L397.2,1083.1 L398.4,1084.2 L399.5,1085.1 L400.7,1085.9 L401.9,1086.7 L403.0,1087.5 L404.2,1088.3 L405.3,1089.0 L406.5,1089.7 L407.7,1090.3 L408.8,1090.7 L410.0,1090.9 L411.1,1090.9 L412.3,1091.1 L413.5,1091.7 L414.6,1092.6 L415.8,1093.4 L417.0,1094.0 L418.1,1094.1 L419.3,1093.9 L420.4,1093.6 L421.6,1093.2 L422.8,1092.9 L423.9,1092.9 L425.1,1093.2 L426.2,1093.4 L427.4,1093.4 L428.6,1093.1 L429.7,1092.4 L430.9,1091.7 L432.0,1090.9 L433.2,1090.2 L434.4,1089.6 L435.5,1089.3 L436.7,1089.0 L437.8,1088.7 L439.0,1088.3 L440.2,1087.9 L441.3,1087.4 L442.5,1086.9 L443.6,1086.5 L444.8,1086.3 L446.0,1086.2 L447.1,1086.2 L448.3,1086.3 L449.4,1086.7 L450.6,1087.3 L451.8,1088.1 L452.9,1088.9 L454.1,1089.6 L455.2,1090.3 L456.4,1091.0 L457.6,1091.5 L458.7,1092.0 L459.9,1092.6 L461.0,1093.1 L462.2,1093.7 L463.4,1094.3 L464.5,1094.7 L465.7,1094.9 L466.8,1095.1 L468.0,1095.4 L469.2,1095.8 L470.3,1096.2 L471.5,1096.6 L472.6,1096.8 L473.8,1097.0 L475.0,1097.4 L476.1,1097.8 L477.3,1098.1 L478.5,1098.2 L479.6,1098.2 L480.8,1098.1 L481.9,1098.1 L483.1,1098.1 L484.3,1098.1 L485.4,1098.1 L486.6,1098.1 L487.7,1097.9 L488.9,1097.7 L490.1,1097.5 L491.2,1097.4 L492.4,1097.5 L493.5,1097.7 L494.7,1097.8 L495.9,1097.7 L497.0,1097.7 L498.2,1097.6 L499.3,1097.6 L500.5,1097.6 L501.7,1097.4 L502.8,1097.2 L504.0,1097.0 L505.1,1096.9 L506.3,1096.9 L507.5,1096.8 L508.6,1096.7 L509.8,1096.5 L510.9,1096.3 L512.1,1096.3 L513.3,1096.4 L514.4,1096.4 L515.6,1096.3 L516.7,1096.1 L517.9,1096.0 L519.1,1096.0 L520.2,1095.9 L521.4,1095.8 L522.5,1095.8 L523.7,1095.9 L524.9,1096.0 L526.0,1096.3 L527.2,1096.7 L528.3,1097.0 L529.5,1097.2 L530.7,1097.2 L531.8,1097.0 L533.0,1097.1 L534.2,1097.4 L535.3,1097.8 L536.5,1098.3 L537.6,1098.7 L538.8,1098.9 L540.0,1099.0 L541.1,1099.2 L542.3,1099.3 L543.4,1099.4 L544.6,1099.6 L545.8,1099.9 L546.9,1100.2 L548.1,1100.6 L549.2,1100.9 L550.4,1101.3 L551.6,1101.6 L552.7,1101.9 L553.9,1102.2 L555.0,1102.5 L556.2,1102.9 L557.4,1103.5 L558.5,1104.2 L559.7,1104.7 L560.8,1105.1 L562.0,1105.5 L563.2,1105.8 L564.3,1106.3 L565.5,1107.1 L566.6,1107.9 L567.8,1108.6 L569.0,1108.9 L570.1,1109.1 L571.3,1109.1 L572.4,1109.2 L573.6,1109.4 L574.8,1109.7 L575.9,1110.1 L577.1,1110.6 L578.2,1111.0 L579.4,1111.2 L580.6,1111.3 L581.7,1111.3 L582.9,1111.4 L584.0,1111.7 L585.2,1112.1 L586.4,1112.4 L587.5,1112.6 L588.7,1112.7 L589.9,1113.0 L591.0,1113.4 L592.2,1113.9 L593.3,1114.3 L594.5,1114.6 L595.7,1114.8 L596.8,1115.0 L598.0,1115.4 L599.1,1115.6 L600.3,1115.7 L601.5,1115.7 L602.6,1115.6 L603.8,1115.7 L604.9,1115.8 L606.1,1116.0 L607.3,1116.1 L608.4,1116.3 L609.6,1116.4 L610.7,1116.5 L611.9,1116.6 L613.1,1116.8 L614.2,1117.0 L615.4,1117.2 L616.5,1117.2 L617.7,1117.2 L618.9,1117.3 L620.0,1117.5 L621.2,1117.8 L622.3,1117.8 L623.5,1117.7 L624.7,1117.5 L625.8,1117.5 L627.0,1117.8 L628.1,1118.3 L629.3,1118.7 L630.5,1118.9 L631.6,1118.7 L632.8,1118.6 L633.9,1118.5 L635.1,1118.7 L636.3,1118.9 L637.4,1119.0 L638.6,1119.0 L639.7,1118.9 L640.9,1118.8 L642.1,1118.7 L643.2,1118.6 L644.4,1118.4 L645.5,1118.2"/>
<path d="M43.3,1116.5 L44.5,1116.3 L45.6,1116.4 L46.8,1116.7 L47.9,1116.9 L49.1,1117.0 L50.3,1116.9 L51.4,1116.9 L52.6,1116.9 L53.7,1117.0 L54.9,1117.1 L56.1,1117.2 L57.2,1117.1 L58.4,1117.0 L59.5,1116.7 L60.7,1116.2 L61.9,1115.8 L63.0,1115.6 L64.2,1115.7 L65.3,1116.0 L66.5,1116.2 L67.7,1116.2 L68.8,1116.0 L70.0,1115.9 L71.1,1115.9 L72.3,1115.9 L73.5,1115.9 L74.6,1115.7 L75.8,1115.3 L77.0,1115.0 L78.1,1114.8 L79.3,1114.7 L80.4,1114.9 L81.6,1115.3 L82.8,1115.7 L83.9,1115.9 L85.1,1116.0 L86.2,1115.8 L87.4,1115.5 L88.6,1115.2 L89.7,1115.0 L90.9,1114.8 L92.0,1114.7 L93.2,1114.8 L94.4,1115.0 L95.5,1115.0 L96.7,1114.9 L97.8,1114.7 L99.0,1114.4 L100.2,1114.3 L101.3,1114.2 L102.5,1114.3 L103.6,1114.3 L104.8,1114.6 L106.0,1114.9 L107.1,1115.1 L108.3,1115.1 L109.4,1115.1 L110.6,1114.9 L111.8,1114.6 L112.9,1114.2 L114.1,1113.6 L115.2,1113.1 L116.4,1112.8 L117.6,1112.7 L118.7,1112.6 L119.9,1112.5 L121.0,1112.3 L122.2,1112.1 L123.4,1111.9 L124.5,1111.7 L125.7,1111.6 L126.8,1111.3 L128.0,1111.1 L129.2,1110.7 L130.3,1110.4 L131.5,1110.2 L132.7,1110.1 L133.8,1109.8 L135.0,1109.4 L136.1,1109.0 L137.3,1108.7 L138.5,1108.7 L139.6,1108.7 L140.8,1108.7 L141.9,1108.4 L143.1,1108.0 L144.3,1107.5 L145.4,1107.1 L146.6,1106.8 L147.7,1106.5 L148.9,1106.1 L150.1,1105.7 L151.2,1105.1 L152.4,1104.5 L153.5,1103.7 L154.7,1102.9 L155.9,1102.1 L157.0,1101.2 L158.2,1100.2 L159.3,1099.2 L160.5,1098.3 L161.7,1097.3 L162.8,1096.2 L164.0,1094.9 L165.1,1093.5 L166.3,1092.1 L167.5,1090.9 L168.6,1089.8 L169.8,1088.4 L170.9,1086.8 L172.1,1085.0 L173.3,1082.9 L174.4,1080.8 L175.6,1078.7 L176.7,1076.5 L177.9,1074.2 L179.1,1071.8 L180.2,1069.3 L181.4,1066.6 L182.5,1063.7 L183.7,1060.8 L184.9,1057.9 L186.0,1054.9 L187.2,1051.8 L188.4,1048.6 L189.5,1045.1 L190.7,1041.4 L191.8,1037.7 L193.0,1034.2 L194.2,1030.9 L195.3,1027.7 L196.5,1024.4 L197.6,1020.6 L198.8,1016.4 L200.0,1012.2 L201.1,1008.1 L202.3,1004.1 L203.4,1000.1 L204.6,995.7 L205.8,991.2 L206.9,986.6 L208.1,982.2 L209.2,978.1 L210.4,974.1 L211.6,970.0 L212.7,965.8 L213.9,961.5 L215.0,957.1 L216.2,952.7 L217.4,948.1 L218.5,943.1 L219.7,937.7 L220.8,932.0 L222.0,925.8 L223.2,919.1 L224.3,911.8 L225.5,903.9 L226.6,895.6 L227.8,887.2 L229.0,878.7 L230.1,870.3 L231.3,862.5 L232.4,855.7 L233.6,851.0 L234.8,848.8 L235.9,849.6 L237.1,853.7 L238.2,861.1 L239.4,871.2 L240.6,883.3 L241.7,896.3 L242.9,909.8 L244.0,923.4 L245.2,936.8 L246.4,949.7 L247.5,961.6 L248.7,972.5 L249.9,982.4 L251.0,991.4 L252.2,999.6 L253.3,1007.0 L254.5,1014.0 L255.7,1020.6 L256.8,1026.9 L258.0,1032.6 L259.1,1037.8 L260.3,1042.4 L261.5,1046.7 L262.6,1050.7 L263.8,1054.4 L264.9,1057.7 L266.1,1060.6 L267.3,1063.3 L268.4,1065.9 L269.6,1068.4 L270.7,1070.6 L271.9,1072.7 L273.1,1074.3 L274.2,1075.7 L275.4,1077.1 L276.5,1078.3 L277.7,1079.5 L278.9,1080.6 L280.0,1081.5 L281.2,1082.4 L282.3,1083.3 L283.5,1084.3 L284.7,1085.1 L285.8,1085.4 L287.0,1085.4 L288.1,1085.3 L289.3,1085.3 L290.5,1085.5 L291.6,1086.0 L292.8,1086.3 L293.9,1086.5 L295.1,1086.3 L296.3,1085.9 L297.4,1085.5 L298.6,1085.3 L299.7,1085.2 L300.9,1085.1 L302.1,1084.8 L303.2,1084.3 L304.4,1083.6 L305.6,1082.8 L306.7,1082.0 L307.9,1081.2 L309.0,1080.2 L310.2,1079.1 L311.4,1078.2 L312.5,1077.3 L313.7,1076.5 L314.8,1075.5 L316.0,1074.1 L317.2,1072.3 L318.3,1070.3 L319.5,1068.5 L320.6,1067.0 L321.8,1065.5 L323.0,1064.0 L324.1,1062.3 L325.3,1060.5 L326.4,1058.9 L327.6,1057.3 L328.8,1055.7 L329.9,1053.8 L331.1,1051.7 L332.2,1049.3 L333.4,1046.8 L334.6,1044.4 L335.7,1042.1 L336.9,1040.2 L338.0,1038.2 L339.2,1035.9 L340.4,1033.5 L341.5,1030.9 L342.7,1028.7 L343.8,1026.8 L345.0,1025.0 L346.2,1023.3 L347.3,1021.6 L348.5,1020.2 L349.6,1019.2 L350.8,1018.5 L352.0,1018.1 L353.1,1017.8 L354.3,1017.9 L355.4,1018.3 L356.6,1018.7 L357.8,1019.3 L358.9,1020.3 L360.1,1021.4 L361.3,1022.7 L362.4,1023.9 L363.6,1025.1 L364.7,1026.5 L365.9,1028.3 L367.1,1030.4 L368.2,1032.7 L369.4,1035.0 L370.5,1037.4 L371.7,1039.7 L372.9,1042.1 L374.0,1044.3 L375.2,1046.7 L376.3,1049.0 L377.5,1051.4 L378.7,1053.8 L379.8,1056.1 L381.0,1058.3 L382.1,1060.4 L383.3,1062.2 L384.5,1063.8 L385.6,1065.3 L386.8,1066.9 L387.9,1068.8 L389.1,1070.7 L390.3,1072.5 L391.4,1074.1 L392.6,1075.6 L393.7,1077.2 L394.9,1078.7 L396.1,1080.0 L397.2,1081.0 L398.4,1081.8 L399.5,1082.7 L400.7,1083.9 L401.9,1085.2 L403.0,1086.3 L404.2,1087.1 L405.3,1087.8 L406.5,1088.3 L407.7,1088.8 L408.8,1089.3 L410.0,1089.7 L411.1,1090.2 L412.3,1090.5 L413.5,1090.8 L414.6,1091.0 L415.8,1091.4 L417.0,1091.8 L418.1,1092.1 L419.3,1092.3 L420.4,1092.4 L421.6,1092.6 L422.8,1092.8 L423.9,1092.9 L425.1,1092.8 L426.2,1092.6 L427.4,1092.3 L428.6,1092.1 L429.7,1091.9 L430.9,1091.7 L432.0,1091.3 L433.2,1091.0 L434.4,1090.7 L435.5,1090.3 L436.7,1089.9 L437.8,1089.2 L439.0,1088.4 L440.2,1087.8 L441.3,1087.3 L442.5,1086.8 L443.6,1086.4 L444.8,1086.2 L446.0,1086.3 L447.1,1086.7 L448.3,1087.2 L449.4,1087.5 L450.6,1087.8 L451.8,1088.1 L452.9,1088.6 L454.1,1089.1 L455.2,1089.8 L456.4,1090.7 L457.6,1091.4 L458.7,1091.8 L459.9,1092.2 L461.0,1092.6 L462.2,1093.3 L463.4,1094.0 L464.5,1094.7 L465.7,1095.1 L466.8,1095.3 L468.0,1095.4 L469.2,1095.6 L470.3,1095.8 L471.5,1096.3 L472.6,1096.9 L473.8,1097.3 L475.0,1097.4 L476.1,1097.1 L477.3,1096.7 L478.5,1096.5 L479.6,1096.7 L480.8,1097.0 L481.9,1097.1 L483.1,1097.0 L484.3,1096.7 L485.4,1096.5 L486.6,1096.7 L487.7,1096.9 L488.9,1096.9 L490.1,1096.7 L491.2,1096.6 L492.4,1096.7 L493.5,1097.0 L494.7,1097.2 L495.9,1097.1 L497.0,1096.8 L498.2,1096.6 L499.3,1096.5 L500.5,1096.2 L501.7,1095.8 L502.8,1095.3 L504.0,1094.9 L505.1,1094.8 L506.3,1095.0 L507.5,1095.2 L508.6,1095.5 L509.8,1095.6 L510.9,1095.5 L512.1,1095.1 L513.3,1094.6 L514.4,1094.1 L515.6,1093.8 L516.7,1093.8 L517.9,1093.9 L519.1,1094.1 L520.2,1094.4 L521.4,1094.7 L522.5,1095.1 L523.7,1095.4 L524.9,1095.6 L526.0,1095.7 L527.2,1095.8 L528.3,1095.9 L529.5,1096.1 L530.7,1096.2 L531.8,1096.2 L533.0,1096.3 L534.2,1096.6 L535.3,1096.9 L536.5,1097.2 L537.6,1097.3 L538.8,1097.3 L540.0,1097.3 L541.1,1097.4 L542.3,1097.6 L543.4,1097.9 L544.6,1098.3 L545.8,1098.8 L546.9,1099.3 L548.1,1099.9 L549.2,1100.5 L550.4,1101.1 L551.6,1101.7 L552.7,1102.1 L553.9,1102.4 L555.0,1102.6 L556.2,1102.7 L557.4,1102.9 L558.5,1103.2 L559.7,1103.7 L560.8,1104.1 L562.0,1104.6 L563.2,1105.0 L564.3,1105.4 L565.5,1105.8 L566.6,1106.3 L567.8,1106.8 L569.0,1107.1 L570.1,1107.3 L571.3,1107.4 L572.4,1107.4 L573.6,1107.5 L574.8,1108.1 L575.9,1108.8 L577.1,1109.3 L578.2,1109.6 L579.4,1109.8 L580.6,1110.2 L581.7,1110.8 L582.9,1111.5 L584.0,1112.1 L585.2,1112.4 L586.4,1112.8 L587.5,1113.2 L588.7,1113.3 L589.9,1113.3 L591.0,1113.2 L592.2,1113.1 L593.3,1113.3 L594.5,1113.5 L595.7,1113.7 L596.8,1114.0 L598.0,1114.3 L599.1,1114.5 L600.3,1114.6 L601.5,1114.7 L602.6,1115.1 L603.8,1115.7 L604.9,1116.3 L606.1,1116.6 L607.3,1116.5 L608.4,1116.2 L609.6,1115.9 L610.7,1115.6 L611.9,1115.6 L613.1,1115.9 L614.2,1116.1 L615.4,1116.4 L616.5,1116.7 L617.7,1116.9 L618.9,1116.9 L620.0,1117.0 L621.2,1116.9 L622.3,1116.8 L623.5,1117.0 L624.7,1117.2 L625.8,1117.4 L627.0,1117.5 L628.1,1117.5 L629.3,1117.4 L630.5,1117.3 L631.6,1117.3 L632.8,1117.2 L633.9,1117.1 L635.1,1117.1 L636.3,1117.2 L637.4,1117.5 L638.6,1117.9 L639.7,1118.2 L640.9,1118.3 L642.1,1118.3 L643.2,1118.1 L644.4,1118.0 L645.5,1118.0"/>
<path d="M43.3,1116.2 L44.5,1116.2 L45.6,1116.1 L46.8,1115.9 L47.9,1115.8 L49.1,1115.8 L50.3,1115.9 L51.4,1116.0 L52.6,1115.9 L53.7,1115.8 L54.9,1115.7 L56.1,1115.7 L57.2,1115.7 L58.4,1115.6 L59.5,1115.4 L60.7,1115.2 L61.9,1115.1 L63.0,1115.2 L64.2,1115.3 L65.3,1115.6 L66.5,1116.0 L67.7,1116.2 L68.8,1116.2 L70.0,1115.8 L71.1,1115.3 L72.3,1115.1 L73.5,1115.1 L74.6,1115.1 L75.8,1115.0 L77.0,1114.8 L78.1,1114.7 L79.3,1114.7 L80.4,1114.7 L81.6,1114.7 L82.8,1114.5 L83.9,1114.1 L85.1,1113.7 L86.2,1113.4 L87.4,1113.4 L88.6,1113.8 L89.7,1114.2 L90.9,1114.5 L92.0,1114.3 L93.2,1113.9 L94.4,1113.6 L95.5,1113.6 L96.7,1113.9 L97.8,1114.5 L99.0,1114.8 L100.2,1114.8 L101.3,1114.4 L102.5,1113.8 L103.6,1113.3 L104.8,1112.9 L106.0,1112.7 L107.1,1112.6 L108.3,1112.4 L109.4,1112.3 L110.6,1112.2 L111.8,1112.2 L112.9,1112.2 L114.1,1112.2 L115.2,1112.1 L116.4,1112.1 L117.6,1112.2 L118.7,1112.3 L119.9,1112.1 L121.0,1111.6 L122.2,1111.2 L123.4,1110.9 L124.5,1110.8 L125.7,1110.9 L126.8,1110.9 L128.0,1110.6 L129.2,1110.3 L130.3,1110.0 L131.5,1109.5 L132.7,1109.0 L133.8,1108.7 L135.0,1108.7 L136.1,1108.8 L137.3,1109.1 L138.5,1109.2 L139.6,1109.1 L140.8,1108.9 L141.9,1108.5 L143.1,1107.8 L144.3,1107.1 L145.4,1106.5 L146.6,1106.1 L147.7,1105.8 L148.9,1105.6 L150.1,1105.3 L151.2,1104.7 L152.4,1103.9 L153.5,1103.1 L154.7,1102.4 L155.9,1101.8 L157.0,1101.2 L158.2,1100.5 L159.3,1099.8 L160.5,1099.0 L161.7,1098.0 L162.8,1096.6 L164.0,1095.3 L165.1,1094.0 L166.3,1092.8 L167.5,1091.6 L168.6,1090.2 L169.8,1088.5 L170.9,1086.7 L172.1,1084.9 L173.3,1083.3 L174.4,1081.9 L175.6,1080.5 L176.7,1079.0 L177.9,1077.1 L179.1,1074.9 L180.2,1072.5 L181.4,1070.0 L182.5,1067.5 L183.7,1065.1 L184.9,1062.6 L186.0,1059.9 L187.2,1057.1 L188.4,1054.2 L189.5,1051.3 L190.7,1048.6 L191.8,1045.7 L193.0,1042.5 L194.2,1038.8 L195.3,1035.0 L196.5,1031.0 L197.6,1026.9 L198.8,1022.9 L200.0,1019.2 L201.1,1015.6 L202.3,1012.1 L203.4,1008.6 L204.6,1005.0 L205.8,1001.1 L206.9,997.2 L208.1,993.2 L209.2,989.3 L210.4,985.3 L211.6,981.2 L212.7,976.9 L213.9,972.6 L215.0,968.4 L216.2,964.3 L217.4,960.4 L218.5,956.1 L219.7,951.4 L220.8,946.1 L222.0,940.4 L223.2,934.2 L224.3,927.6 L225.5,920.5 L226.6,913.0 L227.8,905.3 L229.0,897.5 L230.1,889.8 L231.3,882.7 L232.4,876.9 L233.6,873.0 L234.8,871.3 L235.9,872.0 L237.1,875.3 L238.2,881.3 L239.4,889.8 L240.6,900.1 L241.7,911.6 L242.9,923.5 L244.0,935.6 L245.2,947.7 L246.4,959.2 L247.5,970.1 L248.7,980.0 L249.9,989.0 L251.0,997.4 L252.2,1005.3 L253.3,1012.7 L254.5,1019.4 L255.7,1025.4 L256.8,1030.9 L258.0,1035.9 L259.1,1040.5 L260.3,1044.7 L261.5,1048.4 L262.6,1051.7 L263.8,1054.6 L264.9,1057.5 L266.1,1060.4 L267.3,1063.4 L268.4,1066.2 L269.6,1068.5 L270.7,1070.5 L271.9,1072.1 L273.1,1073.8 L274.2,1075.3 L275.4,1076.7 L276.5,1077.8 L277.7,1078.7 L278.9,1079.5 L280.0,1080.3 L281.2,1080.9 L282.3,1081.6 L283.5,1082.2 L284.7,1083.0 L285.8,1083.7 L287.0,1084.3 L288.1,1084.6 L289.3,1084.6 L290.5,1084.3 L291.6,1083.7 L292.8,1083.0 L293.9,1082.6 L295.1,1082.5 L296.3,1082.7 L297.4,1082.9 L298.6,1082.8 L299.7,1082.3 L300.9,1081.4 L302.1,1080.5 L303.2,1079.8 L304.4,1079.3 L305.6,1078.9 L306.7,1078.2 L307.9,1077.4 L309.0,1076.5 L310.2,1075.5 L311.4,1074.5 L312.5,1073.3 L313.7,1071.8 L314.8,1070.1 L316.0,1068.4 L317.2,1066.9 L318.3,1065.5 L319.5,1064.3 L320.6,1062.8 L321.8,1061.0 L323.0,1059.0 L324.1,1056.8 L325.3,1054.6 L326.4,1052.4 L327.6,1049.9 L328.8,1047.4 L329.9,1045.2 L331.1,1043.1 L332.2,1041.1 L333.4,1038.9 L334.6,1036.4 L335.7,1033.6 L336.9,1031.0 L338.0,1028.4 L339.2,1026.0 L340.4,1023.6 L341.5,1021.3 L342.7,1019.1 L343.8,1017.0 L345.0,1015.0 L346.2,1013.1 L347.3,1011.4 L348.5,1010.0 L349.6,1008.8 L350.8,1007.7 L352.0,1006.6 L353.1,1005.9 L354.3,1005.6 L355.4,1005.9 L356.6,1006.5 L357.8,1007.5 L358.9,1008.7 L360.1,1010.0 L361.3,1011.3 L362.4,1012.6 L363.6,1014.1 L364.7,1015.9 L365.9,1018.0 L367.1,1020.3 L368.2,1022.6 L369.4,1024.9 L370.5,1027.2 L371.7,1029.7 L372.9,1032.5 L374.0,1035.3 L375.2,1038.0 L376.3,1040.6 L377.5,1043.1 L378.7,1045.5 L379.8,1048.1 L381.0,1050.6 L382.1,1052.9 L383.3,1055.1 L384.5,1057.2 L385.6,1059.2 L386.8,1061.3 L387.9,1063.4 L389.1,1065.6 L390.3,1067.4 L391.4,1069.0 L392.6,1070.4 L393.7,1071.6 L394.9,1072.8 L396.1,1074.3 L397.2,1075.9 L398.4,1077.5 L399.5,1079.0 L400.7,1080.2 L401.9,1081.3 L403.0,1082.1 L404.2,1083.0 L405.3,1083.7 L406.5,1084.6 L407.7,1085.4 L408.8,1086.2 L410.0,1086.8 L411.1,1087.4 L412.3,1088.0 L413.5,1088.6 L414.6,1089.1 L415.8,1089.5 L417.0,1089.8 L418.1,1090.1 L419.3,1090.2 L420.4,1090.2 L421.6,1090.3 L422.8,1090.5 L423.9,1090.7 L425.1,1090.8 L426.2,1090.7 L427.4,1090.4 L428.6,1090.1 L429.7,1089.7 L430.9,1089.2 L432.0,1088.8 L433.2,1088.4 L434.4,1087.9 L435.5,1087.4 L436.7,1086.8 L437.8,1086.4 L439.0,1086.1 L440.2,1085.9 L441.3,1085.7 L442.5,1085.5 L443.6,1085.2 L444.8,1084.9 L446.0,1084.6 L447.1,1084.3 L448.3,1084.1 L449.4,1084.2 L450.6,1084.6 L451.8,1085.4 L452.9,1086.4 L454.1,1087.5 L455.2,1088.4 L456.4,1089.1 L457.6,1089.7 L458.7,1090.2 L459.9,1090.7 L461.0,1091.2 L462.2,1091.9 L463.4,1092.6 L464.5,1093.2 L465.7,1093.5 L466.8,1093.6 L468.0,1093.8 L469.2,1094.2 L470.3,1094.8 L471.5,1095.3 L472.6,1095.6 L473.8,1095.5 L475.0,1095.2 L476.1,1094.9 L477.3,1094.9 L478.5,1095.2 L479.6,1095.3 L480.8,1095.1 L481.9,1094.7 L483.1,1094.2 L484.3,1093.8 L485.4,1093.6 L486.6,1093.6 L487.7,1093.8 L488.9,1094.2 L490.1,1094.4 L491.2,1094.5 L492.4,1094.3 L493.5,1094.0 L494.7,1093.9 L495.9,1093.7 L497.0,1093.5 L498.2,1093.3 L499.3,1093.0 L500.5,1092.7 L501.7,1092.5 L502.8,1092.4 L504.0,1092.2 L505.1,1092.0 L506.3,1092.0 L507.5,1092.1 L508.6,1092.1 L509.8,1091.9 L510.9,1091.6 L512.1,1091.2 L513.3,1091.2 L514.4,1091.5 L515.6,1091.8 L516.7,1091.9 L517.9,1091.8 L519.1,1091.6 L520.2,1091.6 L521.4,1091.7 L522.5,1091.8 L523.7,1091.9 L524.9,1091.9 L526.0,1091.8 L527.2,1091.9 L528.3,1092.0 L529.5,1091.9 L530.7,1091.8 L531.8,1091.7 L533.0,1091.7 L534.2,1092.2 L535.3,1093.1 L536.5,1093.9 L537.6,1094.5 L538.8,1094.6 L540.0,1094.4 L541.1,1094.4 L542.3,1094.8 L543.4,1095.5 L544.6,1096.1 L545.8,1096.5 L546.9,1096.6 L548.1,1096.4 L549.2,1096.3 L550.4,1096.7 L551.6,1097.6 L552.7,1098.5 L553.9,1099.2 L555.0,1099.7 L556.2,1100.1 L557.4,1100.5 L558.5,1100.9 L559.7,1101.3 L560.8,1101.8 L562.0,1102.2 L563.2,1102.6 L564.3,1102.9 L565.5,1103.0 L566.6,1103.0 L567.8,1103.2 L569.0,1103.7 L570.1,1104.5 L571.3,1105.4 L572.4,1106.4 L573.6,1107.1 L574.8,1107.6 L575.9,1107.9 L577.1,1108.0 L578.2,1108.1 L579.4,1108.3 L580.6,1108.6 L581.7,1108.9 L582.9,1109.3 L584.0,1109.5 L585.2,1109.7 L586.4,1110.0 L587.5,1110.5 L588.7,1111.0 L589.9,1111.3 L591.0,1111.5 L592.2,1111.7 L593.3,1111.9 L594.5,1112.2 L595.7,1112.5 L596.8,1112.8 L598.0,1113.1 L599.1,1113.4 L600.3,1113.7 L601.5,1114.0 L602.6,1114.2 L603.8,1114.4 L604.9,1114.7 L606.1,1114.9 L607.3,1115.3 L608.4,1115.6 L609.6,1115.8 L610.7,1116.0 L611.9,1116.0 L613.1,1115.9 L614.2,1115.8 L615.4,1115.6 L616.5,1115.6 L617.7,1115.8 L618.9,1116.1 L620.0,1116.3 L621.2,1116.3 L622.3,1116.1 L623.5,1115.9 L624.7,1115.9 L625.8,1116.1 L627.0,1116.6 L628.1,1116.9 L629.3,1117.0 L630.5,1116.8 L631.6,1116.6 L632.8,1116.6 L633.9,1116.7 L635.1,1116.7 L636.3,1116.6 L637.4,1116.5 L638.6,1116.6 L639.7,1116.8 L640.9,1116.9 L642.1,1116.9 L643.2,1116.7 L644.4,1116.5 L645.5,1116.5"/>
<path d="M43.3,1117.9 L44.5,1118.1 L45.6,1118.1 L46.8,1118.0 L47.9,1117.9 L49.1,1117.8 L50.3,1117.6 L51.4,1117.3 L52.6,1117.2 L53.7,1117.1 L54.9,1117.2 L56.1,1117.3 L57.2,1117.3 L58.4,1117.4 L59.5,1117.5 L60.7,1117.7 L61.9,1117.8 L63.0,1117.7 L64.2,1117.5 L65.3,1117.2 L66.5,1117.1 L67.7,1117.0 L68.8,1117.0 L70.0,1117.0 L71.1,1117.1 L72.3,1117.3 L73.5,1117.4 L74.6,1117.3 L75.8,1117.1 L77.0,1116.7 L78.1,1116.5 L79.3,1116.5 L80.4,1116.6 L81.6,1116.5 L82.8,1116.4 L83.9,1116.3 L85.1,1116.3 L86.2,1116.3 L87.4,1116.1 L88.6,1115.8 L89.7,1115.5 L90.9,1115.4 L92.0,1115.5 L93.2,1115.5 L94.4,1115.6 L95.5,1115.8 L96.7,1116.0 L97.8,1116.3 L99.0,1116.1 L100.2,1115.6 L101.3,1114.9 L102.5,1114.5 L103.6,1114.7 L104.8,1115.3 L106.0,1115.7 L107.1,1115.9 L108.3,1115.8 L109.4,1115.6 L110.6,1115.5 L111.8,1115.3 L112.9,1115.0 L114.1,1114.5 L115.2,1114.2 L116.4,1113.9 L117.6,1113.7 L118.7,1113.6 L119.9,1113.3 L121.0,1113.0 L122.2,1112.9 L123.4,1113.0 L124.5,1113.3 L125.7,1113.5 L126.8,1113.4 L128.0,1113.2 L129.2,1112.9 L130.3,1112.7 L131.5,1112.5 L132.7,1112.4 L133.8,1112.4 L135.0,1112.3 L136.1,1112.2 L137.3,1111.9 L138.5,1111.5 L139.6,1111.1 L140.8,1110.8 L141.9,1110.7 L143.1,1110.6 L144.3,1110.4 L145.4,1110.0 L146.6,1109.7 L147.7,1109.4 L148.9,1109.1 L150.1,1108.5 L151.2,1107.7 L152.4,1106.8 L153.5,1106.1 L154.7,1105.6 L155.9,1104.9 L157.0,1104.2 L158.2,1103.6 L159.3,1103.0 L160.5,1102.4 L161.7,1101.6 L162.8,1100.5 L164.0,1099.5 L165.1,1098.8 L166.3,1098.3 L167.5,1097.6 L168.6,1096.5 L169.8,1094.8 L170.9,1093.0 L172.1,1091.4 L173.3,1090.1 L174.4,1088.9 L175.6,1087.7 L176.7,1086.3 L177.9,1084.7 L179.1,1082.8 L180.2,1080.9 L181.4,1078.8 L182.5,1076.8 L183.7,1074.8 L184.9,1072.9 L186.0,1070.9 L187.2,1068.5 L188.4,1066.0 L189.5,1063.5 L190.7,1061.0 L191.8,1058.4 L193.0,1055.7 L194.2,1052.9 L195.3,1049.9 L196.5,1046.9 L197.6,1043.8 L198.8,1040.7 L200.0,1037.9 L201.1,1035.1 L202.3,1032.2 L203.4,1029.0 L204.6,1025.6 L205.8,1022.0 L206.9,1018.5 L208.1,1015.1 L209.2,1011.9 L210.4,1008.5 L211.6,1005.1 L212.7,1001.6 L213.9,998.1 L215.0,994.7 L216.2,991.3 L217.4,987.5 L218.5,983.4 L219.7,978.9 L220.8,974.1 L222.0,969.3 L223.2,964.5 L224.3,959.5 L225.5,954.0 L226.6,947.7 L227.8,940.9 L229.0,934.1 L230.1,927.7 L231.3,922.2 L232.4,917.8 L233.6,914.9 L234.8,913.8 L235.9,914.9 L237.1,918.2 L238.2,923.3 L239.4,930.0 L240.6,937.9 L241.7,946.9 L242.9,956.5 L244.0,966.4 L245.2,976.1 L246.4,985.4 L247.5,994.3 L248.7,1002.7 L249.9,1010.6 L251.0,1017.8 L252.2,1024.2 L253.3,1029.8 L254.5,1034.9 L255.7,1039.5 L256.8,1043.7 L258.0,1047.6 L259.1,1051.2 L260.3,1054.7 L261.5,1057.9 L262.6,1061.0 L263.8,1063.8 L264.9,1066.3 L266.1,1068.6 L267.3,1070.7 L268.4,1072.6 L269.6,1074.5 L270.7,1076.4 L271.9,1078.2 L273.1,1079.8 L274.2,1081.0 L275.4,1081.7 L276.5,1082.3 L277.7,1082.9 L278.9,1083.5 L280.0,1084.0 L281.2,1084.4 L282.3,1084.7 L283.5,1084.9 L284.7,1085.3 L285.8,1085.6 L287.0,1085.9 L288.1,1085.8 L289.3,1085.6 L290.5,1085.3 L291.6,1085.1 L292.8,1084.9 L293.9,1084.9 L295.1,1084.7 L296.3,1084.2 L297.4,1083.5 L298.6,1082.9 L299.7,1082.4 L300.9,1082.2 L302.1,1082.0 L303.2,1081.6 L304.4,1080.8 L305.6,1079.7 L306.7,1078.4 L307.9,1077.0 L309.0,1075.5 L310.2,1074.0 L311.4,1072.7 L312.5,1071.5 L313.7,1070.3 L314.8,1068.9 L316.0,1067.2 L317.2,1065.3 L318.3,1063.4 L319.5,1061.5 L320.6,1059.4 L321.8,1057.2 L323.0,1054.9 L324.1,1052.5 L325.3,1050.1 L326.4,1047.5 L327.6,1045.1 L328.8,1042.5 L329.9,1039.7 L331.1,1036.7 L332.2,1033.4 L333.4,1030.2 L334.6,1027.5 L335.7,1025.1 L336.9,1022.7 L338.0,1020.0 L339.2,1017.2 L340.4,1014.6 L341.5,1012.3 L342.7,1010.2 L343.8,1008.2 L345.0,1006.1 L346.2,1003.9 L347.3,1001.6 L348.5,999.4 L349.6,997.4 L350.8,996.2 L352.0,995.6 L353.1,995.5 L354.3,995.6 L355.4,995.9 L356.6,996.4 L357.8,997.2 L358.9,998.2 L360.1,999.3 L361.3,1000.5 L362.4,1002.1 L363.6,1003.9 L364.7,1006.1 L365.9,1008.6 L367.1,1011.3 L368.2,1014.1 L369.4,1017.0 L370.5,1019.8 L371.7,1022.7 L372.9,1025.5 L374.0,1028.4 L375.2,1031.4 L376.3,1034.4 L377.5,1037.1 L378.7,1039.7 L379.8,1042.2 L381.0,1044.9 L382.1,1047.5 L383.3,1050.2 L384.5,1052.6 L385.6,1054.9 L386.8,1057.2 L387.9,1059.5 L389.1,1061.6 L390.3,1063.7 L391.4,1065.8 L392.6,1067.8 L393.7,1069.8 L394.9,1071.7 L396.1,1073.4 L397.2,1075.0 L398.4,1076.5 L399.5,1077.7 L400.7,1078.8 L401.9,1079.8 L403.0,1080.8 L404.2,1081.8 L405.3,1082.7 L406.5,1083.6 L407.7,1084.5 L408.8,1085.4 L410.0,1086.4 L411.1,1087.4 L412.3,1088.3 L413.5,1088.9 L414.6,1089.3 L415.8,1089.6 L417.0,1090.0 L418.1,1090.4 L419.3,1090.8 L420.4,1091.1 L421.6,1091.3 L422.8,1091.6 L423.9,1091.9 L425.1,1092.1 L426.2,1091.9 L427.4,1091.5 L428.6,1091.1 L429.7,1090.8 L430.9,1090.8 L432.0,1090.7 L433.2,1090.5 L434.4,1090.2 L435.5,1089.8 L436.7,1089.5 L437.8,1089.1 L439.0,1088.5 L440.2,1087.7 L441.3,1086.8 L442.5,1086.2 L443.6,1086.0 L444.8,1086.1 L446.0,1086.2 L447.1,1086.4 L448.3,1086.8 L449.4,1087.1 L450.6,1087.4 L451.8,1087.5 L452.9,1087.6 L454.1,1088.0 L455.2,1088.7 L456.4,1089.6 L457.6,1090.6 L458.7,1091.4 L459.9,1092.2 L461.0,1092.8 L462.2,1093.4 L463.4,1094.0 L464.5,1094.4 L465.7,1094.6 L466.8,1094.9 L468.0,1095.3 L469.2,1095.6 L470.3,1095.7 L471.5,1095.6 L472.6,1095.4 L473.8,1095.3 L475.0,1095.5 L476.1,1095.7 L477.3,1095.8 L478.5,1095.8 L479.6,1095.6 L480.8,1095.4 L481.9,1095.3 L483.1,1095.5 L484.3,1095.7 L485.4,1095.7 L486.6,1095.4 L487.7,1095.0 L488.9,1094.7 L490.1,1094.7 L491.2,1095.0 L492.4,1095.1 L493.5,1095.0 L494.7,1094.7 L495.9,1094.2 L497.0,1093.6 L498.2,1093.0 L499.3,1092.5 L500.5,1092.3 L501.7,1092.2 L502.8,1092.3 L504.0,1092.3 L505.1,1092.2 L506.3,1092.1 L507.5,1091.8 L508.6,1091.4 L509.8,1091.3 L510.9,1091.4 L512.1,1091.4 L513.3,1091.2 L514.4,1090.8 L515.6,1090.5 L516.7,1090.4 L517.9,1090.5 L519.1,1090.7 L520.2,1090.8 L521.4,1090.8 L522.5,1090.6 L523.7,1090.4 L524.9,1090.3 L526.0,1090.4 L527.2,1090.6 L528.3,1090.9 L529.5,1091.2 L530.7,1091.5 L531.8,1091.7 L533.0,1091.9 L534.2,1091.9 L535.3,1091.8 L536.5,1091.8 L537.6,1092.1 L538.8,1092.5 L540.0,1093.0 L541.1,1093.5 L542.3,1094.0 L543.4,1094.5 L544.6,1095.1 L545.8,1095.6 L546.9,1096.0 L548.1,1096.2 L549.2,1096.4 L550.4,1096.8 L551.6,1097.5 L552.7,1098.3 L553.9,1099.1 L555.0,1099.7 L556.2,1100.2 L557.4,1100.5 L558.5,1100.9 L559.7,1101.4 L560.8,1102.1 L562.0,1102.8 L563.2,1103.3 L564.3,1103.7 L565.5,1103.9 L566.6,1104.1 L567.8,1104.3 L569.0,1104.7 L570.1,1105.3 L571.3,1105.9 L572.4,1106.6 L573.6,1107.1 L574.8,1107.5 L575.9,1108.0 L577.1,1108.7 L578.2,1109.2 L579.4,1109.7 L580.6,1110.0 L581.7,1110.4 L582.9,1110.6 L584.0,1110.8 L585.2,1111.0 L586.4,1111.3 L587.5,1111.8 L588.7,1112.4 L589.9,1112.9 L591.0,1113.3 L592.2,1113.6 L593.3,1113.9 L594.5,1114.3 L595.7,1114.6 L596.8,1114.6 L598.0,1114.6 L599.1,1114.4 L600.3,1114.2 L601.5,1114.1 L602.6,1114.1 L603.8,1114.5 L604.9,1115.2 L606.1,1115.8 L607.3,1116.2 L608.4,1116.4 L609.6,1116.5 L610.7,1116.5 L611.9,1116.7 L613.1,1116.8 L614.2,1116.9 L615.4,1116.9 L616.5,1117.0 L617.7,1117.2 L618.9,1117.5 L620.0,1117.9 L621.2,1118.1 L622.3,1118.1 L623.5,1118.0 L624.7,1117.9 L625.8,1117.9 L627.0,1118.1 L628.1,1118.4 L629.3,1118.7 L630.5,1118.8 L631.6,1118.8 L632.8,1118.8 L633.9,1118.9 L635.1,1119.0 L636.3,1118.9 L637.4,1118.7 L638.6,1118.4 L639.7,1118.4 L640.9,1118.6 L642.1,1118.8 L643.2,1118.9 L644.4,1118.9 L645.5,1119.0"/>
<path d="M43.3,1115.9 L44.5,1115.8 L45.6,1115.8 L46.8,1115.8 L47.9,1115.9 L49.1,1115.9 L50.3,1115.8 L51.4,1115.7 L52.6,1115.6 L53.7,1115.6 L54.9,1115.6 L56.1,1115.7 L57.2,1115.8 L58.4,1116.0 L59.5,1116.2 L60.7,1116.2 L61.9,1116.0 L63.0,1115.8 L64.2,1115.6 L65.3,1115.5 L66.5,1115.5 L67.7,1115.5 L68.8,1115.5 L70.0,1115.4 L71.1,1115.3 L72.3,1115.2 L73.5,1115.2 L74.6,1115.3 L75.8,1115.4 L77.0,1115.5 L78.1,1115.6 L79.3,1115.6 L80.4,1115.6 L81.6,1115.6 L82.8,1115.4 L83.9,1115.3 L85.1,1115.1 L86.2,1114.8 L87.4,1114.6 L88.6,1114.4 L89.7,1114.4 L90.9,1114.5 L92.0,1114.6 L93.2,1114.9 L94.4,1115.2 L95.5,1115.5 L96.7,1115.4 L97.8,1115.1 L99.0,1114.7 L100.2,1114.2 L101.3,1113.9 L102.5,1113.8 L103.6,1113.6 L104.8,1113.5 L106.0,1113.5 L107.1,1113.5 L108.3,1113.5 L109.4,1113.6 L110.6,1113.6 L111.8,1113.5 L112.9,1113.4 L114.1,1113.1 L115.2,1112.9 L116.4,1112.8 L117.6,1112.9 L118.7,1112.8 L119.9,1112.6 L121.0,1112.2 L122.2,1111.9 L123.4,1111.9 L124.5,1111.9 L125.7,1111.9 L126.8,1112.0 L128.0,1111.9 L129.2,1111.8 L130.3,1111.6 L131.5,1111.4 L132.7,1111.1 L133.8,1110.9 L135.0,1110.7 L136.1,1110.5 L137.3,1110.5 L138.5,1110.3 L139.6,1110.0 L140.8,1109.4 L141.9,1108.8 L143.1,1108.4 L144.3,1108.3 L145.4,1108.3 L146.6,1108.1 L147.7,1107.7 L148.9,1107.1 L150.1,1106.6 L151.2,1106.4 L152.4,1106.2 L153.5,1105.8 L154.7,1105.2 L155.9,1104.5 L157.0,1103.7 L158.2,1102.8 L159.3,1101.8 L160.5,1100.9 L161.7,1100.2 L162.8,1099.8 L164.0,1099.5 L165.1,1099.0 L166.3,1098.3 L167.5,1097.5 L168.6,1096.5 L169.8,1095.4 L170.9,1094.3 L172.1,1093.0 L173.3,1091.5 L174.4,1090.0 L175.6,1088.5 L176.7,1087.1 L177.9,1085.6 L179.1,1084.0 L180.2,1082.3 L181.4,1081.0 L182.5,1079.8 L183.7,1078.4 L184.9,1076.4 L186.0,1074.1 L187.2,1071.5 L188.4,1069.2 L189.5,1067.0 L190.7,1064.8 L191.8,1062.6 L193.0,1060.2 L194.2,1057.7 L195.3,1055.3 L196.5,1052.9 L197.6,1050.4 L198.8,1047.6 L200.0,1044.8 L201.1,1041.9 L202.3,1039.2 L203.4,1036.7 L204.6,1034.0 L205.8,1031.0 L206.9,1028.0 L208.1,1025.1 L209.2,1022.2 L210.4,1019.2 L211.6,1016.0 L212.7,1012.4 L213.9,1008.7 L215.0,1005.2 L216.2,1001.8 L217.4,998.4 L218.5,994.9 L219.7,991.2 L220.8,987.3 L222.0,983.2 L223.2,978.5 L224.3,973.5 L225.5,968.2 L226.6,962.7 L227.8,957.1 L229.0,951.5 L230.1,946.1 L231.3,941.1 L232.4,937.1 L233.6,934.5 L234.8,933.5 L235.9,934.2 L237.1,936.7 L238.2,941.0 L239.4,946.8 L240.6,953.8 L241.7,961.7 L242.9,969.9 L244.0,978.3 L245.2,986.5 L246.4,994.6 L247.5,1002.2 L248.7,1009.5 L249.9,1016.3 L251.0,1022.6 L252.2,1028.2 L253.3,1033.1 L254.5,1037.5 L255.7,1041.6 L256.8,1045.9 L258.0,1050.1 L259.1,1054.1 L260.3,1057.5 L261.5,1060.5 L262.6,1063.1 L263.8,1065.5 L264.9,1067.6 L266.1,1069.4 L267.3,1070.8 L268.4,1072.1 L269.6,1073.4 L270.7,1074.7 L271.9,1076.2 L273.1,1077.5 L274.2,1078.7 L275.4,1079.7 L276.5,1080.6 L277.7,1081.3 L278.9,1081.8 L280.0,1082.1 L281.2,1082.4 L282.3,1082.5 L283.5,1082.7 L284.7,1083.0 L285.8,1083.4 L287.0,1083.7 L288.1,1083.8 L289.3,1083.5 L290.5,1082.9 L291.6,1082.2 L292.8,1082.0 L293.9,1082.1 L295.1,1082.3 L296.3,1082.2 L297.4,1081.8 L298.6,1080.9 L299.7,1079.8 L300.9,1078.7 L302.1,1077.7 L303.2,1076.9 L304.4,1076.2 L305.6,1075.3 L306.7,1074.0 L307.9,1072.5 L309.0,1070.8 L310.2,1069.1 L311.4,1067.4 L312.5,1065.9 L313.7,1064.5 L314.8,1063.1 L316.0,1061.7 L317.2,1060.0 L318.3,1057.9 L319.5,1055.6 L320.6,1053.2 L321.8,1050.9 L323.0,1048.6 L324.1,1046.3 L325.3,1044.0 L326.4,1041.3 L327.6,1038.5 L328.8,1035.7 L329.9,1032.9 L331.1,1030.1 L332.2,1027.2 L333.4,1024.1 L334.6,1020.8 L335.7,1017.5 L336.9,1014.3 L338.0,1011.2 L339.2,1008.3 L340.4,1005.4 L341.5,1002.4 L342.7,999.4 L343.8,996.5 L345.0,993.7 L346.2,991.3 L347.3,989.4 L348.5,987.7 L349.6,986.2 L350.8,985.0 L352.0,984.0 L353.1,983.4 L354.3,983.2 L355.4,983.6 L356.6,984.3 L357.8,985.2 L358.9,986.3 L360.1,987.6 L361.3,989.1 L362.4,990.9 L363.6,993.1 L364.7,995.7 L365.9,998.6 L367.1,1001.5 L368.2,1004.2 L369.4,1006.8 L370.5,1009.6 L371.7,1012.7 L372.9,1016.0 L374.0,1019.5 L375.2,1022.7 L376.3,1025.6 L377.5,1028.6 L378.7,1031.6 L379.8,1034.5 L381.0,1037.3 L382.1,1040.2 L383.3,1043.2 L384.5,1046.3 L385.6,1049.0 L386.8,1051.3 L387.9,1053.5 L389.1,1055.7 L390.3,1058.0 L391.4,1060.3 L392.6,1062.4 L393.7,1064.3 L394.9,1066.3 L396.1,1068.4 L397.2,1070.3 L398.4,1072.1 L399.5,1073.5 L400.7,1074.6 L401.9,1075.6 L403.0,1076.6 L404.2,1077.6 L405.3,1078.6 L406.5,1079.6 L407.7,1080.5 L408.8,1081.3 L410.0,1082.0 L411.1,1082.9 L412.3,1084.0 L413.5,1085.1 L414.6,1086.0 L415.8,1086.6 L417.0,1087.0 L418.1,1087.5 L419.3,1088.0 L420.4,1088.6 L421.6,1089.0 L422.8,1089.3 L423.9,1089.3 L425.1,1089.0 L426.2,1088.7 L427.4,1088.5 L428.6,1088.4 L429.7,1088.5 L430.9,1088.5 L432.0,1088.5 L433.2,1088.4 L434.4,1088.1 L435.5,1087.7 L436.7,1087.2 L437.8,1086.7 L439.0,1086.2 L440.2,1085.5 L441.3,1084.7 L442.5,1083.9 L443.6,1083.4 L444.8,1083.3 L446.0,1083.6 L447.1,1083.9 L448.3,1084.2 L449.4,1084.6 L450.6,1085.2 L451.8,1085.8 L452.9,1086.3 L454.1,1086.7 L455.2,1087.0 L456.4,1087.5 L457.6,1088.1 L458.7,1088.8 L459.9,1089.6 L461.0,1090.4 L462.2,1091.1 L463.4,1091.7 L464.5,1092.4 L465.7,1092.7 L466.8,1092.6 L468.0,1092.5 L469.2,1092.5 L470.3,1092.8 L471.5,1093.3 L472.6,1093.7 L473.8,1093.8 L475.0,1093.6 L476.1,1093.5 L477.3,1093.3 L478.5,1093.2 L479.6,1093.3 L480.8,1093.3 L481.9,1093.2 L483.1,1093.0 L484.3,1092.8 L485.4,1092.6 L486.6,1092.4 L487.7,1092.1 L488.9,1091.8 L490.1,1091.6 L491.2,1091.4 L492.4,1091.4 L493.5,1091.3 L494.7,1091.1 L495.9,1090.8 L497.0,1090.6 L498.2,1090.6 L499.3,1090.5 L500.5,1090.3 L501.7,1089.8 L502.8,1089.1 L504.0,1088.6 L505.1,1088.4 L506.3,1088.2 L507.5,1088.2 L508.6,1088.2 L509.8,1088.4 L510.9,1088.6 L512.1,1088.5 L513.3,1088.2 L514.4,1087.8 L515.6,1087.5 L516.7,1087.5 L517.9,1087.5 L519.1,1087.6 L520.2,1087.5 L521.4,1087.5 L522.5,1087.4 L523.7,1087.2 L524.9,1087.2 L526.0,1087.2 L527.2,1087.3 L528.3,1087.5 L529.5,1087.5 L530.7,1087.4 L531.8,1087.3 L533.0,1087.3 L534.2,1087.5 L535.3,1088.0 L536.5,1088.6 L537.6,1089.3 L538.8,1089.8 L540.0,1090.1 L541.1,1090.3 L542.3,1090.5 L543.4,1090.8 L544.6,1091.3 L545.8,1091.8 L546.9,1092.4 L548.1,1092.8 L549.2,1093.2 L550.4,1093.7 L551.6,1094.3 L552.7,1094.9 L553.9,1095.4 L555.0,1095.8 L556.2,1096.3 L557.4,1096.9 L558.5,1097.7 L559.7,1098.4 L560.8,1099.0 L562.0,1099.4 L563.2,1099.8 L564.3,1100.1 L565.5,1100.6 L566.6,1101.4 L567.8,1102.2 L569.0,1102.8 L570.1,1103.2 L571.3,1103.6 L572.4,1104.1 L573.6,1104.9 L574.8,1105.6 L575.9,1106.1 L577.1,1106.3 L578.2,1106.3 L579.4,1106.2 L580.6,1106.4 L581.7,1106.9 L582.9,1107.5 L584.0,1108.4 L585.2,1109.0 L586.4,1109.4 L587.5,1109.7 L588.7,1109.9 L589.9,1110.3 L591.0,1110.8 L592.2,1111.1 L593.3,1111.4 L594.5,1111.5 L595.7,1111.6 L596.8,1111.7 L598.0,1111.7 L599.1,1111.7 L600.3,1112.0 L601.5,1112.7 L602.6,1113.6 L603.8,1114.6 L604.9,1115.2 L606.1,1115.6 L607.3,1115.5 L608.4,1115.4 L609.6,1115.3 L610.7,1115.3 L611.9,1115.2 L613.1,1115.2 L614.2,1115.3 L615.4,1115.5 L616.5,1115.7 L617.7,1115.8 L618.9,1115.7 L620.0,1115.6 L621.2,1115.6 L622.3,1115.6 L623.5,1115.6 L624.7,1115.7 L625.8,1115.8 L627.0,1116.1 L628.1,1116.5 L629.3,1116.8 L630.5,1116.9 L631.6,1116.8 L632.8,1116.7 L633.9,1116.5 L635.1,1116.3 L636.3,1116.2 L637.4,1116.4 L638.6,1116.7 L639.7,1116.9 L640.9,1116.9 L642.1,1116.8 L643.2,1116.7 L644.4,1116.7 L645.5,1116.8"/>
<path d="M43.3,1115.8 L44.5,1115.8 L45.6,1116.0 L46.8,1116.2 L47.9,1116.3 L49.1,1116.2 L50.3,1116.2 L51.4,1116.2 L52.6,1116.3 L53.7,1116.4 L54.9,1116.4 L56.1,1116.4 L57.2,1116.4 L58.4,1116.5 L59.5,1116.5 L60.7,1116.6 L61.9,1116.6 L63.0,1116.4 L64.2,1116.3 L65.3,1116.2 L66.5,1116.1 L67.7,1116.1 L68.8,1116.1 L70.0,1116.0 L71.1,1115.8 L72.3,1115.8 L73.5,1115.9 L74.6,1116.0 L75.8,1116.0 L77.0,1115.8 L78.1,1115.5 L79.3,1115.5 L80.4,1115.7 L81.6,1115.8 L82.8,1115.9 L83.9,1115.8 L85.1,1115.6 L86.2,1115.3 L87.4,1115.0 L88.6,1114.9 L89.7,1114.8 L90.9,1114.8 L92.0,1114.7 L93.2,1114.4 L94.4,1114.1 L95.5,1113.8 L96.7,1113.7 L97.8,1113.9 L99.0,1114.2 L100.2,1114.5 L101.3,1114.6 L102.5,1114.4 L103.6,1114.2 L104.8,1114.0 L106.0,1113.9 L107.1,1114.0 L108.3,1114.0 L109.4,1113.9 L110.6,1113.8 L111.8,1113.7 L112.9,1113.6 L114.1,1113.4 L115.2,1113.1 L116.4,1112.8 L117.6,1112.7 L118.7,1112.8 L119.9,1112.8 L121.0,1112.6 L122.2,1112.2 L123.4,1111.9 L124.5,1111.8 L125.7,1111.9 L126.8,1112.2 L128.0,1112.2 L129.2,1112.0 L130.3,1111.8 L131.5,1111.5 L132.7,1111.3 L133.8,1111.1 L135.0,1111.1 L136.1,1111.1 L137.3,1111.1 L138.5,1110.9 L139.6,1110.6 L140.8,1110.0 L141.9,1109.4 L143.1,1109.1 L144.3,1109.1 L145.4,1109.3 L146.6,1109.3 L147.7,1108.9 L148.9,1108.3 L150.1,1107.8 L151.2,1107.4 L152.4,1107.0 L153.5,1106.5 L154.7,1105.9 L155.9,1105.3 L157.0,1104.8 L158.2,1104.3 L159.3,1103.8 L160.5,1103.3 L161.7,1102.7 L162.8,1102.2 L164.0,1101.8 L165.1,1101.2 L166.3,1100.3 L167.5,1099.3 L168.6,1098.3 L169.8,1097.3 L170.9,1096.4 L172.1,1095.4 L173.3,1094.4 L174.4,1093.3 L175.6,1092.2 L176.7,1091.1 L177.9,1090.0 L179.1,1088.8 L180.2,1087.7 L181.4,1086.3 L182.5,1084.7 L183.7,1082.9 L184.9,1080.9 L186.0,1079.0 L187.2,1077.2 L188.4,1075.4 L189.5,1073.7 L190.7,1071.9 L191.8,1070.0 L193.0,1067.8 L194.2,1065.4 L195.3,1062.9 L196.5,1060.4 L197.6,1058.0 L198.8,1055.7 L200.0,1053.4 L201.1,1051.1 L202.3,1048.8 L203.4,1046.6 L204.6,1044.4 L205.8,1042.1 L206.9,1039.6 L208.1,1037.0 L209.2,1034.3 L210.4,1031.6 L211.6,1028.8 L212.7,1025.8 L213.9,1022.7 L215.0,1019.6 L216.2,1016.7 L217.4,1013.9 L218.5,1011.1 L219.7,1008.2 L220.8,1004.8 L222.0,1001.1 L223.2,997.2 L224.3,993.2 L225.5,989.0 L226.6,984.5 L227.8,979.7 L229.0,974.7 L230.1,970.0 L231.3,965.7 L232.4,962.2 L233.6,959.8 L234.8,958.8 L235.9,959.4 L237.1,961.4 L238.2,964.8 L239.4,969.4 L240.6,975.1 L241.7,981.6 L242.9,988.4 L244.0,995.4 L245.2,1002.2 L246.4,1008.8 L247.5,1015.4 L248.7,1021.8 L249.9,1027.6 L251.0,1032.7 L252.2,1037.4 L253.3,1041.9 L254.5,1046.2 L255.7,1050.3 L256.8,1053.8 L258.0,1056.7 L259.1,1059.2 L260.3,1061.7 L261.5,1064.1 L262.6,1066.3 L263.8,1068.0 L264.9,1069.6 L266.1,1071.1 L267.3,1072.8 L268.4,1074.6 L269.6,1076.2 L270.7,1077.5 L271.9,1078.4 L273.1,1079.0 L274.2,1079.3 L275.4,1079.7 L276.5,1080.2 L277.7,1080.9 L278.9,1081.4 L280.0,1081.8 L281.2,1082.0 L282.3,1082.2 L283.5,1082.4 L284.7,1082.5 L285.8,1082.6 L287.0,1082.5 L288.1,1082.4 L289.3,1082.1 L290.5,1081.6 L291.6,1081.1 L292.8,1080.5 L293.9,1080.0 L295.1,1079.5 L296.3,1078.9 L297.4,1078.1 L298.6,1077.2 L299.7,1076.1 L300.9,1075.0 L302.1,1073.9 L303.2,1072.6 L304.4,1071.2 L305.6,1069.7 L306.7,1068.4 L307.9,1067.1 L309.0,1065.6 L310.2,1064.1 L311.4,1062.4 L312.5,1060.5 L313.7,1058.4 L314.8,1056.3 L316.0,1054.0 L317.2,1051.7 L318.3,1049.3 L319.5,1046.7 L320.6,1044.1 L321.8,1041.7 L323.0,1039.3 L324.1,1036.7 L325.3,1033.8 L326.4,1030.8 L327.6,1027.6 L328.8,1024.2 L329.9,1020.8 L331.1,1017.2 L332.2,1013.7 L333.4,1010.1 L334.6,1006.6 L335.7,1003.1 L336.9,999.7 L338.0,996.2 L339.2,992.7 L340.4,989.4 L341.5,986.2 L342.7,983.0 L343.8,979.9 L345.0,976.6 L346.2,973.5 L347.3,970.7 L348.5,968.6 L349.6,967.0 L350.8,966.0 L352.0,965.4 L353.1,965.2 L354.3,965.0 L355.4,965.0 L356.6,965.3 L357.8,965.9 L358.9,966.9 L360.1,968.5 L361.3,970.5 L362.4,972.9 L363.6,975.6 L364.7,978.3 L365.9,981.2 L367.1,984.3 L368.2,987.8 L369.4,991.3 L370.5,994.7 L371.7,998.0 L372.9,1001.3 L374.0,1005.0 L375.2,1008.9 L376.3,1013.0 L377.5,1017.0 L378.7,1020.8 L379.8,1024.3 L381.0,1027.4 L382.1,1030.2 L383.3,1032.7 L384.5,1035.3 L385.6,1038.0 L386.8,1041.0 L387.9,1044.0 L389.1,1047.0 L390.3,1049.8 L391.4,1052.3 L392.6,1054.8 L393.7,1057.0 L394.9,1059.0 L396.1,1060.9 L397.2,1062.8 L398.4,1064.9 L399.5,1066.8 L400.7,1068.6 L401.9,1070.2 L403.0,1071.6 L404.2,1073.1 L405.3,1074.6 L406.5,1075.8 L407.7,1077.1 L408.8,1078.4 L410.0,1079.7 L411.1,1080.8 L412.3,1081.6 L413.5,1082.3 L414.6,1082.9 L415.8,1083.3 L417.0,1083.8 L418.1,1084.3 L419.3,1084.8 L420.4,1085.4 L421.6,1086.0 L422.8,1086.3 L423.9,1086.4 L425.1,1086.3 L426.2,1086.1 L427.4,1085.9 L428.6,1086.0 L429.7,1086.2 L430.9,1086.3 L432.0,1086.0 L433.2,1085.5 L434.4,1084.9 L435.5,1084.4 L436.7,1084.0 L437.8,1083.7 L439.0,1083.3 L440.2,1082.9 L441.3,1082.6 L442.5,1082.3 L443.6,1082.0 L444.8,1081.6 L446.0,1081.3 L447.1,1081.3 L448.3,1081.6 L449.4,1082.2 L450.6,1082.9 L451.8,1083.6 L452.9,1084.2 L454.1,1085.0 L455.2,1085.9 L456.4,1086.9 L457.6,1087.8 L458.7,1088.6 L459.9,1089.2 L461.0,1089.6 L462.2,1090.0 L463.4,1090.2 L464.5,1090.6 L465.7,1091.0 L466.8,1091.5 L468.0,1091.8 L469.2,1091.9 L470.3,1091.9 L471.5,1091.8 L472.6,1091.8 L473.8,1091.7 L475.0,1091.6 L476.1,1091.4 L477.3,1091.3 L478.5,1091.4 L479.6,1091.4 L480.8,1091.3 L481.9,1090.9 L483.1,1090.5 L484.3,1090.1 L485.4,1089.9 L486.6,1089.9 L487.7,1089.7 L488.9,1089.6 L490.1,1089.4 L491.2,1089.2 L492.4,1088.8 L493.5,1088.3 L494.7,1087.6 L495.9,1086.9 L497.0,1086.4 L498.2,1086.0 L499.3,1085.4 L500.5,1084.9 L501.7,1084.5 L502.8,1084.5 L504.0,1084.6 L505.1,1084.4 L506.3,1084.0 L507.5,1083.4 L508.6,1083.0 L509.8,1082.8 L510.9,1082.8 L512.1,1082.6 L513.3,1082.2 L514.4,1081.9 L515.6,1081.6 L516.7,1081.4 L517.9,1081.5 L519.1,1081.7 L520.2,1082.1 L521.4,1082.5 L522.5,1082.7 L523.7,1082.7 L524.9,1082.6 L526.0,1082.8 L527.2,1083.0 L528.3,1083.2 L529.5,1083.3 L530.7,1083.6 L531.8,1084.0 L533.0,1084.4 L534.2,1084.7 L535.3,1084.8 L536.5,1084.6 L537.6,1084.7 L538.8,1085.1 L540.0,1085.6 L541.1,1086.2 L542.3,1086.6 L543.4,1087.1 L544.6,1087.6 L545.8,1088.1 L546.9,1088.6 L548.1,1089.1 L549.2,1089.7 L550.4,1090.4 L551.6,1091.0 L552.7,1091.6 L553.9,1092.2 L555.0,1092.8 L556.2,1093.5 L557.4,1094.3 L558.5,1095.0 L559.7,1095.5 L560.8,1095.8 L562.0,1096.2 L563.2,1096.9 L564.3,1097.8 L565.5,1098.7 L566.6,1099.6 L567.8,1100.2 L569.0,1100.8 L570.1,1101.5 L571.3,1102.1 L572.4,1102.6 L573.6,1103.0 L574.8,1103.3 L575.9,1103.7 L577.1,1104.3 L578.2,1105.2 L579.4,1106.0 L580.6,1106.5 L581.7,1106.8 L582.9,1107.1 L584.0,1107.6 L585.2,1108.1 L586.4,1108.7 L587.5,1109.1 L588.7,1109.4 L589.9,1109.5 L591.0,1109.6 L592.2,1109.8 L593.3,1110.1 L594.5,1110.5 L595.7,1111.0 L596.8,1111.4 L598.0,1111.9 L599.1,1112.5 L600.3,1113.0 L601.5,1113.4 L602.6,1113.5 L603.8,1113.4 L604.9,1113.2 L606.1,1113.1 L607.3,1113.2 L608.4,1113.5 L609.6,1113.8 L610.7,1114.2 L611.9,1114.5 L613.1,1114.9 L614.2,1115.4 L615.4,1115.8 L616.5,1116.0 L617.7,1116.1 L618.9,1116.0 L620.0,1115.7 L621.2,1115.5 L622.3,1115.3 L623.5,1115.3 L624.7,1115.6 L625.8,1115.8 L627.0,1116.1 L628.1,1116.4 L629.3,1116.7 L630.5,1116.8 L631.6,1117.0 L632.8,1117.0 L633.9,1117.0 L635.1,1116.9 L636.3,1116.7 L637.4,1116.6 L638.6,1116.7 L639.7,1116.7 L640.9,1116.5 L642.1,1116.1 L643.2,1115.8 L644.4,1115.9 L645.5,1116.4"/>
<path d="M43.3,1117.6 L44.5,1117.7 L45.6,1117.8 L46.8,1117.6 L47.9,1117.2 L49.1,1116.8 L50.3,1116.6 L51.4,1116.5 L52.6,1116.6 L53.7,1116.5 L54.9,1116.4 L56.1,1116.3 L57.2,1116.4 L58.4,1116.5 L59.5,1116.6 L60.7,1116.7 L61.9,1116.7 L63.0,1116.8 L64.2,1116.8 L65.3,1116.9 L66.5,1117.0 L67.7,1117.1 L68.8,1117.1 L70.0,1117.0 L71.1,1116.7 L72.3,1116.5 L73.5,1116.4 L74.6,1116.4 L75.8,1116.3 L77.0,1116.1 L78.1,1115.9 L79.3,1116.0 L80.4,1116.3 L81.6,1116.6 L82.8,1116.7 L83.9,1116.5 L85.1,1116.4 L86.2,1116.3 L87.4,1116.4 L88.6,1116.4 L89.7,1116.3 L90.9,1116.1 L92.0,1116.1 L93.2,1116.3 L94.4,1116.6 L95.5,1116.7 L96.7,1116.7 L97.8,1116.4 L99.0,1116.0 L100.2,1115.8 L101.3,1115.7 L102.5,1115.8 L103.6,1115.8 L104.8,1115.7 L106.0,1115.6 L107.1,1115.5 L108.3,1115.3 L109.4,1114.9 L110.6,1114.5 L111.8,1113.9 L112.9,1113.6 L114.1,1113.7 L115.2,1114.1 L116.4,1114.4 L117.6,1114.7 L118.7,1114.9 L119.9,1115.0 L121.0,1115.0 L122.2,1114.8 L123.4,1114.3 L124.5,1113.6 L125.7,1113.1 L126.8,1112.8 L128.0,1112.7 L129.2,1112.7 L130.3,1112.7 L131.5,1112.7 L132.7,1112.6 L133.8,1112.5 L135.0,1112.5 L136.1,1112.6 L137.3,1112.7 L138.5,1112.7 L139.6,1112.6 L140.8,1112.3 L141.9,1111.9 L143.1,1111.3 L144.3,1110.8 L145.4,1110.5 L146.6,1110.5 L147.7,1110.7 L148.9,1110.8 L150.1,1110.6 L151.2,1110.1 L152.4,1109.6 L153.5,1109.1 L154.7,1108.5 L155.9,1107.8 L157.0,1107.1 L158.2,1106.5 L159.3,1106.0 L160.5,1105.6 L161.7,1105.1 L162.8,1104.6 L164.0,1104.2 L165.1,1103.6 L166.3,1103.0 L167.5,1102.2 L168.6,1101.6 L169.8,1101.2 L170.9,1100.8 L172.1,1100.3 L173.3,1099.6 L174.4,1098.7 L175.6,1097.6 L176.7,1096.5 L177.9,1095.4 L179.1,1094.3 L180.2,1093.2 L181.4,1092.0 L182.5,1090.7 L183.7,1089.5 L184.9,1088.4 L186.0,1087.1 L187.2,1085.7 L188.4,1084.1 L189.5,1082.4 L190.7,1080.5 L191.8,1078.7 L193.0,1077.0 L194.2,1075.5 L195.3,1073.9 L196.5,1072.2 L197.6,1070.3 L198.8,1068.3 L200.0,1066.3 L201.1,1064.4 L202.3,1062.4 L203.4,1060.3 L204.6,1058.1 L205.8,1055.9 L206.9,1053.7 L208.1,1051.5 L209.2,1049.4 L210.4,1047.4 L211.6,1045.2 L212.7,1043.0 L213.9,1040.6 L215.0,1038.3 L216.2,1035.9 L217.4,1033.3 L218.5,1030.5 L219.7,1027.6 L220.8,1024.6 L222.0,1021.7 L223.2,1018.6 L224.3,1014.9 L225.5,1010.8 L226.6,1006.8 L227.8,1003.0 L229.0,999.4 L230.1,996.1 L231.3,993.1 L232.4,990.5 L233.6,988.7 L234.8,987.9 L235.9,988.1 L237.1,989.5 L238.2,992.3 L239.4,996.3 L240.6,1001.1 L241.7,1006.2 L242.9,1011.6 L244.0,1017.1 L245.2,1022.6 L246.4,1028.1 L247.5,1033.4 L248.7,1038.1 L249.9,1042.4 L251.0,1046.4 L252.2,1050.0 L253.3,1053.5 L254.5,1056.6 L255.7,1059.3 L256.8,1061.9 L258.0,1064.4 L259.1,1066.8 L260.3,1069.2 L261.5,1071.3 L262.6,1073.0 L263.8,1074.5 L264.9,1075.9 L266.1,1077.4 L267.3,1078.8 L268.4,1080.0 L269.6,1081.0 L270.7,1081.6 L271.9,1082.1 L273.1,1082.5 L274.2,1082.9 L275.4,1083.3 L276.5,1083.8 L277.7,1084.3 L278.9,1084.6 L280.0,1084.8 L281.2,1084.7 L282.3,1084.6 L283.5,1084.4 L284.7,1084.3 L285.8,1084.3 L287.0,1084.2 L288.1,1083.9 L289.3,1083.7 L290.5,1083.4 L291.6,1083.0 L292.8,1082.3 L293.9,1081.4 L295.1,1080.3 L296.3,1079.5 L297.4,1078.7 L298.6,1077.9 L299.7,1076.9 L300.9,1075.5 L302.1,1074.0 L303.2,1072.4 L304.4,1071.0 L305.6,1069.8 L306.7,1068.9 L307.9,1067.9 L309.0,1066.5 L310.2,1064.8 L311.4,1062.7 L312.5,1060.5 L313.7,1058.4 L314.8,1056.3 L316.0,1054.1 L317.2,1051.6 L318.3,1048.9 L319.5,1045.9 L320.6,1043.0 L321.8,1040.2 L323.0,1037.5 L324.1,1034.6 L325.3,1031.5 L326.4,1028.2 L327.6,1024.7 L328.8,1021.1 L329.9,1017.3 L331.1,1013.6 L332.2,1010.1 L333.4,1006.8 L334.6,1003.3 L335.7,999.7 L336.9,995.8 L338.0,991.8 L339.2,987.8 L340.4,984.0 L341.5,980.2 L342.7,976.6 L343.8,973.3 L345.0,970.4 L346.2,967.8 L347.3,965.6 L348.5,963.7 L349.6,962.2 L350.8,961.0 L352.0,960.1 L353.1,959.5 L354.3,959.3 L355.4,959.4 L356.6,959.6 L357.8,960.1 L358.9,961.1 L360.1,962.8 L361.3,964.9 L362.4,967.6 L363.6,970.5 L364.7,973.7 L365.9,977.0 L367.1,980.4 L368.2,983.7 L369.4,986.9 L370.5,990.3 L371.7,994.0 L372.9,997.8 L374.0,1001.8 L375.2,1005.7 L376.3,1009.6 L377.5,1013.3 L378.7,1017.1 L379.8,1020.6 L381.0,1024.0 L382.1,1027.3 L383.3,1030.5 L384.5,1033.7 L385.6,1036.9 L386.8,1040.1 L387.9,1043.1 L389.1,1046.0 L390.3,1048.8 L391.4,1051.5 L392.6,1054.2 L393.7,1056.7 L394.9,1059.1 L396.1,1061.2 L397.2,1063.2 L398.4,1065.0 L399.5,1066.7 L400.7,1068.3 L401.9,1069.7 L403.0,1071.2 L404.2,1072.7 L405.3,1074.3 L406.5,1076.0 L407.7,1077.5 L408.8,1078.8 L410.0,1079.8 L411.1,1080.7 L412.3,1081.6 L413.5,1082.6 L414.6,1083.4 L415.8,1084.0 L417.0,1084.5 L418.1,1084.9 L419.3,1085.4 L420.4,1085.9 L421.6,1086.4 L422.8,1086.8 L423.9,1087.2 L425.1,1087.6 L426.2,1087.8 L427.4,1088.0 L428.6,1087.9 L429.7,1087.6 L430.9,1087.0 L432.0,1086.3 L433.2,1085.8 L434.4,1085.5 L435.5,1085.3 L436.7,1085.0 L437.8,1084.5 L439.0,1083.9 L440.2,1083.4 L441.3,1083.2 L442.5,1083.0 L443.6,1082.7 L444.8,1082.4 L446.0,1082.0 L447.1,1081.9 L448.3,1082.1 L449.4,1082.6 L450.6,1083.3 L451.8,1084.2 L452.9,1085.1 L454.1,1086.1 L455.2,1086.9 L456.4,1087.8 L457.6,1088.6 L458.7,1089.4 L459.9,1090.1 L461.0,1090.8 L462.2,1091.3 L463.4,1091.5 L464.5,1091.6 L465.7,1091.7 L466.8,1091.9 L468.0,1092.2 L469.2,1092.4 L470.3,1092.5 L471.5,1092.5 L472.6,1092.5 L473.8,1092.3 L475.0,1092.0 L476.1,1091.7 L477.3,1091.4 L478.5,1091.2 L479.6,1091.2 L480.8,1091.2 L481.9,1091.2 L483.1,1091.1 L484.3,1090.7 L485.4,1090.1 L486.6,1089.6 L487.7,1089.4 L488.9,1089.4 L490.1,1089.4 L491.2,1089.2 L492.4,1088.8 L493.5,1088.2 L494.7,1087.6 L495.9,1087.2 L497.0,1087.0 L498.2,1086.6 L499.3,1086.2 L500.5,1085.7 L501.7,1085.2 L502.8,1084.8 L504.0,1084.5 L505.1,1084.4 L506.3,1084.4 L507.5,1084.3 L508.6,1084.1 L509.8,1083.7 L510.9,1083.2 L512.1,1082.8 L513.3,1082.4 L514.4,1082.0 L515.6,1081.6 L516.7,1081.4 L517.9,1081.3 L519.1,1081.2 L520.2,1081.2 L521.4,1081.3 L522.5,1081.6 L523.7,1082.0 L524.9,1082.4 L526.0,1082.6 L527.2,1082.8 L528.3,1082.7 L529.5,1082.5 L530.7,1082.3 L531.8,1082.4 L533.0,1082.7 L534.2,1083.4 L535.3,1084.1 L536.5,1084.8 L537.6,1085.2 L538.8,1085.4 L540.0,1085.5 L541.1,1085.6 L542.3,1085.9 L543.4,1086.4 L544.6,1087.1 L545.8,1087.9 L546.9,1088.7 L548.1,1089.5 L549.2,1090.2 L550.4,1090.7 L551.6,1091.2 L552.7,1091.5 L553.9,1091.9 L555.0,1092.4 L556.2,1092.9 L557.4,1093.5 L558.5,1094.0 L559.7,1094.5 L560.8,1095.2 L562.0,1096.3 L563.2,1097.5 L564.3,1098.6 L565.5,1099.5 L566.6,1100.1 L567.8,1100.5 L569.0,1100.7 L570.1,1101.0 L571.3,1101.4 L572.4,1102.0 L573.6,1102.7 L574.8,1103.6 L575.9,1104.3 L577.1,1104.8 L578.2,1105.2 L579.4,1105.7 L580.6,1106.2 L581.7,1106.7 L582.9,1107.3 L584.0,1107.7 L585.2,1108.1 L586.4,1108.5 L587.5,1108.8 L588.7,1109.1 L589.9,1109.7 L591.0,1110.4 L592.2,1111.1 L593.3,1111.5 L594.5,1111.9 L595.7,1112.3 L596.8,1112.8 L598.0,1113.3 L599.1,1113.5 L600.3,1113.6 L601.5,1113.8 L602.6,1114.1 L603.8,1114.6 L604.9,1114.8 L606.1,1114.8 L607.3,1114.8 L608.4,1114.8 L609.6,1114.9 L610.7,1115.0 L611.9,1115.1 L613.1,1115.0 L614.2,1115.0 L615.4,1115.3 L616.5,1115.8 L617.7,1116.2 L618.9,1116.6 L620.0,1116.8 L621.2,1116.9 L622.3,1117.0 L623.5,1117.2 L624.7,1117.4 L625.8,1117.4 L627.0,1117.1 L628.1,1116.8 L629.3,1116.6 L630.5,1116.5 L631.6,1116.6 L632.8,1116.9 L633.9,1117.2 L635.1,1117.3 L636.3,1117.2 L637.4,1116.9 L638.6,1116.8 L639.7,1117.0 L640.9,1117.4 L642.1,1117.7 L643.2,1117.9 L644.4,1118.1 L645.5,1118.3"/>
<path d="M43.3,1117.1 L44.5,1117.0 L45.6,1117.0 L46.8,1117.2 L47.9,1117.4 L49.1,1117.6 L50.3,1117.6 L51.4,1117.5 L52.6,1117.2 L53.7,1116.8 L54.9,1116.7 L56.1,1116.8 L57.2,1116.9 L58.4,1116.9 L59.5,1116.6 L60.7,1116.4 L61.9,1116.1 L63.0,1116.1 L64.2,1116.2 L65.3,1116.5 L66.5,1116.7 L67.7,1116.8 L68.8,1116.7 L70.0,1116.7 L71.1,1116.6 L72.3,1116.6 L73.5,1116.6 L74.6,1116.5 L75.8,1116.5 L77.0,1116.6 L78.1,1116.6 L79.3,1116.6 L80.4,1116.5 L81.6,1116.4 L82.8,1116.2 L83.9,1116.1 L85.1,1115.8 L86.2,1115.7 L87.4,1115.7 L88.6,1115.9 L89.7,1116.2 L90.9,1116.6 L92.0,1116.7 L93.2,1116.7 L94.4,1116.5 L95.5,1116.3 L96.7,1116.2 L97.8,1116.0 L99.0,1115.8 L100.2,1115.6 L101.3,1115.5 L102.5,1115.4 L103.6,1115.3 L104.8,1114.9 L106.0,1114.5 L107.1,1114.2 L108.3,1114.0 L109.4,1113.9 L110.6,1113.8 L111.8,1113.6 L112.9,1113.6 L114.1,1113.7 L115.2,1113.8 L116.4,1113.7 L117.6,1113.6 L118.7,1113.6 L119.9,1113.6 L121.0,1113.7 L122.2,1113.8 L123.4,1113.7 L124.5,1113.5 L125.7,1113.3 L126.8,1113.2 L128.0,1113.1 L129.2,1112.9 L130.3,1112.6 L131.5,1112.4 L132.7,1112.4 L133.8,1112.7 L135.0,1112.9 L136.1,1113.0 L137.3,1112.8 L138.5,1112.5 L139.6,1112.2 L140.8,1112.0 L141.9,1111.9 L143.1,1111.9 L144.3,1111.8 L145.4,1111.4 L146.6,1110.9 L147.7,1110.2 L148.9,1109.5 L150.1,1108.8 L151.2,1108.4 L152.4,1108.0 L153.5,1107.8 L154.7,1107.6 L155.9,1107.3 L157.0,1107.1 L158.2,1107.0 L159.3,1106.7 L160.5,1106.3 L161.7,1105.7 L162.8,1105.1 L164.0,1104.7 L165.1,1104.4 L166.3,1104.0 L167.5,1103.4 L168.6,1102.6 L169.8,1101.6 L170.9,1100.6 L172.1,1099.6 L173.3,1098.7 L174.4,1098.0 L175.6,1097.4 L176.7,1096.6 L177.9,1095.7 L179.1,1094.7 L180.2,1093.5 L181.4,1092.2 L182.5,1090.9 L183.7,1089.6 L184.9,1088.4 L186.0,1087.2 L187.2,1085.9 L188.4,1084.4 L189.5,1082.9 L190.7,1081.4 L191.8,1079.7 L193.0,1078.0 L194.2,1076.3 L195.3,1074.6 L196.5,1073.0 L197.6,1071.2 L198.8,1069.3 L200.0,1067.3 L201.1,1065.3 L202.3,1063.3 L203.4,1061.2 L204.6,1058.9 L205.8,1056.6 L206.9,1054.4 L208.1,1052.2 L209.2,1050.0 L210.4,1047.6 L211.6,1045.3 L212.7,1043.1 L213.9,1041.1 L215.0,1039.1 L216.2,1036.9 L217.4,1034.2 L218.5,1031.2 L219.7,1028.0 L220.8,1024.8 L222.0,1021.7 L223.2,1018.6 L224.3,1015.4 L225.5,1012.1 L226.6,1008.7 L227.8,1005.4 L229.0,1002.1 L230.1,999.0 L231.3,996.1 L232.4,993.6 L233.6,991.9 L234.8,991.1 L235.9,991.3 L237.1,992.6 L238.2,995.0 L239.4,998.4 L240.6,1002.6 L241.7,1007.5 L242.9,1012.7 L244.0,1018.1 L245.2,1023.5 L246.4,1028.5 L247.5,1033.0 L248.7,1037.3 L249.9,1041.5 L251.0,1045.8 L252.2,1050.0 L253.3,1053.9 L254.5,1057.4 L255.7,1060.4 L256.8,1063.1 L258.0,1065.5 L259.1,1067.6 L260.3,1069.2 L261.5,1070.6 L262.6,1072.1 L263.8,1073.7 L264.9,1075.3 L266.1,1076.8 L267.3,1078.1 L268.4,1079.0 L269.6,1079.8 L270.7,1080.5 L271.9,1081.4 L273.1,1082.1 L274.2,1082.7 L275.4,1083.1 L276.5,1083.4 L277.7,1083.7 L278.9,1083.9 L280.0,1084.1 L281.2,1084.2 L282.3,1084.3 L283.5,1084.4 L284.7,1084.4 L285.8,1084.2 L287.0,1084.0 L288.1,1083.8 L289.3,1083.5 L290.5,1082.9 L291.6,1082.0 L292.8,1081.0 L293.9,1080.1 L295.1,1079.4 L296.3,1078.9 L297.4,1078.4 L298.6,1077.7 L299.7,1076.9 L300.9,1075.7 L302.1,1074.3 L303.2,1072.7 L304.4,1071.2 L305.6,1069.8 L306.7,1068.4 L307.9,1066.8 L309.0,1065.2 L310.2,1063.4 L311.4,1061.5 L312.5,1059.3 L313.7,1057.0 L314.8,1054.6 L316.0,1052.3 L317.2,1050.0 L318.3,1047.5 L319.5,1044.9 L320.6,1042.3 L321.8,1039.6 L323.0,1036.9 L324.1,1034.0 L325.3,1030.9 L326.4,1027.5 L327.6,1024.1 L328.8,1020.4 L329.9,1016.7 L331.1,1012.8 L332.2,1008.9 L333.4,1005.2 L334.6,1001.5 L335.7,997.9 L336.9,994.1 L338.0,990.3 L339.2,986.5 L340.4,982.8 L341.5,979.2 L342.7,975.7 L343.8,972.4 L345.0,969.5 L346.2,966.9 L347.3,964.5 L348.5,962.5 L349.6,960.7 L350.8,959.2 L352.0,958.1 L353.1,957.3 L354.3,956.6 L355.4,956.4 L356.6,956.7 L357.8,957.6 L358.9,959.0 L360.1,960.9 L361.3,963.2 L362.4,965.9 L363.6,968.6 L364.7,971.4 L365.9,974.2 L367.1,977.1 L368.2,980.4 L369.4,984.0 L370.5,987.9 L371.7,992.0 L372.9,996.2 L374.0,1000.1 L375.2,1003.9 L376.3,1007.7 L377.5,1011.6 L378.7,1015.4 L379.8,1019.1 L381.0,1022.6 L382.1,1026.0 L383.3,1029.3 L384.5,1032.6 L385.6,1035.9 L386.8,1039.1 L387.9,1042.2 L389.1,1045.2 L390.3,1047.8 L391.4,1050.3 L392.6,1052.6 L393.7,1055.0 L394.9,1057.5 L396.1,1059.8 L397.2,1062.0 L398.4,1064.0 L399.5,1065.7 L400.7,1067.4 L401.9,1069.1 L403.0,1070.8 L404.2,1072.4 L405.3,1073.8 L406.5,1075.1 L407.7,1076.3 L408.8,1077.5 L410.0,1078.8 L411.1,1080.1 L412.3,1081.4 L413.5,1082.6 L414.6,1083.6 L415.8,1084.5 L417.0,1085.4 L418.1,1086.0 L419.3,1086.4 L420.4,1086.7 L421.6,1086.8 L422.8,1086.9 L423.9,1087.0 L425.1,1087.1 L426.2,1087.2 L427.4,1087.2 L428.6,1087.1 L429.7,1087.1 L430.9,1087.0 L432.0,1086.9 L433.2,1086.7 L434.4,1086.5 L435.5,1086.1 L436.7,1085.6 L437.8,1085.0 L439.0,1084.5 L440.2,1084.1 L441.3,1083.6 L442.5,1083.1 L443.6,1082.7 L444.8,1082.6 L446.0,1082.6 L447.1,1082.8 L448.3,1083.0 L449.4,1083.2 L450.6,1083.5 L451.8,1083.9 L452.9,1084.5 L454.1,1085.2 L455.2,1086.1 L456.4,1087.0 L457.6,1087.9 L458.7,1088.8 L459.9,1089.5 L461.0,1090.1 L462.2,1090.6 L463.4,1090.9 L464.5,1091.0 L465.7,1091.0 L466.8,1091.2 L468.0,1091.6 L469.2,1092.0 L470.3,1092.2 L471.5,1092.0 L472.6,1091.7 L473.8,1091.5 L475.0,1091.5 L476.1,1091.5 L477.3,1091.4 L478.5,1091.2 L479.6,1091.1 L480.8,1091.2 L481.9,1091.4 L483.1,1091.3 L484.3,1091.1 L485.4,1090.5 L486.6,1089.8 L487.7,1089.1 L488.9,1088.6 L490.1,1088.2 L491.2,1087.9 L492.4,1087.7 L493.5,1087.4 L494.7,1087.1 L495.9,1086.8 L497.0,1086.6 L498.2,1086.4 L499.3,1086.1 L500.5,1085.7 L501.7,1085.1 L502.8,1084.5 L504.0,1083.9 L505.1,1083.4 L506.3,1082.9 L507.5,1082.6 L508.6,1082.4 L509.8,1082.3 L510.9,1082.4 L512.1,1082.5 L513.3,1082.5 L514.4,1082.4 L515.6,1082.1 L516.7,1081.7 L517.9,1081.4 L519.1,1081.2 L520.2,1081.1 L521.4,1081.0 L522.5,1081.1 L523.7,1081.4 L524.9,1081.8 L526.0,1082.1 L527.2,1082.1 L528.3,1081.9 L529.5,1081.6 L530.7,1081.6 L531.8,1081.8 L533.0,1082.3 L534.2,1083.0 L535.3,1083.8 L536.5,1084.6 L537.6,1085.2 L538.8,1085.5 L540.0,1085.7 L541.1,1085.8 L542.3,1086.0 L543.4,1086.4 L544.6,1086.8 L545.8,1087.4 L546.9,1088.1 L548.1,1088.7 L549.2,1089.1 L550.4,1089.4 L551.6,1089.8 L552.7,1090.3 L553.9,1091.2 L555.0,1092.1 L556.2,1093.0 L557.4,1093.9 L558.5,1094.7 L559.7,1095.1 L560.8,1095.2 L562.0,1095.3 L563.2,1095.6 L564.3,1096.2 L565.5,1097.2 L566.6,1098.1 L567.8,1098.8 L569.0,1099.3 L570.1,1099.7 L571.3,1100.3 L572.4,1101.0 L573.6,1101.8 L574.8,1102.7 L575.9,1103.5 L577.1,1104.3 L578.2,1105.1 L579.4,1105.8 L580.6,1106.4 L581.7,1106.7 L582.9,1106.9 L584.0,1107.2 L585.2,1107.6 L586.4,1108.2 L587.5,1108.8 L588.7,1109.4 L589.9,1109.9 L591.0,1110.3 L592.2,1110.6 L593.3,1110.9 L594.5,1111.2 L595.7,1111.5 L596.8,1111.8 L598.0,1112.2 L599.1,1112.5 L600.3,1112.6 L601.5,1112.7 L602.6,1112.9 L603.8,1113.2 L604.9,1113.8 L606.1,1114.4 L607.3,1115.0 L608.4,1115.2 L609.6,1115.2 L610.7,1115.1 L611.9,1115.1 L613.1,1115.1 L614.2,1115.2 L615.4,1115.4 L616.5,1115.6 L617.7,1115.8 L618.9,1115.8 L620.0,1115.7 L621.2,1115.6 L622.3,1115.5 L623.5,1115.8 L624.7,1116.3 L625.8,1116.9 L627.0,1117.4 L628.1,1117.7 L629.3,1117.7 L630.5,1117.7 L631.6,1117.6 L632.8,1117.7 L633.9,1117.8 L635.1,1117.9 L636.3,1117.9 L637.4,1117.9 L638.6,1117.6 L639.7,1117.5 L640.9,1117.4 L642.1,1117.5 L643.2,1117.8 L644.4,1118.1 L645.5,1118.2"/>
<path d="M43.3,1116.1 L44.5,1116.2 L45.6,1116.6 L46.8,1116.8 L47.9,1116.8 L49.1,1116.5 L50.3,1116.1 L51.4,1115.9 L52.6,1116.0 L53.7,1116.3 L54.9,1116.5 L56.1,1116.7 L57.2,1116.7 L58.4,1116.7 L59.5,1116.7 L60.7,1116.7 L61.9,1116.7 L63.0,1116.8 L64.2,1116.8 L65.3,1116.7 L66.5,1116.6 L67.7,1116.4 L68.8,1116.3 L70.0,1116.1 L71.1,1115.9 L72.3,1115.8 L73.5,1115.8 L74.6,1116.0 L75.8,1116.3 L77.0,1116.3 L78.1,1116.1 L79.3,1115.8 L80.4,1115.6 L81.6,1115.5 L82.8,1115.4 L83.9,1115.4 L85.1,1115.3 L86.2,1115.4 L87.4,1115.6 L88.6,1115.7 L89.7,1115.6 L90.9,1115.3 L92.0,1115.1 L93.2,1115.0 L94.4,1114.9 L95.5,1114.7 L96.7,1114.5 L97.8,1114.4 L99.0,1114.3 L100.2,1114.4 L101.3,1114.5 L102.5,1114.5 L103.6,1114.5 L104.8,1114.5 L106.0,1114.4 L107.1,1114.3 L108.3,1114.2 L109.4,1114.1 L110.6,1113.9 L111.8,1113.6 L112.9,1113.6 L114.1,1113.8 L115.2,1114.1 L116.4,1114.4 L117.6,1114.4 L118.7,1114.2 L119.9,1113.9 L121.0,1113.5 L122.2,1113.2 L123.4,1113.0 L124.5,1112.8 L125.7,1112.7 L126.8,1112.9 L128.0,1113.1 L129.2,1113.2 L130.3,1113.1 L131.5,1112.8 L132.7,1112.6 L133.8,1112.6 L135.0,1112.7 L136.1,1112.7 L137.3,1112.4 L138.5,1111.9 L139.6,1111.4 L140.8,1111.1 L141.9,1110.9 L143.1,1110.6 L144.3,1110.3 L145.4,1110.1 L146.6,1109.8 L147.7,1109.5 L148.9,1109.2 L150.1,1109.1 L151.2,1109.0 L152.4,1108.9 L153.5,1108.6 L154.7,1108.0 L155.9,1107.5 L157.0,1107.2 L158.2,1106.8 L159.3,1106.5 L160.5,1106.0 L161.7,1105.5 L162.8,1104.8 L164.0,1104.1 L165.1,1103.4 L166.3,1102.9 L167.5,1102.4 L168.6,1101.9 L169.8,1101.5 L170.9,1100.9 L172.1,1100.2 L173.3,1099.4 L174.4,1098.4 L175.6,1097.4 L176.7,1096.3 L177.9,1095.2 L179.1,1094.1 L180.2,1093.0 L181.4,1091.8 L182.5,1090.8 L183.7,1089.7 L184.9,1088.8 L186.0,1088.0 L187.2,1087.0 L188.4,1085.8 L189.5,1084.2 L190.7,1082.5 L191.8,1080.7 L193.0,1079.1 L194.2,1077.6 L195.3,1076.0 L196.5,1074.3 L197.6,1072.5 L198.8,1070.7 L200.0,1068.8 L201.1,1066.9 L202.3,1065.1 L203.4,1063.4 L204.6,1061.7 L205.8,1059.7 L206.9,1057.5 L208.1,1055.1 L209.2,1052.6 L210.4,1050.3 L211.6,1048.0 L212.7,1045.6 L213.9,1043.1 L215.0,1040.6 L216.2,1038.2 L217.4,1035.8 L218.5,1033.5 L219.7,1031.0 L220.8,1028.3 L222.0,1025.3 L223.2,1022.0 L224.3,1018.6 L225.5,1015.2 L226.6,1012.0 L227.8,1008.8 L229.0,1005.2 L230.1,1001.7 L231.3,998.7 L232.4,996.4 L233.6,995.1 L234.8,994.8 L235.9,995.5 L237.1,997.0 L238.2,999.3 L239.4,1002.5 L240.6,1006.2 L241.7,1010.6 L242.9,1015.4 L244.0,1020.5 L245.2,1025.6 L246.4,1030.4 L247.5,1035.0 L248.7,1039.3 L249.9,1043.7 L251.0,1048.0 L252.2,1051.9 L253.3,1055.1 L254.5,1057.8 L255.7,1060.2 L256.8,1062.5 L258.0,1064.9 L259.1,1067.2 L260.3,1069.3 L261.5,1071.1 L262.6,1072.7 L263.8,1074.1 L264.9,1075.3 L266.1,1076.4 L267.3,1077.5 L268.4,1078.5 L269.6,1079.3 L270.7,1079.9 L271.9,1080.4 L273.1,1081.0 L274.2,1081.7 L275.4,1082.5 L276.5,1083.1 L277.7,1083.4 L278.9,1083.4 L280.0,1083.4 L281.2,1083.4 L282.3,1083.4 L283.5,1083.2 L284.7,1082.8 L285.8,1082.4 L287.0,1082.2 L288.1,1082.2 L289.3,1082.1 L290.5,1081.9 L291.6,1081.6 L292.8,1081.0 L293.9,1080.2 L295.1,1079.1 L296.3,1077.7 L297.4,1076.4 L298.6,1075.3 L299.7,1074.6 L300.9,1074.0 L302.1,1073.2 L303.2,1072.0 L304.4,1070.6 L305.6,1069.2 L306.7,1067.8 L307.9,1066.1 L309.0,1064.2 L310.2,1062.0 L311.4,1059.8 L312.5,1057.7 L313.7,1055.7 L314.8,1053.6 L316.0,1051.2 L317.2,1048.7 L318.3,1046.0 L319.5,1043.2 L320.6,1040.4 L321.8,1037.6 L323.0,1035.0 L324.1,1032.2 L325.3,1029.1 L326.4,1025.6 L327.6,1022.2 L328.8,1018.8 L329.9,1015.3 L331.1,1011.6 L332.2,1007.7 L333.4,1003.9 L334.6,1000.1 L335.7,996.4 L336.9,992.7 L338.0,988.8 L339.2,985.0 L340.4,981.2 L341.5,977.7 L342.7,974.5 L343.8,971.5 L345.0,968.7 L346.2,966.0 L347.3,963.4 L348.5,961.1 L349.6,959.1 L350.8,957.4 L352.0,955.9 L353.1,954.8 L354.3,954.3 L355.4,954.6 L356.6,955.4 L357.8,956.6 L358.9,958.0 L360.1,959.6 L361.3,961.5 L362.4,963.6 L363.6,966.1 L364.7,969.0 L365.9,972.3 L367.1,975.9 L368.2,979.4 L369.4,983.0 L370.5,986.9 L371.7,991.0 L372.9,995.2 L374.0,999.3 L375.2,1003.2 L376.3,1007.0 L377.5,1011.0 L378.7,1014.9 L379.8,1018.4 L381.0,1021.6 L382.1,1024.8 L383.3,1028.0 L384.5,1031.3 L385.6,1034.5 L386.8,1037.6 L387.9,1040.6 L389.1,1043.6 L390.3,1046.4 L391.4,1048.9 L392.6,1051.3 L393.7,1053.7 L394.9,1056.1 L396.1,1058.6 L397.2,1060.9 L398.4,1063.0 L399.5,1064.9 L400.7,1066.7 L401.9,1068.5 L403.0,1070.1 L404.2,1071.7 L405.3,1073.2 L406.5,1074.4 L407.7,1075.6 L408.8,1076.8 L410.0,1078.0 L411.1,1079.2 L412.3,1080.2 L413.5,1081.2 L414.6,1082.2 L415.8,1083.2 L417.0,1084.2 L418.1,1085.1 L419.3,1085.6 L420.4,1085.9 L421.6,1086.0 L422.8,1086.1 L423.9,1086.3 L425.1,1086.6 L426.2,1086.9 L427.4,1087.0 L428.6,1086.9 L429.7,1086.6 L430.9,1086.5 L432.0,1086.3 L433.2,1085.9 L434.4,1085.5 L435.5,1085.1 L436.7,1084.8 L437.8,1084.7 L439.0,1084.4 L440.2,1083.7 L441.3,1082.9 L442.5,1082.2 L443.6,1081.6 L444.8,1081.2 L446.0,1081.0 L447.1,1081.1 L448.3,1081.3 L449.4,1081.8 L450.6,1082.4 L451.8,1083.2 L452.9,1084.1 L454.1,1084.9 L455.2,1085.6 L456.4,1086.1 L457.6,1086.7 L458.7,1087.4 L459.9,1088.4 L461.0,1089.3 L462.2,1090.0 L463.4,1090.7 L464.5,1091.2 L465.7,1091.6 L466.8,1092.0 L468.0,1092.2 L469.2,1092.2 L470.3,1092.1 L471.5,1091.8 L472.6,1091.6 L473.8,1091.6 L475.0,1091.8 L476.1,1092.1 L477.3,1092.2 L478.5,1091.9 L479.6,1091.4 L480.8,1090.9 L481.9,1090.7 L483.1,1090.5 L484.3,1090.3 L485.4,1090.0 L486.6,1089.5 L487.7,1089.1 L488.9,1088.7 L490.1,1088.1 L491.2,1087.5 L492.4,1087.0 L493.5,1086.7 L494.7,1086.4 L495.9,1086.1 L497.0,1085.5 L498.2,1084.8 L499.3,1084.2 L500.5,1083.7 L501.7,1083.3 L502.8,1083.2 L504.0,1083.3 L505.1,1083.4 L506.3,1083.5 L507.5,1083.2 L508.6,1082.7 L509.8,1082.2 L510.9,1081.7 L512.1,1081.3 L513.3,1081.2 L514.4,1081.1 L515.6,1081.0 L516.7,1081.0 L517.9,1080.8 L519.1,1080.7 L520.2,1080.6 L521.4,1080.5 L522.5,1080.4 L523.7,1080.6 L524.9,1080.8 L526.0,1081.0 L527.2,1081.2 L528.3,1081.2 L529.5,1081.2 L530.7,1081.3 L531.8,1081.6 L533.0,1082.1 L534.2,1082.5 L535.3,1082.8 L536.5,1083.1 L537.6,1083.4 L538.8,1083.8 L540.0,1084.2 L541.1,1084.5 L542.3,1084.8 L543.4,1085.0 L544.6,1085.5 L545.8,1086.3 L546.9,1087.3 L548.1,1088.3 L549.2,1089.2 L550.4,1089.8 L551.6,1090.1 L552.7,1090.5 L553.9,1090.9 L555.0,1091.2 L556.2,1091.6 L557.4,1092.4 L558.5,1093.3 L559.7,1094.3 L560.8,1095.2 L562.0,1095.8 L563.2,1096.2 L564.3,1096.4 L565.5,1096.8 L566.6,1097.3 L567.8,1098.1 L569.0,1099.1 L570.1,1100.0 L571.3,1100.6 L572.4,1101.1 L573.6,1101.4 L574.8,1101.7 L575.9,1102.1 L577.1,1102.8 L578.2,1103.6 L579.4,1104.4 L580.6,1105.3 L581.7,1106.4 L582.9,1107.4 L584.0,1108.3 L585.2,1108.9 L586.4,1109.3 L587.5,1109.6 L588.7,1110.0 L589.9,1110.3 L591.0,1110.3 L592.2,1110.1 L593.3,1110.0 L594.5,1110.3 L595.7,1110.9 L596.8,1111.6 L598.0,1112.1 L599.1,1112.3 L600.3,1112.5 L601.5,1112.8 L602.6,1113.2 L603.8,1113.8 L604.9,1114.2 L606.1,1114.5 L607.3,1114.5 L608.4,1114.4 L609.6,1114.3 L610.7,1114.3 L611.9,1114.5 L613.1,1114.9 L614.2,1115.5 L615.4,1116.1 L616.5,1116.5 L617.7,1116.8 L618.9,1116.9 L620.0,1116.8 L621.2,1116.8 L622.3,1116.5 L623.5,1116.2 L624.7,1116.0 L625.8,1116.0 L627.0,1116.3 L628.1,1116.8 L629.3,1117.0 L630.5,1117.0 L631.6,1117.1 L632.8,1117.5 L633.9,1117.9 L635.1,1118.2 L636.3,1118.2 L637.4,1117.8 L638.6,1117.3 L639.7,1117.0 L640.9,1116.9 L642.1,1117.0 L643.2,1117.1 L644.4,1117.2 L645.5,1117.1"/>
<path d="M43.3,1117.1 L44.5,1117.1 L45.6,1117.1 L46.8,1117.2 L47.9,1117.3 L49.1,1117.3 L50.3,1117.1 L51.4,1116.8 L52.6,1116.5 L53.7,1116.3 L54.9,1116.3 L56.1,1116.4 L57.2,1116.6 L58.4,1116.7 L59.5,1116.7 L60.7,1116.8 L61.9,1116.9 L63.0,1117.0 L64.2,1116.9 L65.3,1116.8 L66.5,1116.8 L67.7,1116.7 L68.8,1116.7 L70.0,1116.6 L71.1,1116.5 L72.3,1116.4 L73.5,1116.4 L74.6,1116.5 L75.8,1116.7 L77.0,1116.8 L78.1,1116.9 L79.3,1116.9 L80.4,1116.9 L81.6,1116.7 L82.8,1116.5 L83.9,1116.3 L85.1,1116.0 L86.2,1115.8 L87.4,1115.5 L88.6,1115.2 L89.7,1115.0 L90.9,1114.7 L92.0,1114.6 L93.2,1114.6 L94.4,1114.7 L95.5,1114.8 L96.7,1114.9 L97.8,1114.8 L99.0,1114.6 L100.2,1114.5 L101.3,1114.7 L102.5,1115.0 L103.6,1115.3 L104.8,1115.5 L106.0,1115.5 L107.1,1115.5 L108.3,1115.4 L109.4,1115.3 L110.6,1114.8 L111.8,1114.3 L112.9,1113.9 L114.1,1113.8 L115.2,1113.9 L116.4,1114.2 L117.6,1114.2 L118.7,1114.0 L119.9,1113.7 L121.0,1113.5 L122.2,1113.4 L123.4,1113.5 L124.5,1113.5 L125.7,1113.6 L126.8,1113.7 L128.0,1113.8 L129.2,1113.7 L130.3,1113.6 L131.5,1113.5 L132.7,1113.3 L133.8,1113.0 L135.0,1112.7 L136.1,1112.3 L137.3,1111.7 L138.5,1111.2 L139.6,1110.9 L140.8,1111.0 L141.9,1111.3 L143.1,1111.5 L144.3,1111.4 L145.4,1111.2 L146.6,1110.9 L147.7,1110.5 L148.9,1110.1 L150.1,1109.9 L151.2,1109.8 L152.4,1110.0 L153.5,1110.0 L154.7,1109.8 L155.9,1109.5 L157.0,1109.0 L158.2,1108.4 L159.3,1107.9 L160.5,1107.4 L161.7,1106.9 L162.8,1106.4 L164.0,1106.0 L165.1,1105.6 L166.3,1105.4 L167.5,1105.1 L168.6,1104.6 L169.8,1103.9 L170.9,1103.0 L172.1,1102.1 L173.3,1101.3 L174.4,1100.5 L175.6,1099.6 L176.7,1098.7 L177.9,1097.8 L179.1,1097.0 L180.2,1096.1 L181.4,1095.2 L182.5,1094.3 L183.7,1093.2 L184.9,1092.1 L186.0,1091.2 L187.2,1090.3 L188.4,1089.3 L189.5,1088.2 L190.7,1087.0 L191.8,1085.7 L193.0,1084.4 L194.2,1083.1 L195.3,1081.6 L196.5,1079.8 L197.6,1077.9 L198.8,1076.1 L200.0,1074.4 L201.1,1072.7 L202.3,1071.1 L203.4,1069.7 L204.6,1068.3 L205.8,1066.8 L206.9,1064.9 L208.1,1062.8 L209.2,1060.4 L210.4,1058.1 L211.6,1056.1 L212.7,1054.3 L213.9,1052.5 L215.0,1050.8 L216.2,1048.9 L217.4,1046.9 L218.5,1044.8 L219.7,1042.6 L220.8,1040.4 L222.0,1037.9 L223.2,1035.1 L224.3,1032.1 L225.5,1028.9 L226.6,1025.6 L227.8,1022.6 L229.0,1020.0 L230.1,1017.6 L231.3,1015.3 L232.4,1013.2 L233.6,1011.7 L234.8,1011.1 L235.9,1011.5 L237.1,1012.9 L238.2,1014.9 L239.4,1017.6 L240.6,1020.9 L241.7,1024.6 L242.9,1028.5 L244.0,1032.7 L245.2,1036.9 L246.4,1041.0 L247.5,1044.9 L248.7,1048.6 L249.9,1052.1 L251.0,1055.4 L252.2,1058.5 L253.3,1061.3 L254.5,1063.8 L255.7,1066.0 L256.8,1068.0 L258.0,1070.0 L259.1,1071.8 L260.3,1073.4 L261.5,1074.7 L262.6,1075.9 L263.8,1077.1 L264.9,1078.2 L266.1,1079.2 L267.3,1080.2 L268.4,1081.2 L269.6,1082.2 L270.7,1083.3 L271.9,1084.2 L273.1,1084.7 L274.2,1084.9 L275.4,1084.9 L276.5,1084.8 L277.7,1084.7 L278.9,1084.7 L280.0,1084.7 L281.2,1084.5 L282.3,1084.2 L283.5,1084.0 L284.7,1083.9 L285.8,1083.9 L287.0,1083.9 L288.1,1083.7 L289.3,1083.3 L290.5,1082.7 L291.6,1082.2 L292.8,1081.6 L293.9,1080.9 L295.1,1080.1 L296.3,1079.1 L297.4,1078.1 L298.6,1077.1 L299.7,1076.1 L300.9,1075.2 L302.1,1074.2 L303.2,1072.9 L304.4,1071.3 L305.6,1069.5 L306.7,1067.8 L307.9,1066.1 L309.0,1064.4 L310.2,1062.6 L311.4,1060.4 L312.5,1058.0 L313.7,1055.6 L314.8,1053.5 L316.0,1051.4 L317.2,1049.4 L318.3,1047.1 L319.5,1044.4 L320.6,1041.2 L321.8,1037.9 L323.0,1034.8 L324.1,1031.7 L325.3,1028.4 L326.4,1025.0 L327.6,1021.6 L328.8,1018.0 L329.9,1014.4 L331.1,1010.7 L332.2,1007.0 L333.4,1003.4 L334.6,999.8 L335.7,996.2 L336.9,992.2 L338.0,988.2 L339.2,984.2 L340.4,980.2 L341.5,976.4 L342.7,972.8 L343.8,969.5 L345.0,966.5 L346.2,963.7 L347.3,961.2 L348.5,959.1 L349.6,957.4 L350.8,956.0 L352.0,954.8 L353.1,953.8 L354.3,953.2 L355.4,953.3 L356.6,953.9 L357.8,955.0 L358.9,956.3 L360.1,957.9 L361.3,959.8 L362.4,962.2 L363.6,965.0 L364.7,968.3 L365.9,971.9 L367.1,975.5 L368.2,979.1 L369.4,982.7 L370.5,986.3 L371.7,990.0 L372.9,993.9 L374.0,998.0 L375.2,1002.1 L376.3,1006.2 L377.5,1010.0 L378.7,1013.7 L379.8,1017.4 L381.0,1021.0 L382.1,1024.5 L383.3,1027.7 L384.5,1030.7 L385.6,1033.5 L386.8,1036.5 L387.9,1039.6 L389.1,1042.7 L390.3,1045.8 L391.4,1048.8 L392.6,1051.4 L393.7,1053.8 L394.9,1056.1 L396.1,1058.4 L397.2,1060.5 L398.4,1062.5 L399.5,1064.4 L400.7,1066.1 L401.9,1067.9 L403.0,1069.8 L404.2,1071.8 L405.3,1073.6 L406.5,1075.0 L407.7,1076.1 L408.8,1077.0 L410.0,1078.1 L411.1,1079.0 L412.3,1079.8 L413.5,1080.5 L414.6,1081.2 L415.8,1082.1 L417.0,1083.1 L418.1,1084.1 L419.3,1084.7 L420.4,1085.2 L421.6,1085.6 L422.8,1086.0 L423.9,1086.5 L425.1,1086.9 L426.2,1087.1 L427.4,1087.3 L428.6,1087.6 L429.7,1087.6 L430.9,1087.5 L432.0,1087.2 L433.2,1086.8 L434.4,1086.3 L435.5,1085.8 L436.7,1085.2 L437.8,1084.6 L439.0,1084.1 L440.2,1083.6 L441.3,1083.1 L442.5,1082.7 L443.6,1082.5 L444.8,1082.5 L446.0,1082.6 L447.1,1082.7 L448.3,1082.9 L449.4,1083.3 L450.6,1084.0 L451.8,1084.7 L452.9,1085.6 L454.1,1086.3 L455.2,1087.0 L456.4,1087.6 L457.6,1088.3 L458.7,1088.8 L459.9,1089.2 L461.0,1089.7 L462.2,1090.2 L463.4,1090.7 L464.5,1091.2 L465.7,1091.6 L466.8,1091.9 L468.0,1092.2 L469.2,1092.4 L470.3,1092.4 L471.5,1092.4 L472.6,1092.3 L473.8,1092.3 L475.0,1092.3 L476.1,1092.4 L477.3,1092.3 L478.5,1092.0 L479.6,1091.5 L480.8,1090.9 L481.9,1090.4 L483.1,1090.1 L484.3,1089.9 L485.4,1089.7 L486.6,1089.6 L487.7,1089.3 L488.9,1089.0 L490.1,1088.7 L491.2,1088.4 L492.4,1088.1 L493.5,1087.7 L494.7,1087.0 L495.9,1086.1 L497.0,1085.3 L498.2,1084.6 L499.3,1084.4 L500.5,1084.5 L501.7,1084.7 L502.8,1084.6 L504.0,1084.2 L505.1,1083.9 L506.3,1083.5 L507.5,1083.1 L508.6,1082.7 L509.8,1082.2 L510.9,1081.7 L512.1,1081.4 L513.3,1081.2 L514.4,1081.1 L515.6,1081.0 L516.7,1080.8 L517.9,1080.7 L519.1,1080.6 L520.2,1080.6 L521.4,1080.5 L522.5,1080.4 L523.7,1080.3 L524.9,1080.3 L526.0,1080.4 L527.2,1080.6 L528.3,1080.9 L529.5,1081.3 L530.7,1081.7 L531.8,1082.1 L533.0,1082.3 L534.2,1082.5 L535.3,1082.8 L536.5,1083.0 L537.6,1083.4 L538.8,1083.9 L540.0,1084.3 L541.1,1084.5 L542.3,1084.8 L543.4,1085.0 L544.6,1085.4 L545.8,1085.8 L546.9,1086.3 L548.1,1086.8 L549.2,1087.5 L550.4,1088.3 L551.6,1089.1 L552.7,1089.7 L553.9,1090.3 L555.0,1091.0 L556.2,1091.8 L557.4,1092.6 L558.5,1093.3 L559.7,1093.9 L560.8,1094.5 L562.0,1095.1 L563.2,1095.9 L564.3,1096.7 L565.5,1097.5 L566.6,1098.1 L567.8,1098.7 L569.0,1099.4 L570.1,1100.4 L571.3,1101.5 L572.4,1102.4 L573.6,1102.9 L574.8,1103.1 L575.9,1103.1 L577.1,1103.4 L578.2,1103.9 L579.4,1104.6 L580.6,1105.3 L581.7,1106.0 L582.9,1106.7 L584.0,1107.4 L585.2,1107.9 L586.4,1108.4 L587.5,1108.8 L588.7,1109.1 L589.9,1109.3 L591.0,1109.5 L592.2,1109.9 L593.3,1110.5 L594.5,1111.4 L595.7,1112.2 L596.8,1112.7 L598.0,1112.9 L599.1,1112.9 L600.3,1113.0 L601.5,1113.2 L602.6,1113.6 L603.8,1113.8 L604.9,1113.9 L606.1,1114.0 L607.3,1114.0 L608.4,1114.1 L609.6,1114.2 L610.7,1114.5 L611.9,1114.9 L613.1,1115.3 L614.2,1115.5 L615.4,1115.4 L616.5,1115.2 L617.7,1115.1 L618.9,1115.3 L620.0,1115.9 L621.2,1116.6 L622.3,1117.2 L623.5,1117.5 L624.7,1117.5 L625.8,1117.3 L627.0,1117.0 L628.1,1116.8 L629.3,1116.7 L630.5,1116.7 L631.6,1116.9 L632.8,1117.1 L633.9,1117.3 L635.1,1117.5 L636.3,1117.6 L637.4,1117.5 L638.6,1117.4 L639.7,1117.1 L640.9,1116.9 L642.1,1116.8 L643.2,1116.9 L644.4,1117.1 L645.5,1117.3"/>
</g>
<rect x="43.3" y="589.5" width="602.4" height="532.5" fill="none" stroke="#4a4a4a" stroke-width="2.0"/>
<line x1="152.8" y1="1122.0" x2="152.8" y2="1112.0" stroke="#5a5a5a" stroke-width="1.6"/>
<line x1="262.3" y1="1122.0" x2="262.3" y2="1112.0" stroke="#5a5a5a" stroke-width="1.6"/>
<line x1="371.8" y1="1122.0" x2="371.8" y2="1112.0" stroke="#5a5a5a" stroke-width="1.6"/>
<line x1="481.3" y1="1122.0" x2="481.3" y2="1112.0" stroke="#5a5a5a" stroke-width="1.6"/>
<line x1="590.8" y1="1122.0" x2="590.8" y2="1112.0" stroke="#5a5a5a" stroke-width="1.6"/>
<g font-size="27" fill="#1a1a1a" text-anchor="middle">
<text x="43.3" y="1157.4">2220</text>
<text x="152.8" y="1157.4">2240</text>
<text x="262.3" y="1157.4">2260</text>
<text x="371.8" y="1157.4">2280</text>
<text x="481.3" y="1157.4">2300</text>
<text x="590.8" y="1157.4">2320</text>
</g>
<line x1="270" y1="648.3" x2="270" y2="669" stroke="#8c8c8c" stroke-width="1.9"/><polygon points="263.25,667 276.75,667 270,684.2" fill="#000"/>
<line x1="414.8" y1="979" x2="414.8" y2="998.8" stroke="#adadad" stroke-width="2.2"/><polygon points="408.3,981 421.3,981 414.8,966.2" fill="#000"/>
<line x1="599" y1="1079.6" x2="599" y2="1097.8" stroke="#adadad" stroke-width="2.2"/><polygon points="592.75,1081.6 605.25,1081.6 599,1065.3" fill="#000"/>
<text transform="translate(32,856) rotate(-90)" font-size="26" fill="#1a1a1a" text-anchor="middle">Relative Intensity</text>
<text x="344.9" y="1192" font-size="24" fill="#444" text-anchor="middle">Raman Shift (cm<tspan font-size="14.5" dy="-10">-1</tspan><tspan dy="10">)</tspan></text>
</g>
<g id="tr">
<line x1="872.5" y1="248.3" x2="872.5" y2="489.3" stroke="#c6c6c6" stroke-width="1.4"/>
<line x1="969.0" y1="248.3" x2="969.0" y2="489.3" stroke="#c6c6c6" stroke-width="1.4"/>
<line x1="1065.4" y1="248.3" x2="1065.4" y2="489.3" stroke="#c6c6c6" stroke-width="1.4"/>
<line x1="1161.9" y1="248.3" x2="1161.9" y2="489.3" stroke="#c6c6c6" stroke-width="1.4"/>
<line x1="776.1" y1="441.2" x2="1258.3" y2="441.2" stroke="#c6c6c6" stroke-width="1.4"/>
<line x1="776.1" y1="393.0" x2="1258.3" y2="393.0" stroke="#c6c6c6" stroke-width="1.4"/>
<line x1="776.1" y1="344.9" x2="1258.3" y2="344.9" stroke="#c6c6c6" stroke-width="1.4"/>
<line x1="776.1" y1="296.7" x2="1258.3" y2="296.7" stroke="#c6c6c6" stroke-width="1.4"/>
<path d="M806.9,313.9 L815.3,317.4 L823.8,320.8 L832.2,324.2 L840.6,327.6 L849.0,331.0 L857.5,334.4 L865.9,337.7 L874.3,341.0 L882.7,344.3 L891.2,347.6 L899.6,350.9 L908.0,354.1 L916.5,357.4 L924.9,360.6 L933.3,363.8 L941.7,366.9 L950.2,370.1 L958.6,373.2 L967.0,376.3 L975.5,379.4 L983.9,382.5 L992.3,385.6 L1000.7,388.6 L1009.2,391.6 L1017.6,394.6 L1026.0,397.6 L1034.4,400.6 L1042.9,403.5 L1051.3,406.5" fill="none" stroke="#111" stroke-width="3.3"/>
<g fill="#fff" stroke="#6a6a6a" stroke-width="1.3">
<polygon points="807.2,294.6 817.0,304.4 807.2,314.2 797.4,304.4"/>
<polygon points="822.0,316.5 831.8,326.3 822.0,336.1 812.2,326.3"/>
<polygon points="836.4,319.0 846.2,328.8 836.4,338.6 826.6,328.8"/>
<polygon points="863.8,320.2 873.6,330.0 863.8,339.8 854.0,330.0"/>
<polygon points="872.5,332.7 882.3,342.5 872.5,352.3 862.7,342.5"/>
<polygon points="883.3,339.0 893.1,348.8 883.3,358.6 873.5,348.8"/>
<polygon points="896.6,341.5 906.4,351.3 896.6,361.1 886.9,351.3"/>
<polygon points="913.9,343.3 923.7,353.1 913.9,362.9 904.1,353.1"/>
<polygon points="936.8,356.5 946.6,366.3 936.8,376.1 927.0,366.3"/>
<polygon points="969.0,365.8 978.8,375.6 969.0,385.4 959.2,375.6"/>
<polygon points="1000.4,378.3 1010.2,388.1 1000.4,397.9 990.6,388.1"/>
<polygon points="1017.2,384.6 1027.0,394.4 1017.2,404.2 1007.4,394.4"/>
<polygon points="1033.3,390.2 1043.1,400.0 1033.3,409.8 1023.5,400.0"/>
<polygon points="1051.6,397.1 1061.4,406.9 1051.6,416.7 1041.8,406.9"/>
</g>
<line x1="776.1" y1="247.3" x2="776.1" y2="490.1" stroke="#4a4a4a" stroke-width="1.6"/>
<line x1="775.3000000000001" y1="489.3" x2="1259.3" y2="489.3" stroke="#4a4a4a" stroke-width="1.6"/>
<line x1="775.3000000000001" y1="248.3" x2="1259.3999999999999" y2="248.3" stroke="#4a4a4a" stroke-width="2.2"/>
<line x1="1258.3" y1="247.3" x2="1258.3" y2="490.1" stroke="#4a4a4a" stroke-width="2.2"/>
<line x1="872.5" y1="489.3" x2="872.5" y2="478.3" stroke="#5a5a5a" stroke-width="1.6"/>
<line x1="969.0" y1="489.3" x2="969.0" y2="478.3" stroke="#5a5a5a" stroke-width="1.6"/>
<line x1="1065.4" y1="489.3" x2="1065.4" y2="478.3" stroke="#5a5a5a" stroke-width="1.6"/>
<line x1="1161.9" y1="489.3" x2="1161.9" y2="478.3" stroke="#5a5a5a" stroke-width="1.6"/>
<g font-size="27" fill="#1a1a1a" text-anchor="middle">
<line x1="807.2" y1="248.3" x2="807.2" y2="253.8" stroke="#222" stroke-width="2"/>
<text x="807.2" y="238.6">30</text>
<line x1="872.5" y1="248.3" x2="872.5" y2="253.8" stroke="#222" stroke-width="2"/>
<text x="872.5" y="238.6">9</text>
<line x1="936.8" y1="248.3" x2="936.8" y2="253.8" stroke="#222" stroke-width="2"/>
<text x="936.8" y="238.6">5</text>
<line x1="969.0" y1="248.3" x2="969.0" y2="253.8" stroke="#222" stroke-width="2"/>
<text x="969.0" y="238.6">4</text>
<line x1="1017.2" y1="248.3" x2="1017.2" y2="253.8" stroke="#222" stroke-width="2"/>
<text x="1017.2" y="238.6">3</text>
<line x1="1097.6" y1="248.3" x2="1097.6" y2="253.8" stroke="#222" stroke-width="2"/>
<text x="1097.6" y="238.6">2</text>
<text x="1258.3" y="238.6">1</text>
</g>
<g font-size="27" fill="#1a1a1a" text-anchor="end">
<text x="758" y="498.0">0</text>
<text x="758" y="449.9">1</text>
<text x="758" y="401.7">2</text>
<text x="758" y="353.6">3</text>
<text x="758" y="305.4">4</text>
<text x="758" y="257.2">5</text>
</g>
<text x="722.5" y="376.5" font-size="25" font-style="italic" fill="#1a1a1a" text-anchor="middle">N</text>
<text x="1259.5" y="202.3" font-size="27" fill="#1a1a1a" text-anchor="end">AN/LiDFOB</text>
</g>
<g id="br">
<line x1="872.5" y1="519.0" x2="872.5" y2="1123.0" stroke="#c6c6c6" stroke-width="1.4"/>
<line x1="969.0" y1="519.0" x2="969.0" y2="1123.0" stroke="#c6c6c6" stroke-width="1.4"/>
<line x1="1065.4" y1="519.0" x2="1065.4" y2="1123.0" stroke="#c6c6c6" stroke-width="1.4"/>
<line x1="1161.9" y1="519.0" x2="1161.9" y2="1123.0" stroke="#c6c6c6" stroke-width="1.4"/>
<line x1="776.1" y1="1002.2" x2="1258.3" y2="1002.2" stroke="#c6c6c6" stroke-width="1.4"/>
<line x1="776.1" y1="881.4" x2="1258.3" y2="881.4" stroke="#c6c6c6" stroke-width="1.4"/>
<line x1="776.1" y1="760.6" x2="1258.3" y2="760.6" stroke="#c6c6c6" stroke-width="1.4"/>
<line x1="776.1" y1="639.8" x2="1258.3" y2="639.8" stroke="#c6c6c6" stroke-width="1.4"/>
<path d="M776.1,519.0 L778.4,525.9 L780.7,532.5 L783.0,539.0 L785.4,545.3 L787.7,551.5 L790.0,557.4 L792.3,563.2 L794.6,568.7 L796.9,574.1 L799.3,579.4 L801.6,584.4 L803.9,589.3 L806.2,594.0 L808.5,598.5 L810.8,602.6 L813.1,606.3 L815.5,610.0 L817.8,613.7 L820.1,617.6 L822.4,621.8 L824.7,626.5 L827.0,631.4 L829.4,636.5 L831.7,641.7 L834.0,647.0 L836.3,652.3 L838.6,658.0 L840.9,664.2 L843.2,670.9 L845.6,677.9 L847.9,684.9 L850.2,691.7 L852.5,698.2 L854.8,704.1 L857.1,709.3 L859.5,713.5 L861.8,716.5 L864.1,718.2 L866.4,718.9 L868.7,719.5 L871.0,720.1 L873.4,721.3 L875.7,724.0 L878.0,728.0 L880.3,732.6 L882.6,737.2 L884.9,741.5 L887.2,745.9 L889.6,750.5 L891.9,755.2 L894.2,760.0 L896.5,764.7 L898.8,769.6 L901.1,774.9 L903.5,780.3 L905.8,785.6 L908.1,790.7 L910.4,795.4 L912.7,799.5 L915.0,802.9 L917.3,805.9 L919.7,808.5 L922.0,811.0 L924.3,813.2 L926.6,815.4 L928.9,817.6 L931.2,819.8 L933.6,822.2 L935.9,824.8 L938.2,827.8 L940.5,830.9 L942.8,834.4 L945.1,838.0 L947.4,841.7 L949.8,845.5 L952.1,849.4 L954.4,853.3 L956.7,857.2 L959.0,860.9 L961.3,864.5 L963.7,868.0 L966.0,871.2 L968.3,874.2 L970.6,876.9 L972.9,879.5 L975.2,882.0 L977.5,884.4 L979.9,886.7 L982.2,889.0 L984.5,891.2 L986.8,893.3 L989.1,895.4 L991.4,897.4 L993.8,899.4 L996.1,901.4 L998.4,903.3 L1000.7,905.2 L1003.0,907.1 L1005.3,909.0 L1007.6,910.9 L1010.0,912.7 L1012.3,914.3 L1014.6,915.9 L1016.9,917.4 L1019.2,918.7 L1021.5,920.0 L1023.9,921.3 L1026.2,922.5 L1028.5,923.7 L1030.8,924.9 L1033.1,926.0 L1035.4,927.1 L1037.7,928.2 L1040.1,929.1 L1042.4,930.0 L1044.7,930.9 L1047.0,931.7 L1049.3,932.4 L1051.6,933.0" fill="none" stroke="#111" stroke-width="3.3"/>
<g fill="#fff" stroke="#6a6a6a" stroke-width="1.3">
<circle cx="776.1" cy="519.0" r="9.3"/>
<circle cx="807.2" cy="596.0" r="9.3"/>
<circle cx="822.0" cy="621.1" r="9.3"/>
<circle cx="836.4" cy="652.5" r="9.3"/>
<circle cx="863.8" cy="718.0" r="9.3"/>
<circle cx="872.5" cy="720.7" r="9.3"/>
<circle cx="883.3" cy="738.4" r="9.3"/>
<circle cx="896.6" cy="765.0" r="9.3"/>
<circle cx="913.9" cy="801.3" r="9.3"/>
<circle cx="936.8" cy="826.0" r="9.3"/>
<circle cx="969.0" cy="875.0" r="9.3"/>
<circle cx="1000.4" cy="905.0" r="9.3"/>
<circle cx="1017.2" cy="917.5" r="9.3"/>
<circle cx="1051.6" cy="933.0" r="9.3"/>
</g>
<path d="M776.1,1123.0 L778.4,1116.1 L780.7,1109.5 L783.0,1103.0 L785.4,1096.7 L787.7,1090.5 L790.0,1084.6 L792.3,1078.8 L794.6,1073.3 L796.9,1067.9 L799.3,1062.6 L801.6,1057.6 L803.9,1052.7 L806.2,1048.0 L808.5,1043.5 L810.8,1039.4 L813.1,1035.7 L815.5,1032.0 L817.8,1028.3 L820.1,1024.4 L822.4,1020.2 L824.7,1015.5 L827.0,1010.6 L829.4,1005.5 L831.7,1000.3 L834.0,995.0 L836.3,989.7 L838.6,984.0 L840.9,977.8 L843.2,971.1 L845.6,964.1 L847.9,957.1 L850.2,950.3 L852.5,943.8 L854.8,937.9 L857.1,932.7 L859.5,928.5 L861.8,925.5 L864.1,923.8 L866.4,923.1 L868.7,922.5 L871.0,921.9 L873.4,920.7 L875.7,918.0 L878.0,914.0 L880.3,909.4 L882.6,904.8 L884.9,900.5 L887.2,896.1 L889.6,891.5 L891.9,886.8 L894.2,882.0 L896.5,877.3 L898.8,872.4 L901.1,867.1 L903.5,861.7 L905.8,856.4 L908.1,851.3 L910.4,846.6 L912.7,842.5 L915.0,839.1 L917.3,836.1 L919.7,833.5 L922.0,831.0 L924.3,828.8 L926.6,826.6 L928.9,824.4 L931.2,822.2 L933.6,819.8 L935.9,817.2 L938.2,814.2 L940.5,811.1 L942.8,807.6 L945.1,804.0 L947.4,800.3 L949.8,796.5 L952.1,792.6 L954.4,788.7 L956.7,784.8 L959.0,781.1 L961.3,777.5 L963.7,774.0 L966.0,770.8 L968.3,767.8 L970.6,765.1 L972.9,762.5 L975.2,760.0 L977.5,757.6 L979.9,755.3 L982.2,753.0 L984.5,750.8 L986.8,748.7 L989.1,746.6 L991.4,744.6 L993.8,742.6 L996.1,740.6 L998.4,738.7 L1000.7,736.8 L1003.0,734.9 L1005.3,733.0 L1007.6,731.1 L1010.0,729.3 L1012.3,727.7 L1014.6,726.1 L1016.9,724.6 L1019.2,723.3 L1021.5,722.0 L1023.9,720.7 L1026.2,719.5 L1028.5,718.3 L1030.8,717.1 L1033.1,716.0 L1035.4,714.9 L1037.7,713.8 L1040.1,712.9 L1042.4,712.0 L1044.7,711.1 L1047.0,710.3 L1049.3,709.6 L1051.6,709.0" fill="none" stroke="#111" stroke-width="3.3"/>
<g fill="#fff" stroke="#6a6a6a" stroke-width="1.3">
<polygon points="776.1,1113.2 785.9,1123.0 776.1,1132.8 766.3,1123.0"/>
<polygon points="807.2,1036.2 817.0,1046.0 807.2,1055.8 797.4,1046.0"/>
<polygon points="822.0,1011.1 831.8,1020.9 822.0,1030.7 812.2,1020.9"/>
<polygon points="836.4,979.7 846.2,989.5 836.4,999.3 826.6,989.5"/>
<polygon points="863.8,914.2 873.6,924.0 863.8,933.8 854.0,924.0"/>
<polygon points="872.5,911.5 882.3,921.3 872.5,931.1 862.7,921.3"/>
<polygon points="883.3,893.8 893.1,903.6 883.3,913.4 873.5,903.6"/>
<polygon points="896.6,867.2 906.4,877.0 896.6,886.8 886.9,877.0"/>
<polygon points="913.9,830.9 923.7,840.7 913.9,850.5 904.1,840.7"/>
<polygon points="936.8,806.2 946.6,816.0 936.8,825.8 927.0,816.0"/>
<polygon points="969.0,757.2 978.8,767.0 969.0,776.8 959.2,767.0"/>
<polygon points="1000.4,727.2 1010.2,737.0 1000.4,746.8 990.6,737.0"/>
<polygon points="1017.2,714.7 1027.0,724.5 1017.2,734.3 1007.4,724.5"/>
<polygon points="1051.6,699.2 1061.4,709.0 1051.6,718.8 1041.8,709.0"/>
</g>
<path d="M776.1,519.0 L778.3,524.3 L780.4,529.5 L782.6,534.6 L784.7,539.5 L786.9,544.5 L789.1,549.3 L791.2,554.0 L793.4,558.7 L795.6,563.2 L797.7,567.7 L799.9,572.1 L802.0,576.4 L804.2,580.7 L806.4,584.8 L808.5,588.9 L810.7,592.8 L812.8,596.3 L815.0,599.8 L817.2,603.3 L819.3,606.8 L821.5,610.6 L823.6,614.8 L825.8,619.3 L828.0,624.2 L830.1,629.3 L832.3,634.6 L834.5,640.2 L836.6,646.0 L838.8,652.1 L840.9,659.1 L843.1,667.0 L845.3,675.4 L847.4,684.0 L849.6,692.8 L851.7,701.3 L853.9,709.3 L856.1,716.6 L858.2,722.9 L860.4,728.1 L862.5,731.7 L864.7,733.8 L866.9,735.0 L869.0,736.3 L871.2,738.9 L873.4,743.8 L875.5,750.4 L877.7,757.3 L879.8,763.7 L882.0,769.6 L884.2,775.7 L886.3,781.7 L888.5,787.8 L890.6,793.7 L892.8,799.5 L895.0,805.0 L897.1,810.2 L899.3,815.0 L901.4,819.4 L903.6,823.8 L905.8,828.1 L907.9,832.7 L910.1,837.6 L912.3,843.0 L914.4,849.2 L916.6,857.1 L918.7,866.6 L920.9,877.2 L923.1,888.6 L925.2,900.3 L927.4,911.8 L929.5,922.7 L931.7,932.5 L933.9,940.9 L936.0,947.3 L938.2,951.7 L940.3,955.6 L942.5,959.3 L944.7,962.7 L946.8,965.9 L949.0,968.8 L951.2,971.5 L953.3,974.0 L955.5,976.4 L957.6,978.6 L959.8,980.7 L962.0,982.8 L964.1,984.7 L966.3,986.6 L968.4,988.4 L970.6,990.3 L972.8,992.1 L974.9,993.8 L977.1,995.5 L979.2,997.2 L981.4,998.8 L983.6,1000.3 L985.7,1001.8 L987.9,1003.2 L990.1,1004.5 L992.2,1005.8 L994.4,1006.9 L996.5,1008.0 L998.7,1009.0 L1000.9,1009.9 L1003.0,1010.6 L1005.2,1011.2 L1007.3,1011.6 L1009.5,1012.1 L1011.7,1012.6 L1013.8,1013.3 L1016.0,1014.2 L1018.1,1015.8 L1020.3,1018.6 L1022.5,1022.7 L1024.6,1027.6 L1026.8,1033.4 L1029.0,1039.9 L1031.1,1046.8 L1033.3,1054.1" fill="none" stroke="#777" stroke-width="1.3" stroke-dasharray="3.5 4"/>
<g fill="none" stroke="#6a6a6a" stroke-width="1.3">
<path d="M766.1,509.0L786.1,529.0M766.1,529.0L786.1,509.0"/>
<path d="M798.2,578.3L818.2,598.3M798.2,598.3L818.2,578.3"/>
<path d="M813.5,604.4L833.5,624.4M813.5,624.4L833.5,604.4"/>
<path d="M827.5,638.5L847.5,658.5M827.5,658.5L847.5,638.5"/>
<path d="M853.3,722.6L873.3,742.6M853.3,742.6L873.3,722.6"/>
<path d="M860.1,727.3L880.1,747.3M860.1,747.3L880.1,727.3"/>
<path d="M869.5,752.7L889.5,772.7M869.5,772.7L889.5,752.7"/>
<path d="M885.7,796.8L905.7,816.8M885.7,816.8L905.7,796.8"/>
<path d="M903.9,837.6L923.9,857.6M903.9,857.6L923.9,837.6"/>
<path d="M926.8,939.0L946.8,959.0M926.8,959.0L946.8,939.0"/>
<path d="M959.0,978.9L979.0,998.9M959.0,998.9L979.0,978.9"/>
<path d="M991.3,1000.1L1011.3,1020.1M991.3,1020.1L1011.3,1000.1"/>
<path d="M1006.2,1004.3L1026.2,1024.3M1006.2,1024.3L1026.2,1004.3"/>
<path d="M1023.3,1044.1L1043.3,1064.1M1023.3,1064.1L1043.3,1044.1"/>
</g>
<path d="M776.1,1123.0 L778.3,1117.6 L780.4,1112.4 L782.6,1107.2 L784.7,1102.1 L786.9,1097.1 L789.1,1092.2 L791.2,1087.4 L793.4,1082.7 L795.6,1078.0 L797.7,1073.4 L799.9,1068.9 L802.0,1064.5 L804.2,1060.1 L806.4,1055.8 L808.5,1051.7 L810.7,1047.8 L812.8,1044.1 L815.0,1040.5 L817.2,1036.8 L819.3,1032.9 L821.5,1028.7 L823.6,1024.1 L825.8,1019.1 L828.0,1013.7 L830.1,1008.2 L832.3,1002.5 L834.5,996.7 L836.6,990.9 L838.8,984.6 L840.9,977.8 L843.1,970.6 L845.3,963.1 L847.4,955.5 L849.6,948.0 L851.7,940.7 L853.9,933.7 L856.1,927.2 L858.2,921.4 L860.4,916.4 L862.5,912.3 L864.7,909.4 L866.9,907.4 L869.0,905.7 L871.2,903.6 L873.4,900.7 L875.5,896.9 L877.7,892.6 L879.8,887.8 L882.0,882.6 L884.2,877.2 L886.3,870.7 L888.5,863.5 L890.6,855.9 L892.8,848.4 L895.0,841.4 L897.1,835.5 L899.3,830.5 L901.4,826.1 L903.6,822.0 L905.8,818.0 L907.9,813.9 L910.1,809.4 L912.3,804.3 L914.4,798.2 L916.6,790.2 L918.7,780.2 L920.9,768.8 L923.1,756.6 L925.2,743.9 L927.4,731.4 L929.5,719.6 L931.7,708.9 L933.9,700.0 L936.0,693.3 L938.2,688.9 L940.3,684.9 L942.5,681.3 L944.7,677.9 L946.8,674.8 L949.0,672.0 L951.2,669.3 L953.3,666.8 L955.5,664.5 L957.6,662.4 L959.8,660.4 L962.0,658.4 L964.1,656.5 L966.3,654.7 L968.4,652.9 L970.6,651.2 L972.8,649.4 L974.9,647.8 L977.1,646.2 L979.2,644.7 L981.4,643.2 L983.6,641.8 L985.7,640.4 L987.9,639.1 L990.1,637.9 L992.2,636.7 L994.4,635.6 L996.5,634.5 L998.7,633.5 L1000.9,632.5 L1003.0,631.7 L1005.2,631.1 L1007.3,630.5 L1009.5,630.0 L1011.7,629.3 L1013.8,628.5 L1016.0,627.5 L1018.1,626.1 L1020.3,623.5 L1022.5,619.6 L1024.6,614.7 L1026.8,609.0 L1029.0,602.6 L1031.1,595.7 L1033.3,588.5" fill="none" stroke="#777" stroke-width="1.3" stroke-dasharray="3.5 4"/>
<g fill="#fff" stroke="#6a6a6a" stroke-width="1.3">
<polygon points="776.1,1114.6 786.2,1131.4 766.0,1131.4"/>
<polygon points="807.2,1045.7 817.4,1062.5 797.1,1062.5"/>
<polygon points="822.0,1019.2 832.2,1036.0 811.9,1036.0"/>
<polygon points="836.4,983.1 846.5,999.9 826.2,999.9"/>
<polygon points="863.8,902.1 873.9,918.9 853.6,918.9"/>
<polygon points="871.8,894.5 881.9,911.3 861.6,911.3"/>
<polygon points="883.3,871.1 893.4,887.9 873.1,887.9"/>
<polygon points="896.6,828.3 906.8,845.1 886.5,845.1"/>
<polygon points="913.9,791.5 924.0,808.3 903.7,808.3"/>
<polygon points="936.8,683.1 947.0,699.9 926.7,699.9"/>
<polygon points="969.0,644.1 979.1,660.9 958.8,660.9"/>
<polygon points="1000.4,624.3 1010.5,641.1 990.2,641.1"/>
<polygon points="1017.2,618.4 1027.4,635.2 1007.1,635.2"/>
<polygon points="1033.3,580.1 1043.4,596.9 1023.1,596.9"/>
</g>
<rect x="1053.4" y="759.6" width="186" height="121" fill="#fff" stroke="#4a4a4a" stroke-width="1.8"/>
<line x1="1066" y1="781.4" x2="1125" y2="781.4" stroke="#222" stroke-width="3.2"/>
<line x1="1066" y1="808" x2="1125" y2="808" stroke="#222" stroke-width="3.2"/>
<line x1="1071" y1="835.1" x2="1121" y2="835.1" stroke="#777" stroke-width="1.3" stroke-dasharray="3.5 4"/>
<line x1="1071" y1="861.5" x2="1121" y2="861.5" stroke="#777" stroke-width="1.3" stroke-dasharray="3.5 4"/>
<g fill="#fff" stroke="#6a6a6a" stroke-width="1.3">
<circle cx="1095.0" cy="781.4" r="9.3"/>
<polygon points="1095.0,798.2 1104.8,808.0 1095.0,817.8 1085.2,808.0"/>
<polygon points="1095.5,853.7 1106.0,870.3 1085.0,870.3"/>
</g>
<g fill="none" stroke="#6a6a6a" stroke-width="1.3"><path d="M1085.1,824.7L1105.9,845.5M1085.1,845.5L1105.9,824.7"/></g>
<g font-size="19.5" fill="#222">
<text x="1130.6" y="787.9">2251+2254</text>
<text x="1130.6" y="814.2">2277</text>
<text x="1130.6" y="841.2">918+922</text>
<text x="1130.6" y="867.9">930</text>
</g>
<line x1="776.1" y1="518.0" x2="776.1" y2="1123.8" stroke="#4a4a4a" stroke-width="1.6"/>
<line x1="775.3000000000001" y1="1123.0" x2="1259.3" y2="1123.0" stroke="#4a4a4a" stroke-width="1.6"/>
<line x1="775.3000000000001" y1="519.0" x2="1259.5" y2="519.0" stroke="#4a4a4a" stroke-width="2.4"/>
<line x1="1258.3" y1="518.0" x2="1258.3" y2="1123.8" stroke="#4a4a4a" stroke-width="2.4"/>
<line x1="872.5" y1="1123.0" x2="872.5" y2="1112.0" stroke="#5a5a5a" stroke-width="1.6"/>
<line x1="969.0" y1="1123.0" x2="969.0" y2="1112.0" stroke="#5a5a5a" stroke-width="1.6"/>
<line x1="1065.4" y1="1123.0" x2="1065.4" y2="1112.0" stroke="#5a5a5a" stroke-width="1.6"/>
<line x1="1161.9" y1="1123.0" x2="1161.9" y2="1112.0" stroke="#5a5a5a" stroke-width="1.6"/>
<g fill="none" stroke="#6a6a6a" stroke-width="1.3"><path d="M766.1,509.0L786.1,529.0M766.1,529.0L786.1,509.0"/></g>
<g fill="#fff" stroke="#6a6a6a" stroke-width="1.3"><circle cx="776.1" cy="519.0" r="9.3"/><polygon points="776.1,1113.2 785.9,1123.0 776.1,1132.8 766.3,1123.0"/><polygon points="776.1,1114.6 786.2,1131.4 766.0,1131.4"/></g>
<g fill="none" stroke="#6a6a6a" stroke-width="1.3"><path d="M766.1,509.0L786.1,529.0M766.1,529.0L786.1,509.0"/></g>
<g font-size="27" fill="#1a1a1a" text-anchor="end">
<text x="758" y="527.6">1</text>
<text x="758" y="648.4">0.8</text>
<text x="758" y="769.2">0.6</text>
<text x="758" y="890.0">0.4</text>
<text x="758" y="1010.8">0.2</text>
<text x="758" y="1131.6">0</text>
</g>
<g font-size="27" fill="#1a1a1a" text-anchor="middle">
<text x="776.1" y="1160.4">0</text>
<text x="872.5" y="1160.4">0.1</text>
<text x="969.0" y="1160.4">0.2</text>
<text x="1065.4" y="1160.4">0.3</text>
<text x="1161.9" y="1160.4">0.4</text>
<text x="1258.3" y="1160.4">0.5</text>
</g>
<text x="660" y="798.1" font-size="24.5" fill="#1a1a1a">A<tspan font-size="18.3" dx="1.2" dy="13.2">peak</tspan></text>
<line x1="678.3" y1="815.3" x2="716.6" y2="815.3" stroke="#333" stroke-width="1.4"/>
<text x="660" y="843" font-size="24.5" fill="#1a1a1a">A<tspan font-size="18.3" dx="1.2" dy="13.3">total</tspan></text>
<text x="980" y="1192.5" font-size="25" fill="#1a1a1a">x<tspan font-size="17.8" dy="13.1">LiDFOB</tspan></text>
</g>
</svg>
</body></html>
